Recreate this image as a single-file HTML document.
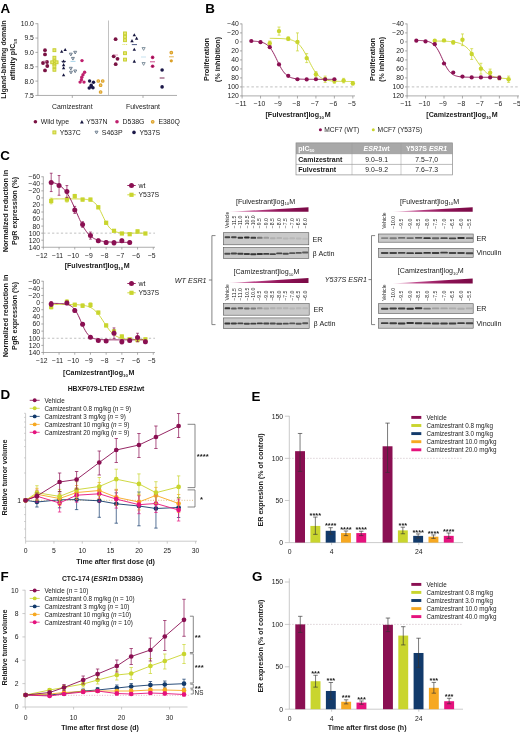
<!DOCTYPE html>
<html><head><meta charset="utf-8"><title>Figure</title>
<style>
html,body{margin:0;padding:0;background:#fff;}
body{width:520px;height:734px;overflow:hidden;}
svg{display:block;font-family:'Liberation Sans', Arial, sans-serif;}
</style></head><body>
<svg width="520" height="734" viewBox="0 0 520 734">
<defs>
<linearGradient id="wedge" x1="0" x2="1" y1="0" y2="0"><stop offset="0" stop-color="#f0cadd"/><stop offset="0.3" stop-color="#bd4a8c"/><stop offset="0.65" stop-color="#8f1257"/><stop offset="1" stop-color="#7a0a46"/></linearGradient>
<filter id="bl" x="-20%" y="-50%" width="140%" height="200%"><feGaussianBlur stdDeviation="0.45"/></filter>
</defs>
<rect width="520" height="734" fill="#fff"/>
<text x="0.6" y="12.5" font-size="13.4" text-anchor="start" font-weight="bold" font-style="normal" fill="#000">A</text>
<line x1="37.90" y1="23.40" x2="37.90" y2="95.75" stroke="#8a8a8a" stroke-width="0.7" stroke-linecap="butt"/>
<line x1="37.90" y1="95.45" x2="177.00" y2="95.45" stroke="#8a8a8a" stroke-width="0.7" stroke-linecap="butt"/>
<line x1="35.40" y1="23.70" x2="37.90" y2="23.70" stroke="#8a8a8a" stroke-width="0.7" stroke-linecap="butt"/>
<text x="33.9" y="26.099999999999998" font-size="6.8" text-anchor="end" font-weight="normal" font-style="normal" fill="#1a1a1a">10.0</text>
<line x1="35.40" y1="38.05" x2="37.90" y2="38.05" stroke="#8a8a8a" stroke-width="0.7" stroke-linecap="butt"/>
<text x="33.9" y="40.449999999999996" font-size="6.8" text-anchor="end" font-weight="normal" font-style="normal" fill="#1a1a1a">9.5</text>
<line x1="35.40" y1="52.40" x2="37.90" y2="52.40" stroke="#8a8a8a" stroke-width="0.7" stroke-linecap="butt"/>
<text x="33.9" y="54.8" font-size="6.8" text-anchor="end" font-weight="normal" font-style="normal" fill="#1a1a1a">9.0</text>
<line x1="35.40" y1="66.75" x2="37.90" y2="66.75" stroke="#8a8a8a" stroke-width="0.7" stroke-linecap="butt"/>
<text x="33.9" y="69.15" font-size="6.8" text-anchor="end" font-weight="normal" font-style="normal" fill="#1a1a1a">8.5</text>
<line x1="35.40" y1="81.10" x2="37.90" y2="81.10" stroke="#8a8a8a" stroke-width="0.7" stroke-linecap="butt"/>
<text x="33.9" y="83.5" font-size="6.8" text-anchor="end" font-weight="normal" font-style="normal" fill="#1a1a1a">8.0</text>
<line x1="35.40" y1="95.45" x2="37.90" y2="95.45" stroke="#8a8a8a" stroke-width="0.7" stroke-linecap="butt"/>
<text x="33.9" y="97.85000000000001" font-size="6.8" text-anchor="end" font-weight="normal" font-style="normal" fill="#1a1a1a">7.5</text>
<line x1="108.50" y1="20.50" x2="108.50" y2="95.45" stroke="#a8a8a8" stroke-width="0.7" stroke-linecap="butt"/>
<line x1="72.30" y1="95.45" x2="72.30" y2="97.95" stroke="#8a8a8a" stroke-width="0.7" stroke-linecap="butt"/>
<line x1="143.00" y1="95.45" x2="143.00" y2="97.95" stroke="#8a8a8a" stroke-width="0.7" stroke-linecap="butt"/>
<text x="72.3" y="108.5" font-size="6.9" text-anchor="middle" font-weight="normal" font-style="normal" fill="#1a1a1a">Camizestrant</text>
<text x="143" y="108.5" font-size="6.9" text-anchor="middle" font-weight="normal" font-style="normal" fill="#1a1a1a">Fulvestrant</text>
<text x="6.5" y="59.6" font-size="7.1" text-anchor="middle" font-weight="bold" font-style="normal" fill="#1a1a1a" transform="rotate(-90 6.5 59.6)">Ligand-binding domain</text>
<text x="15.5" y="59.6" font-size="7.1" text-anchor="middle" font-weight="bold" fill="#1a1a1a" transform="rotate(-90 15.5 59.6)">affinity pIC<tspan font-size="4.4" dy="1.4">50</tspan></text>
<circle cx="45.00" cy="50.20" r="1.9" fill="#7a1243" stroke="none" stroke-width="0"/>
<circle cx="45.00" cy="54.40" r="1.9" fill="#7a1243" stroke="none" stroke-width="0"/>
<circle cx="43.00" cy="63.00" r="1.9" fill="#7a1243" stroke="none" stroke-width="0"/>
<circle cx="47.00" cy="62.00" r="1.9" fill="#7a1243" stroke="none" stroke-width="0"/>
<circle cx="47.30" cy="66.00" r="1.9" fill="#7a1243" stroke="none" stroke-width="0"/>
<circle cx="45.00" cy="70.40" r="1.9" fill="#7a1243" stroke="none" stroke-width="0"/>
<line x1="43.00" y1="61.20" x2="47.00" y2="61.20" stroke="#c46a94" stroke-width="0.7" stroke-linecap="butt"/>
<rect x="52.95" y="48.75" width="2.90" height="2.90" fill="#e6e86e" stroke="#c4cc2c" stroke-width="0.9"/>
<rect x="52.95" y="56.25" width="2.90" height="2.90" fill="#e6e86e" stroke="#c4cc2c" stroke-width="0.9"/>
<rect x="52.95" y="59.75" width="2.90" height="2.90" fill="#e6e86e" stroke="#c4cc2c" stroke-width="0.9"/>
<rect x="52.95" y="62.35" width="2.90" height="2.90" fill="#e6e86e" stroke="#c4cc2c" stroke-width="0.9"/>
<rect x="52.95" y="64.95" width="2.90" height="2.90" fill="#e6e86e" stroke="#c4cc2c" stroke-width="0.9"/>
<rect x="52.95" y="68.35" width="2.90" height="2.90" fill="#e6e86e" stroke="#c4cc2c" stroke-width="0.9"/>
<rect x="50.75" y="60.85" width="2.90" height="2.90" fill="#e6e86e" stroke="#c4cc2c" stroke-width="0.9"/>
<rect x="55.15" y="60.85" width="2.90" height="2.90" fill="#e6e86e" stroke="#c4cc2c" stroke-width="0.9"/>
<polygon points="61.70,49.80 60.00,52.86 63.40,52.86" fill="#16163f"/>
<polygon points="65.20,47.90 63.50,50.96 66.90,50.96" fill="#16163f"/>
<polygon points="63.60,59.50 61.90,62.56 65.30,62.56" fill="#16163f"/>
<polygon points="63.60,63.10 61.90,66.16 65.30,66.16" fill="#16163f"/>
<polygon points="63.60,66.30 61.90,69.36 65.30,69.36" fill="#16163f"/>
<polygon points="63.60,73.30 61.90,76.36 65.30,76.36" fill="#16163f"/>
<line x1="61.50" y1="61.40" x2="66.00" y2="61.40" stroke="#16163f" stroke-width="0.8" stroke-linecap="butt"/>
<polygon points="70.80,55.90 69.30,53.20 72.30,53.20" fill="#f4f1f4" stroke="#6f8090" stroke-width="1.0"/>
<polygon points="75.20,54.00 73.70,51.30 76.70,51.30" fill="#f4f1f4" stroke="#6f8090" stroke-width="1.0"/>
<polygon points="72.90,60.10 71.40,57.40 74.40,57.40" fill="#f4f1f4" stroke="#6f8090" stroke-width="1.0"/>
<polygon points="70.80,70.00 69.30,67.30 72.30,67.30" fill="#f4f1f4" stroke="#6f8090" stroke-width="1.0"/>
<polygon points="75.20,72.70 73.70,70.00 76.70,70.00" fill="#f4f1f4" stroke="#6f8090" stroke-width="1.0"/>
<polygon points="71.00,73.90 69.50,71.20 72.50,71.20" fill="#f4f1f4" stroke="#6f8090" stroke-width="1.0"/>
<line x1="70.50" y1="61.40" x2="75.50" y2="61.40" stroke="#9fd0e6" stroke-width="0.9" stroke-linecap="butt"/>
<circle cx="82.00" cy="60.60" r="1.7" fill="#bf1f6d" stroke="none" stroke-width="0"/>
<circle cx="84.60" cy="72.20" r="1.7" fill="#bf1f6d" stroke="none" stroke-width="0"/>
<circle cx="83.00" cy="74.80" r="1.7" fill="#bf1f6d" stroke="none" stroke-width="0"/>
<circle cx="81.80" cy="77.20" r="1.7" fill="#bf1f6d" stroke="none" stroke-width="0"/>
<circle cx="81.40" cy="79.70" r="1.7" fill="#bf1f6d" stroke="none" stroke-width="0"/>
<circle cx="80.10" cy="82.10" r="1.7" fill="#bf1f6d" stroke="none" stroke-width="0"/>
<circle cx="84.00" cy="82.10" r="1.7" fill="#bf1f6d" stroke="none" stroke-width="0"/>
<circle cx="89.60" cy="81.00" r="1.7" fill="#1b1748" stroke="none" stroke-width="0"/>
<circle cx="93.50" cy="82.30" r="1.7" fill="#1b1748" stroke="none" stroke-width="0"/>
<circle cx="91.20" cy="85.20" r="1.7" fill="#1b1748" stroke="none" stroke-width="0"/>
<circle cx="89.20" cy="88.00" r="1.7" fill="#1b1748" stroke="none" stroke-width="0"/>
<circle cx="93.00" cy="87.70" r="1.7" fill="#1b1748" stroke="none" stroke-width="0"/>
<circle cx="91.20" cy="86.80" r="1.7" fill="#1b1748" stroke="none" stroke-width="0"/>
<circle cx="98.30" cy="81.00" r="1.3" fill="#efcf7a" stroke="#dca12a" stroke-width="1.15"/>
<circle cx="102.70" cy="81.00" r="1.3" fill="#efcf7a" stroke="#dca12a" stroke-width="1.15"/>
<circle cx="100.60" cy="85.20" r="1.3" fill="#efcf7a" stroke="#dca12a" stroke-width="1.15"/>
<circle cx="100.60" cy="92.00" r="1.3" fill="#efcf7a" stroke="#dca12a" stroke-width="1.15"/>
<circle cx="115.60" cy="39.20" r="1.9" fill="#7a1243" stroke="none" stroke-width="0"/>
<circle cx="113.70" cy="56.30" r="1.9" fill="#7a1243" stroke="none" stroke-width="0"/>
<circle cx="117.50" cy="58.80" r="1.9" fill="#7a1243" stroke="none" stroke-width="0"/>
<circle cx="115.70" cy="64.20" r="1.9" fill="#7a1243" stroke="none" stroke-width="0"/>
<line x1="114.00" y1="55.00" x2="118.00" y2="55.00" stroke="#d77aa6" stroke-width="0.7" stroke-linecap="butt"/>
<rect x="123.55" y="31.95" width="2.90" height="2.90" fill="#e6e86e" stroke="#c4cc2c" stroke-width="0.9"/>
<rect x="123.55" y="35.35" width="2.90" height="2.90" fill="#e6e86e" stroke="#c4cc2c" stroke-width="0.9"/>
<rect x="123.55" y="38.75" width="2.90" height="2.90" fill="#e6e86e" stroke="#c4cc2c" stroke-width="0.9"/>
<rect x="123.55" y="51.75" width="2.90" height="2.90" fill="#e6e86e" stroke="#c4cc2c" stroke-width="0.9"/>
<rect x="123.55" y="58.15" width="2.90" height="2.90" fill="#e6e86e" stroke="#c4cc2c" stroke-width="0.9"/>
<line x1="122.50" y1="44.50" x2="127.50" y2="44.50" stroke="#d9dd55" stroke-width="0.9" stroke-dasharray="1 0.8" stroke-linecap="butt"/>
<polygon points="134.30,33.30 132.60,36.36 136.00,36.36" fill="#16163f"/>
<polygon points="132.00,39.10 130.30,42.16 133.70,42.16" fill="#16163f"/>
<polygon points="136.60,36.60 134.90,39.66 138.30,39.66" fill="#16163f"/>
<polygon points="134.30,47.80 132.60,50.86 136.00,50.86" fill="#16163f"/>
<polygon points="134.30,59.60 132.60,62.66 136.00,62.66" fill="#16163f"/>
<line x1="131.80" y1="44.60" x2="137.00" y2="44.60" stroke="#3a4a78" stroke-width="0.9" stroke-linecap="butt"/>
<polygon points="143.60,50.40 142.00,47.52 145.20,47.52" fill="#f4f1f4" stroke="#8a9aa5" stroke-width="1.0"/>
<polygon points="143.60,65.40 142.00,62.52 145.20,62.52" fill="#f4f1f4" stroke="#8a9aa5" stroke-width="1.0"/>
<line x1="141.00" y1="57.00" x2="146.00" y2="57.00" stroke="#b9dcec" stroke-width="0.8" stroke-linecap="butt"/>
<circle cx="152.60" cy="57.40" r="1.8" fill="#bf1f6d" stroke="none" stroke-width="0"/>
<circle cx="152.60" cy="57.40" r="0.7" fill="#7a1243" stroke="none" stroke-width="0"/>
<circle cx="152.60" cy="66.30" r="1.8" fill="#bf1f6d" stroke="none" stroke-width="0"/>
<circle cx="152.60" cy="66.30" r="0.7" fill="#7a1243" stroke="none" stroke-width="0"/>
<line x1="150.00" y1="61.80" x2="155.00" y2="61.80" stroke="#bf1f6d" stroke-width="0.8" stroke-linecap="butt"/>
<circle cx="162.10" cy="70.00" r="1.8" fill="#1b1748" stroke="none" stroke-width="0"/>
<circle cx="162.10" cy="86.90" r="1.8" fill="#1b1748" stroke="none" stroke-width="0"/>
<line x1="159.70" y1="78.00" x2="164.50" y2="78.00" stroke="#6b1040" stroke-width="0.9" stroke-linecap="butt"/>
<circle cx="171.30" cy="52.60" r="1.3" fill="#efcf7a" stroke="#dca12a" stroke-width="1.15"/>
<circle cx="171.30" cy="60.80" r="1.6" fill="#dca12a" stroke="none" stroke-width="0"/>
<line x1="169.00" y1="56.80" x2="173.80" y2="56.80" stroke="#dca12a" stroke-width="0.8" stroke-linecap="butt"/>
<circle cx="35.40" cy="121.80" r="1.8" fill="#7a1243" stroke="none" stroke-width="0"/>
<text x="40.7" y="124.2" font-size="6.9" text-anchor="start" font-weight="normal" font-style="normal" fill="#1a1a1a">Wild type</text>
<polygon points="81.90,120.00 80.00,123.42 83.80,123.42" fill="#16163f"/>
<text x="86.3" y="124.2" font-size="6.9" text-anchor="start" font-weight="normal" font-style="normal" fill="#1a1a1a">Y537N</text>
<circle cx="117.00" cy="121.80" r="1.8" fill="#bf1f6d" stroke="none" stroke-width="0"/>
<text x="122.6" y="124.2" font-size="6.9" text-anchor="start" font-weight="normal" font-style="normal" fill="#1a1a1a">D538G</text>
<circle cx="152.70" cy="121.80" r="1.3" fill="#efcf7a" stroke="#dca12a" stroke-width="1.15"/>
<text x="158.4" y="124.2" font-size="6.9" text-anchor="start" font-weight="normal" font-style="normal" fill="#1a1a1a">E380Q</text>
<rect x="52.90" y="130.90" width="3.00" height="3.00" fill="#e6e86e" stroke="#c4cc2c" stroke-width="0.9"/>
<text x="59.7" y="134.8" font-size="6.9" text-anchor="start" font-weight="normal" font-style="normal" fill="#1a1a1a">Y537C</text>
<polygon points="96.50,133.90 95.00,131.20 98.00,131.20" fill="#f4f1f4" stroke="#6f8090" stroke-width="1.0"/>
<text x="101.8" y="134.8" font-size="6.9" text-anchor="start" font-weight="normal" font-style="normal" fill="#1a1a1a">S463P</text>
<circle cx="134.00" cy="132.40" r="1.8" fill="#1b1748" stroke="none" stroke-width="0"/>
<text x="139.4" y="134.8" font-size="6.9" text-anchor="start" font-weight="normal" font-style="normal" fill="#1a1a1a">Y537S</text>
<text x="205.3" y="12.5" font-size="13.4" text-anchor="start" font-weight="bold" font-style="normal" fill="#000">B</text>
<line x1="242.00" y1="23.60" x2="242.00" y2="96.20" stroke="#8a8a8a" stroke-width="0.7" stroke-linecap="butt"/>
<line x1="242.00" y1="95.90" x2="355.00" y2="95.90" stroke="#8a8a8a" stroke-width="0.7" stroke-linecap="butt"/>
<line x1="240.00" y1="23.90" x2="242.00" y2="23.90" stroke="#8a8a8a" stroke-width="0.7" stroke-linecap="butt"/>
<text x="238.8" y="26.299999999999997" font-size="6.8" text-anchor="end" font-weight="normal" font-style="normal" fill="#1a1a1a">−40</text>
<line x1="240.00" y1="32.90" x2="242.00" y2="32.90" stroke="#8a8a8a" stroke-width="0.7" stroke-linecap="butt"/>
<text x="238.8" y="35.3" font-size="6.8" text-anchor="end" font-weight="normal" font-style="normal" fill="#1a1a1a">−20</text>
<line x1="240.00" y1="41.90" x2="242.00" y2="41.90" stroke="#8a8a8a" stroke-width="0.7" stroke-linecap="butt"/>
<text x="238.8" y="44.3" font-size="6.8" text-anchor="end" font-weight="normal" font-style="normal" fill="#1a1a1a">0</text>
<line x1="240.00" y1="50.90" x2="242.00" y2="50.90" stroke="#8a8a8a" stroke-width="0.7" stroke-linecap="butt"/>
<text x="238.8" y="53.3" font-size="6.8" text-anchor="end" font-weight="normal" font-style="normal" fill="#1a1a1a">20</text>
<line x1="240.00" y1="59.90" x2="242.00" y2="59.90" stroke="#8a8a8a" stroke-width="0.7" stroke-linecap="butt"/>
<text x="238.8" y="62.3" font-size="6.8" text-anchor="end" font-weight="normal" font-style="normal" fill="#1a1a1a">40</text>
<line x1="240.00" y1="68.90" x2="242.00" y2="68.90" stroke="#8a8a8a" stroke-width="0.7" stroke-linecap="butt"/>
<text x="238.8" y="71.30000000000001" font-size="6.8" text-anchor="end" font-weight="normal" font-style="normal" fill="#1a1a1a">60</text>
<line x1="240.00" y1="77.90" x2="242.00" y2="77.90" stroke="#8a8a8a" stroke-width="0.7" stroke-linecap="butt"/>
<text x="238.8" y="80.30000000000001" font-size="6.8" text-anchor="end" font-weight="normal" font-style="normal" fill="#1a1a1a">80</text>
<line x1="240.00" y1="86.90" x2="242.00" y2="86.90" stroke="#8a8a8a" stroke-width="0.7" stroke-linecap="butt"/>
<text x="238.8" y="89.30000000000001" font-size="6.8" text-anchor="end" font-weight="normal" font-style="normal" fill="#1a1a1a">100</text>
<line x1="240.00" y1="95.90" x2="242.00" y2="95.90" stroke="#8a8a8a" stroke-width="0.7" stroke-linecap="butt"/>
<text x="238.8" y="98.30000000000001" font-size="6.8" text-anchor="end" font-weight="normal" font-style="normal" fill="#1a1a1a">120</text>
<line x1="242.08" y1="95.90" x2="242.08" y2="98.50" stroke="#8a8a8a" stroke-width="0.7" stroke-linecap="butt"/>
<text x="241.07999999999998" y="106.10000000000001" font-size="6.8" text-anchor="middle" font-weight="normal" font-style="normal" fill="#1a1a1a">−11</text>
<line x1="260.54" y1="95.90" x2="260.54" y2="98.50" stroke="#8a8a8a" stroke-width="0.7" stroke-linecap="butt"/>
<text x="259.54" y="106.10000000000001" font-size="6.8" text-anchor="middle" font-weight="normal" font-style="normal" fill="#1a1a1a">−10</text>
<line x1="279.00" y1="95.90" x2="279.00" y2="98.50" stroke="#8a8a8a" stroke-width="0.7" stroke-linecap="butt"/>
<text x="278.0" y="106.10000000000001" font-size="6.8" text-anchor="middle" font-weight="normal" font-style="normal" fill="#1a1a1a">−9</text>
<line x1="297.46" y1="95.90" x2="297.46" y2="98.50" stroke="#8a8a8a" stroke-width="0.7" stroke-linecap="butt"/>
<text x="296.46" y="106.10000000000001" font-size="6.8" text-anchor="middle" font-weight="normal" font-style="normal" fill="#1a1a1a">−8</text>
<line x1="315.92" y1="95.90" x2="315.92" y2="98.50" stroke="#8a8a8a" stroke-width="0.7" stroke-linecap="butt"/>
<text x="314.92" y="106.10000000000001" font-size="6.8" text-anchor="middle" font-weight="normal" font-style="normal" fill="#1a1a1a">−7</text>
<line x1="334.38" y1="95.90" x2="334.38" y2="98.50" stroke="#8a8a8a" stroke-width="0.7" stroke-linecap="butt"/>
<text x="333.38" y="106.10000000000001" font-size="6.8" text-anchor="middle" font-weight="normal" font-style="normal" fill="#1a1a1a">−6</text>
<line x1="352.84" y1="95.90" x2="352.84" y2="98.50" stroke="#8a8a8a" stroke-width="0.7" stroke-linecap="butt"/>
<text x="351.84000000000003" y="106.10000000000001" font-size="6.8" text-anchor="middle" font-weight="normal" font-style="normal" fill="#1a1a1a">−5</text>
<line x1="242.00" y1="86.90" x2="355.00" y2="86.90" stroke="#b6b6b6" stroke-width="0.85" stroke-dasharray="2.5 2.2" stroke-linecap="butt"/>
<text x="298" y="117.2" font-size="7.1" text-anchor="middle" font-weight="bold" fill="#1a1a1a">[Fulvestrant]log<tspan font-size="4.3" dy="1.8">10</tspan><tspan dy="-1.8" dx="0.8">M</tspan></text>
<text x="209.3" y="59.4" font-size="7.3" text-anchor="middle" font-weight="bold" font-style="normal" fill="#1a1a1a" transform="rotate(-90 209.3 59.4)">Proliferation</text>
<text x="219.6" y="59.4" font-size="7.1" text-anchor="middle" font-weight="bold" font-style="normal" fill="#1a1a1a" transform="rotate(-90 219.6 59.4)">(% inhibition)</text>
<polyline points="269.77,38.33 270.81,38.34 271.85,38.35 272.89,38.35 273.92,38.37 274.96,38.38 276.00,38.40 277.04,38.42 278.08,38.44 279.12,38.48 280.15,38.51 281.19,38.56 282.23,38.61 283.27,38.68 284.31,38.76 285.35,38.86 286.38,38.97 287.42,39.12 288.46,39.29 289.50,39.49 290.54,39.74 291.58,40.04 292.61,40.39 293.65,40.81 294.69,41.31 295.73,41.91 296.77,42.60 297.81,43.42 298.84,44.36 299.88,45.44 300.92,46.68 301.96,48.07 303.00,49.61 304.04,51.31 305.07,53.14 306.11,55.09 307.15,57.12 308.19,59.20 309.23,61.30 310.27,63.37 311.31,65.37 312.34,67.28 313.38,69.07 314.42,70.72 315.46,72.21 316.50,73.55 317.54,74.73 318.57,75.77 319.61,76.67 320.65,77.44 321.69,78.10 322.73,78.66 323.77,79.14 324.80,79.53 325.84,79.87 326.88,80.15 327.92,80.38 328.96,80.57 330.00,80.73 331.03,80.87 332.07,80.98 333.11,81.07 334.15,81.14 335.19,81.21 336.23,81.26 337.26,81.30 338.30,81.34 339.34,81.36 340.38,81.39 341.42,81.41 342.46,81.42 343.49,81.44 344.53,81.45 345.57,81.46 346.61,81.47 347.65,81.47 348.69,81.48 349.72,81.48 350.76,81.48 351.80,81.49 352.84,81.49" fill="none" stroke="#c9d52e" stroke-width="0.9" stroke-linejoin="round"/>
<polyline points="251.31,41.09 252.35,41.13 253.39,41.17 254.43,41.23 255.46,41.30 256.50,41.38 257.54,41.49 258.58,41.62 259.62,41.79 260.66,41.99 261.69,42.25 262.73,42.57 263.77,42.95 264.81,43.43 265.85,44.01 266.89,44.71 267.92,45.55 268.96,46.55 270.00,47.72 271.04,49.08 272.08,50.63 273.12,52.36 274.15,54.25 275.19,56.29 276.23,58.41 277.27,60.58 278.31,62.74 279.35,64.84 280.38,66.82 281.42,68.65 282.46,70.31 283.50,71.78 284.54,73.06 285.58,74.16 286.61,75.10 287.65,75.88 288.69,76.53 289.73,77.07 290.77,77.51 291.81,77.86 292.85,78.15 293.88,78.39 294.92,78.58 295.96,78.73 297.00,78.85 298.04,78.95 299.08,79.03 300.11,79.09 301.15,79.14 302.19,79.18 303.23,79.21 304.27,79.24 305.31,79.26 306.34,79.28 307.38,79.29 308.42,79.30 309.46,79.31 310.50,79.31 311.54,79.32 312.57,79.32 313.61,79.33 314.65,79.33 315.69,79.33 316.73,79.33 317.77,79.33 318.80,79.34 319.84,79.34 320.88,79.34 321.92,79.34 322.96,79.34 324.00,79.34 325.03,79.34 326.07,79.34 327.11,79.34 328.15,79.34 329.19,79.34 330.23,79.34 331.26,79.34 332.30,79.34 333.34,79.34 334.38,79.34" fill="none" stroke="#8a0f52" stroke-width="0.9" stroke-linejoin="round"/>
<line x1="269.77" y1="41.00" x2="269.77" y2="45.50" stroke="#c9d52e" stroke-width="0.7" stroke-linecap="butt"/>
<line x1="268.27" y1="41.00" x2="271.27" y2="41.00" stroke="#c9d52e" stroke-width="0.7" stroke-linecap="butt"/>
<line x1="268.27" y1="45.50" x2="271.27" y2="45.50" stroke="#c9d52e" stroke-width="0.7" stroke-linecap="butt"/>
<line x1="279.00" y1="27.05" x2="279.00" y2="35.15" stroke="#c9d52e" stroke-width="0.7" stroke-linecap="butt"/>
<line x1="277.50" y1="27.05" x2="280.50" y2="27.05" stroke="#c9d52e" stroke-width="0.7" stroke-linecap="butt"/>
<line x1="277.50" y1="35.15" x2="280.50" y2="35.15" stroke="#c9d52e" stroke-width="0.7" stroke-linecap="butt"/>
<line x1="288.23" y1="36.95" x2="288.23" y2="40.55" stroke="#c9d52e" stroke-width="0.7" stroke-linecap="butt"/>
<line x1="286.73" y1="36.95" x2="289.73" y2="36.95" stroke="#c9d52e" stroke-width="0.7" stroke-linecap="butt"/>
<line x1="286.73" y1="40.55" x2="289.73" y2="40.55" stroke="#c9d52e" stroke-width="0.7" stroke-linecap="butt"/>
<line x1="297.46" y1="32.90" x2="297.46" y2="50.90" stroke="#c9d52e" stroke-width="0.7" stroke-linecap="butt"/>
<line x1="295.96" y1="32.90" x2="298.96" y2="32.90" stroke="#c9d52e" stroke-width="0.7" stroke-linecap="butt"/>
<line x1="295.96" y1="50.90" x2="298.96" y2="50.90" stroke="#c9d52e" stroke-width="0.7" stroke-linecap="butt"/>
<line x1="306.69" y1="53.60" x2="306.69" y2="62.60" stroke="#c9d52e" stroke-width="0.7" stroke-linecap="butt"/>
<line x1="305.19" y1="53.60" x2="308.19" y2="53.60" stroke="#c9d52e" stroke-width="0.7" stroke-linecap="butt"/>
<line x1="305.19" y1="62.60" x2="308.19" y2="62.60" stroke="#c9d52e" stroke-width="0.7" stroke-linecap="butt"/>
<line x1="315.92" y1="71.60" x2="315.92" y2="77.00" stroke="#c9d52e" stroke-width="0.7" stroke-linecap="butt"/>
<line x1="314.42" y1="71.60" x2="317.42" y2="71.60" stroke="#c9d52e" stroke-width="0.7" stroke-linecap="butt"/>
<line x1="314.42" y1="77.00" x2="317.42" y2="77.00" stroke="#c9d52e" stroke-width="0.7" stroke-linecap="butt"/>
<line x1="325.15" y1="76.10" x2="325.15" y2="82.40" stroke="#c9d52e" stroke-width="0.7" stroke-linecap="butt"/>
<line x1="323.65" y1="76.10" x2="326.65" y2="76.10" stroke="#c9d52e" stroke-width="0.7" stroke-linecap="butt"/>
<line x1="323.65" y1="82.40" x2="326.65" y2="82.40" stroke="#c9d52e" stroke-width="0.7" stroke-linecap="butt"/>
<line x1="334.38" y1="78.80" x2="334.38" y2="83.30" stroke="#c9d52e" stroke-width="0.7" stroke-linecap="butt"/>
<line x1="332.88" y1="78.80" x2="335.88" y2="78.80" stroke="#c9d52e" stroke-width="0.7" stroke-linecap="butt"/>
<line x1="332.88" y1="83.30" x2="335.88" y2="83.30" stroke="#c9d52e" stroke-width="0.7" stroke-linecap="butt"/>
<line x1="343.61" y1="78.35" x2="343.61" y2="82.85" stroke="#c9d52e" stroke-width="0.7" stroke-linecap="butt"/>
<line x1="342.11" y1="78.35" x2="345.11" y2="78.35" stroke="#c9d52e" stroke-width="0.7" stroke-linecap="butt"/>
<line x1="342.11" y1="82.85" x2="345.11" y2="82.85" stroke="#c9d52e" stroke-width="0.7" stroke-linecap="butt"/>
<line x1="352.84" y1="81.50" x2="352.84" y2="85.10" stroke="#c9d52e" stroke-width="0.7" stroke-linecap="butt"/>
<line x1="351.34" y1="81.50" x2="354.34" y2="81.50" stroke="#c9d52e" stroke-width="0.7" stroke-linecap="butt"/>
<line x1="351.34" y1="85.10" x2="354.34" y2="85.10" stroke="#c9d52e" stroke-width="0.7" stroke-linecap="butt"/>
<circle cx="269.77" cy="43.25" r="2.2" fill="#c9d52e" stroke="none" stroke-width="0"/>
<circle cx="279.00" cy="31.10" r="2.2" fill="#c9d52e" stroke="none" stroke-width="0"/>
<circle cx="288.23" cy="38.75" r="2.2" fill="#c9d52e" stroke="none" stroke-width="0"/>
<circle cx="297.46" cy="41.90" r="2.2" fill="#c9d52e" stroke="none" stroke-width="0"/>
<circle cx="306.69" cy="58.10" r="2.2" fill="#c9d52e" stroke="none" stroke-width="0"/>
<circle cx="315.92" cy="74.30" r="2.2" fill="#c9d52e" stroke="none" stroke-width="0"/>
<circle cx="325.15" cy="79.25" r="2.2" fill="#c9d52e" stroke="none" stroke-width="0"/>
<circle cx="334.38" cy="81.05" r="2.2" fill="#c9d52e" stroke="none" stroke-width="0"/>
<circle cx="343.61" cy="80.60" r="2.2" fill="#c9d52e" stroke="none" stroke-width="0"/>
<circle cx="352.84" cy="83.30" r="2.2" fill="#c9d52e" stroke="none" stroke-width="0"/>
<circle cx="251.31" cy="41.00" r="2.1" fill="#8a0f52" stroke="none" stroke-width="0"/>
<circle cx="260.54" cy="42.21" r="2.1" fill="#8a0f52" stroke="none" stroke-width="0"/>
<circle cx="269.77" cy="47.21" r="2.1" fill="#8a0f52" stroke="none" stroke-width="0"/>
<circle cx="279.00" cy="64.40" r="2.1" fill="#8a0f52" stroke="none" stroke-width="0"/>
<circle cx="288.23" cy="75.78" r="2.1" fill="#8a0f52" stroke="none" stroke-width="0"/>
<circle cx="297.46" cy="79.25" r="2.1" fill="#8a0f52" stroke="none" stroke-width="0"/>
<circle cx="306.69" cy="79.47" r="2.1" fill="#8a0f52" stroke="none" stroke-width="0"/>
<circle cx="315.92" cy="79.25" r="2.1" fill="#8a0f52" stroke="none" stroke-width="0"/>
<circle cx="325.15" cy="79.25" r="2.1" fill="#8a0f52" stroke="none" stroke-width="0"/>
<circle cx="334.38" cy="79.25" r="2.1" fill="#8a0f52" stroke="none" stroke-width="0"/>
<line x1="407.10" y1="23.60" x2="407.10" y2="96.20" stroke="#8a8a8a" stroke-width="0.7" stroke-linecap="butt"/>
<line x1="407.10" y1="95.90" x2="519.00" y2="95.90" stroke="#8a8a8a" stroke-width="0.7" stroke-linecap="butt"/>
<line x1="405.10" y1="23.90" x2="407.10" y2="23.90" stroke="#8a8a8a" stroke-width="0.7" stroke-linecap="butt"/>
<text x="403.90000000000003" y="26.299999999999997" font-size="6.8" text-anchor="end" font-weight="normal" font-style="normal" fill="#1a1a1a">−40</text>
<line x1="405.10" y1="32.90" x2="407.10" y2="32.90" stroke="#8a8a8a" stroke-width="0.7" stroke-linecap="butt"/>
<text x="403.90000000000003" y="35.3" font-size="6.8" text-anchor="end" font-weight="normal" font-style="normal" fill="#1a1a1a">−20</text>
<line x1="405.10" y1="41.90" x2="407.10" y2="41.90" stroke="#8a8a8a" stroke-width="0.7" stroke-linecap="butt"/>
<text x="403.90000000000003" y="44.3" font-size="6.8" text-anchor="end" font-weight="normal" font-style="normal" fill="#1a1a1a">0</text>
<line x1="405.10" y1="50.90" x2="407.10" y2="50.90" stroke="#8a8a8a" stroke-width="0.7" stroke-linecap="butt"/>
<text x="403.90000000000003" y="53.3" font-size="6.8" text-anchor="end" font-weight="normal" font-style="normal" fill="#1a1a1a">20</text>
<line x1="405.10" y1="59.90" x2="407.10" y2="59.90" stroke="#8a8a8a" stroke-width="0.7" stroke-linecap="butt"/>
<text x="403.90000000000003" y="62.3" font-size="6.8" text-anchor="end" font-weight="normal" font-style="normal" fill="#1a1a1a">40</text>
<line x1="405.10" y1="68.90" x2="407.10" y2="68.90" stroke="#8a8a8a" stroke-width="0.7" stroke-linecap="butt"/>
<text x="403.90000000000003" y="71.30000000000001" font-size="6.8" text-anchor="end" font-weight="normal" font-style="normal" fill="#1a1a1a">60</text>
<line x1="405.10" y1="77.90" x2="407.10" y2="77.90" stroke="#8a8a8a" stroke-width="0.7" stroke-linecap="butt"/>
<text x="403.90000000000003" y="80.30000000000001" font-size="6.8" text-anchor="end" font-weight="normal" font-style="normal" fill="#1a1a1a">80</text>
<line x1="405.10" y1="86.90" x2="407.10" y2="86.90" stroke="#8a8a8a" stroke-width="0.7" stroke-linecap="butt"/>
<text x="403.90000000000003" y="89.30000000000001" font-size="6.8" text-anchor="end" font-weight="normal" font-style="normal" fill="#1a1a1a">100</text>
<line x1="405.10" y1="95.90" x2="407.10" y2="95.90" stroke="#8a8a8a" stroke-width="0.7" stroke-linecap="butt"/>
<text x="403.90000000000003" y="98.30000000000001" font-size="6.8" text-anchor="end" font-weight="normal" font-style="normal" fill="#1a1a1a">120</text>
<line x1="407.08" y1="95.90" x2="407.08" y2="98.50" stroke="#8a8a8a" stroke-width="0.7" stroke-linecap="butt"/>
<text x="406.08" y="106.10000000000001" font-size="6.8" text-anchor="middle" font-weight="normal" font-style="normal" fill="#1a1a1a">−11</text>
<line x1="425.54" y1="95.90" x2="425.54" y2="98.50" stroke="#8a8a8a" stroke-width="0.7" stroke-linecap="butt"/>
<text x="424.54" y="106.10000000000001" font-size="6.8" text-anchor="middle" font-weight="normal" font-style="normal" fill="#1a1a1a">−10</text>
<line x1="444.00" y1="95.90" x2="444.00" y2="98.50" stroke="#8a8a8a" stroke-width="0.7" stroke-linecap="butt"/>
<text x="443.0" y="106.10000000000001" font-size="6.8" text-anchor="middle" font-weight="normal" font-style="normal" fill="#1a1a1a">−9</text>
<line x1="462.46" y1="95.90" x2="462.46" y2="98.50" stroke="#8a8a8a" stroke-width="0.7" stroke-linecap="butt"/>
<text x="461.46" y="106.10000000000001" font-size="6.8" text-anchor="middle" font-weight="normal" font-style="normal" fill="#1a1a1a">−8</text>
<line x1="480.92" y1="95.90" x2="480.92" y2="98.50" stroke="#8a8a8a" stroke-width="0.7" stroke-linecap="butt"/>
<text x="479.92" y="106.10000000000001" font-size="6.8" text-anchor="middle" font-weight="normal" font-style="normal" fill="#1a1a1a">−7</text>
<line x1="499.38" y1="95.90" x2="499.38" y2="98.50" stroke="#8a8a8a" stroke-width="0.7" stroke-linecap="butt"/>
<text x="498.38" y="106.10000000000001" font-size="6.8" text-anchor="middle" font-weight="normal" font-style="normal" fill="#1a1a1a">−6</text>
<line x1="517.84" y1="95.90" x2="517.84" y2="98.50" stroke="#8a8a8a" stroke-width="0.7" stroke-linecap="butt"/>
<text x="516.84" y="106.10000000000001" font-size="6.8" text-anchor="middle" font-weight="normal" font-style="normal" fill="#1a1a1a">−5</text>
<line x1="407.10" y1="86.90" x2="519.00" y2="86.90" stroke="#b6b6b6" stroke-width="0.85" stroke-dasharray="2.5 2.2" stroke-linecap="butt"/>
<text x="462" y="117.2" font-size="7.1" text-anchor="middle" font-weight="bold" fill="#1a1a1a">[Camizestrant]log<tspan font-size="4.3" dy="1.8">10</tspan><tspan dy="-1.8" dx="0.8">M</tspan></text>
<text x="374.6" y="59.4" font-size="7.3" text-anchor="middle" font-weight="bold" font-style="normal" fill="#1a1a1a" transform="rotate(-90 374.6 59.4)">Proliferation</text>
<text x="384.2" y="59.4" font-size="7.1" text-anchor="middle" font-weight="bold" font-style="normal" fill="#1a1a1a" transform="rotate(-90 384.2 59.4)">(% inhibition)</text>
<polyline points="434.77,41.04 435.69,41.05 436.62,41.06 437.54,41.07 438.46,41.08 439.38,41.09 440.31,41.11 441.23,41.13 442.15,41.15 443.08,41.17 444.00,41.20 444.92,41.23 445.85,41.27 446.77,41.31 447.69,41.36 448.62,41.42 449.54,41.49 450.46,41.56 451.38,41.65 452.31,41.76 453.23,41.88 454.15,42.01 455.08,42.17 456.00,42.35 456.92,42.56 457.85,42.80 458.77,43.08 459.69,43.39 460.61,43.75 461.54,44.16 462.46,44.62 463.38,45.14 464.31,45.73 465.23,46.38 466.15,47.11 467.07,47.91 468.00,48.80 468.92,49.77 469.84,50.82 470.77,51.94 471.69,53.14 472.61,54.41 473.54,55.73 474.46,57.09 475.38,58.49 476.31,59.90 477.23,61.31 478.15,62.71 479.07,64.07 480.00,65.39 480.92,66.66 481.84,67.86 482.77,68.98 483.69,70.03 484.61,71.00 485.54,71.89 486.46,72.69 487.38,73.42 488.30,74.07 489.23,74.66 490.15,75.18 491.07,75.64 492.00,76.05 492.92,76.41 493.84,76.72 494.76,77.00 495.69,77.24 496.61,77.45 497.53,77.63 498.46,77.79 499.38,77.92 500.30,78.04 501.23,78.15 502.15,78.24 503.07,78.31 504.00,78.38 504.92,78.44 505.84,78.49 506.76,78.53 507.69,78.57 508.61,78.60" fill="none" stroke="#c9d52e" stroke-width="0.9" stroke-linejoin="round"/>
<polyline points="416.31,40.40 417.35,40.42 418.39,40.44 419.43,40.48 420.46,40.52 421.50,40.57 422.54,40.64 423.58,40.73 424.62,40.85 425.66,40.99 426.69,41.18 427.73,41.41 428.77,41.70 429.81,42.08 430.85,42.54 431.89,43.12 432.92,43.83 433.96,44.71 435.00,45.76 436.04,47.02 437.08,48.49 438.12,50.18 439.15,52.08 440.19,54.15 441.23,56.36 442.27,58.64 443.31,60.93 444.35,63.15 445.38,65.25 446.42,67.17 447.46,68.89 448.50,70.39 449.54,71.68 450.58,72.76 451.61,73.66 452.65,74.39 453.69,74.98 454.73,75.46 455.77,75.85 456.81,76.15 457.85,76.39 458.88,76.58 459.92,76.73 460.96,76.85 462.00,76.94 463.04,77.01 464.08,77.07 465.11,77.11 466.15,77.15 467.19,77.17 468.23,77.20 469.27,77.21 470.31,77.22 471.34,77.23 472.38,77.24 473.42,77.25 474.46,77.25 475.50,77.26 476.54,77.26 477.57,77.26 478.61,77.26 479.65,77.27 480.69,77.27 481.73,77.27 482.77,77.27 483.80,77.27 484.84,77.27 485.88,77.27 486.92,77.27 487.96,77.27 489.00,77.27 490.03,77.27 491.07,77.27 492.11,77.27 493.15,77.27 494.19,77.27 495.23,77.27 496.26,77.27 497.30,77.27 498.34,77.27 499.38,77.27" fill="none" stroke="#8a0f52" stroke-width="0.9" stroke-linejoin="round"/>
<line x1="453.23" y1="40.55" x2="453.23" y2="44.15" stroke="#c9d52e" stroke-width="0.7" stroke-linecap="butt"/>
<line x1="451.73" y1="40.55" x2="454.73" y2="40.55" stroke="#c9d52e" stroke-width="0.7" stroke-linecap="butt"/>
<line x1="451.73" y1="44.15" x2="454.73" y2="44.15" stroke="#c9d52e" stroke-width="0.7" stroke-linecap="butt"/>
<line x1="462.46" y1="33.94" x2="462.46" y2="45.63" stroke="#c9d52e" stroke-width="0.7" stroke-linecap="butt"/>
<line x1="460.96" y1="33.94" x2="463.96" y2="33.94" stroke="#c9d52e" stroke-width="0.7" stroke-linecap="butt"/>
<line x1="460.96" y1="45.63" x2="463.96" y2="45.63" stroke="#c9d52e" stroke-width="0.7" stroke-linecap="butt"/>
<line x1="471.69" y1="48.65" x2="471.69" y2="59.45" stroke="#c9d52e" stroke-width="0.7" stroke-linecap="butt"/>
<line x1="470.19" y1="48.65" x2="473.19" y2="48.65" stroke="#c9d52e" stroke-width="0.7" stroke-linecap="butt"/>
<line x1="470.19" y1="59.45" x2="473.19" y2="59.45" stroke="#c9d52e" stroke-width="0.7" stroke-linecap="butt"/>
<line x1="480.92" y1="63.27" x2="480.92" y2="74.08" stroke="#c9d52e" stroke-width="0.7" stroke-linecap="butt"/>
<line x1="479.42" y1="63.27" x2="482.42" y2="63.27" stroke="#c9d52e" stroke-width="0.7" stroke-linecap="butt"/>
<line x1="479.42" y1="74.08" x2="482.42" y2="74.08" stroke="#c9d52e" stroke-width="0.7" stroke-linecap="butt"/>
<line x1="490.15" y1="69.08" x2="490.15" y2="76.28" stroke="#c9d52e" stroke-width="0.7" stroke-linecap="butt"/>
<line x1="488.65" y1="69.08" x2="491.65" y2="69.08" stroke="#c9d52e" stroke-width="0.7" stroke-linecap="butt"/>
<line x1="488.65" y1="76.28" x2="491.65" y2="76.28" stroke="#c9d52e" stroke-width="0.7" stroke-linecap="butt"/>
<line x1="499.38" y1="76.10" x2="499.38" y2="79.70" stroke="#c9d52e" stroke-width="0.7" stroke-linecap="butt"/>
<line x1="497.88" y1="76.10" x2="500.88" y2="76.10" stroke="#c9d52e" stroke-width="0.7" stroke-linecap="butt"/>
<line x1="497.88" y1="79.70" x2="500.88" y2="79.70" stroke="#c9d52e" stroke-width="0.7" stroke-linecap="butt"/>
<line x1="508.61" y1="76.10" x2="508.61" y2="82.40" stroke="#c9d52e" stroke-width="0.7" stroke-linecap="butt"/>
<line x1="507.11" y1="76.10" x2="510.11" y2="76.10" stroke="#c9d52e" stroke-width="0.7" stroke-linecap="butt"/>
<line x1="507.11" y1="82.40" x2="510.11" y2="82.40" stroke="#c9d52e" stroke-width="0.7" stroke-linecap="butt"/>
<circle cx="434.77" cy="40.68" r="2.2" fill="#c9d52e" stroke="none" stroke-width="0"/>
<circle cx="444.00" cy="40.41" r="2.2" fill="#c9d52e" stroke="none" stroke-width="0"/>
<circle cx="453.23" cy="42.35" r="2.2" fill="#c9d52e" stroke="none" stroke-width="0"/>
<circle cx="462.46" cy="39.78" r="2.2" fill="#c9d52e" stroke="none" stroke-width="0"/>
<circle cx="471.69" cy="54.05" r="2.2" fill="#c9d52e" stroke="none" stroke-width="0"/>
<circle cx="480.92" cy="68.67" r="2.2" fill="#c9d52e" stroke="none" stroke-width="0"/>
<circle cx="490.15" cy="72.68" r="2.2" fill="#c9d52e" stroke="none" stroke-width="0"/>
<circle cx="499.38" cy="77.90" r="2.2" fill="#c9d52e" stroke="none" stroke-width="0"/>
<circle cx="508.61" cy="79.25" r="2.2" fill="#c9d52e" stroke="none" stroke-width="0"/>
<line x1="499.38" y1="76.10" x2="499.38" y2="79.70" stroke="#8a0f52" stroke-width="0.7" stroke-linecap="butt"/>
<line x1="497.88" y1="76.10" x2="500.88" y2="76.10" stroke="#8a0f52" stroke-width="0.7" stroke-linecap="butt"/>
<line x1="497.88" y1="79.70" x2="500.88" y2="79.70" stroke="#8a0f52" stroke-width="0.7" stroke-linecap="butt"/>
<circle cx="416.31" cy="40.68" r="2.1" fill="#8a0f52" stroke="none" stroke-width="0"/>
<circle cx="425.54" cy="41.45" r="2.1" fill="#8a0f52" stroke="none" stroke-width="0"/>
<circle cx="434.77" cy="44.15" r="2.1" fill="#8a0f52" stroke="none" stroke-width="0"/>
<circle cx="444.00" cy="63.50" r="2.1" fill="#8a0f52" stroke="none" stroke-width="0"/>
<circle cx="453.23" cy="72.50" r="2.1" fill="#8a0f52" stroke="none" stroke-width="0"/>
<circle cx="462.46" cy="76.55" r="2.1" fill="#8a0f52" stroke="none" stroke-width="0"/>
<circle cx="471.69" cy="77.45" r="2.1" fill="#8a0f52" stroke="none" stroke-width="0"/>
<circle cx="480.92" cy="77.45" r="2.1" fill="#8a0f52" stroke="none" stroke-width="0"/>
<circle cx="490.15" cy="77.45" r="2.1" fill="#8a0f52" stroke="none" stroke-width="0"/>
<circle cx="499.38" cy="77.90" r="2.1" fill="#8a0f52" stroke="none" stroke-width="0"/>
<circle cx="320.40" cy="129.80" r="1.5" fill="#8a0f52" stroke="none" stroke-width="0"/>
<text x="324.3" y="132.2" font-size="6.7" text-anchor="start" font-weight="normal" font-style="normal" fill="#1a1a1a">MCF7 (WT)</text>
<circle cx="373.30" cy="129.80" r="1.5" fill="#c9d52e" stroke="none" stroke-width="0"/>
<text x="377.6" y="132.2" font-size="6.7" text-anchor="start" font-weight="normal" font-style="normal" fill="#1a1a1a">MCF7 (Y537S)</text>
<rect x="296.00" y="142.90" width="156.40" height="10.80" fill="#a8a8a8" stroke="none" stroke-width="0"/>
<rect x="296.00" y="142.90" width="156.40" height="32.00" fill="none" stroke="#8c8c8c" stroke-width="0.7"/>
<line x1="296.00" y1="153.70" x2="452.40" y2="153.70" stroke="#8c8c8c" stroke-width="0.6" stroke-linecap="butt"/>
<line x1="296.00" y1="164.40" x2="452.40" y2="164.40" stroke="#8c8c8c" stroke-width="0.6" stroke-linecap="butt"/>
<line x1="352.00" y1="142.90" x2="352.00" y2="174.90" stroke="#999" stroke-width="0.5" stroke-linecap="butt"/>
<line x1="401.00" y1="142.90" x2="401.00" y2="174.90" stroke="#999" stroke-width="0.5" stroke-linecap="butt"/>
<text x="298.3" y="150.8" font-size="7" font-weight="bold" fill="#fff">pIC<tspan font-size="4.3" dy="1.4">50</tspan></text>
<text x="376.6" y="150.8" font-size="7" font-weight="bold" fill="#fff" text-anchor="middle"><tspan font-style="italic">ESR1</tspan>wt</text>
<text x="426.6" y="150.8" font-size="7" font-weight="bold" fill="#fff" text-anchor="middle">Y537S <tspan font-style="italic">ESR1</tspan></text>
<text x="298.3" y="161.6" font-size="7" text-anchor="start" font-weight="bold" font-style="normal" fill="#1a1a1a">Camizestrant</text>
<text x="298.3" y="172.2" font-size="7" text-anchor="start" font-weight="bold" font-style="normal" fill="#1a1a1a">Fulvestrant</text>
<text x="376.6" y="161.6" font-size="6.8" text-anchor="middle" font-weight="normal" font-style="normal" fill="#1a1a1a">9.0–9.1</text>
<text x="426.6" y="161.6" font-size="6.8" text-anchor="middle" font-weight="normal" font-style="normal" fill="#1a1a1a">7.5–7,0</text>
<text x="376.6" y="172.2" font-size="6.8" text-anchor="middle" font-weight="normal" font-style="normal" fill="#1a1a1a">9.0–9.2</text>
<text x="426.6" y="172.2" font-size="6.8" text-anchor="middle" font-weight="normal" font-style="normal" fill="#1a1a1a">7.6–7.3</text>
<text x="0.3" y="159.6" font-size="13.4" text-anchor="start" font-weight="bold" font-style="normal" fill="#000">C</text>
<line x1="43.30" y1="176.45" x2="43.30" y2="247.55" stroke="#8a8a8a" stroke-width="0.7" stroke-linecap="butt"/>
<line x1="43.30" y1="247.25" x2="155.00" y2="247.25" stroke="#8a8a8a" stroke-width="0.7" stroke-linecap="butt"/>
<line x1="41.30" y1="176.75" x2="43.30" y2="176.75" stroke="#8a8a8a" stroke-width="0.7" stroke-linecap="butt"/>
<text x="40.099999999999994" y="179.15" font-size="6.8" text-anchor="end" font-weight="normal" font-style="normal" fill="#1a1a1a">−60</text>
<line x1="41.30" y1="183.80" x2="43.30" y2="183.80" stroke="#8a8a8a" stroke-width="0.7" stroke-linecap="butt"/>
<text x="40.099999999999994" y="186.20000000000002" font-size="6.8" text-anchor="end" font-weight="normal" font-style="normal" fill="#1a1a1a">−40</text>
<line x1="41.30" y1="190.85" x2="43.30" y2="190.85" stroke="#8a8a8a" stroke-width="0.7" stroke-linecap="butt"/>
<text x="40.099999999999994" y="193.25" font-size="6.8" text-anchor="end" font-weight="normal" font-style="normal" fill="#1a1a1a">−20</text>
<line x1="41.30" y1="197.90" x2="43.30" y2="197.90" stroke="#8a8a8a" stroke-width="0.7" stroke-linecap="butt"/>
<text x="40.099999999999994" y="200.3" font-size="6.8" text-anchor="end" font-weight="normal" font-style="normal" fill="#1a1a1a">0</text>
<line x1="41.30" y1="204.95" x2="43.30" y2="204.95" stroke="#8a8a8a" stroke-width="0.7" stroke-linecap="butt"/>
<text x="40.099999999999994" y="207.35000000000002" font-size="6.8" text-anchor="end" font-weight="normal" font-style="normal" fill="#1a1a1a">20</text>
<line x1="41.30" y1="212.00" x2="43.30" y2="212.00" stroke="#8a8a8a" stroke-width="0.7" stroke-linecap="butt"/>
<text x="40.099999999999994" y="214.4" font-size="6.8" text-anchor="end" font-weight="normal" font-style="normal" fill="#1a1a1a">40</text>
<line x1="41.30" y1="219.05" x2="43.30" y2="219.05" stroke="#8a8a8a" stroke-width="0.7" stroke-linecap="butt"/>
<text x="40.099999999999994" y="221.45000000000002" font-size="6.8" text-anchor="end" font-weight="normal" font-style="normal" fill="#1a1a1a">60</text>
<line x1="41.30" y1="226.10" x2="43.30" y2="226.10" stroke="#8a8a8a" stroke-width="0.7" stroke-linecap="butt"/>
<text x="40.099999999999994" y="228.5" font-size="6.8" text-anchor="end" font-weight="normal" font-style="normal" fill="#1a1a1a">80</text>
<line x1="41.30" y1="233.15" x2="43.30" y2="233.15" stroke="#8a8a8a" stroke-width="0.7" stroke-linecap="butt"/>
<text x="40.099999999999994" y="235.55" font-size="6.8" text-anchor="end" font-weight="normal" font-style="normal" fill="#1a1a1a">100</text>
<line x1="41.30" y1="240.20" x2="43.30" y2="240.20" stroke="#8a8a8a" stroke-width="0.7" stroke-linecap="butt"/>
<text x="40.099999999999994" y="242.6" font-size="6.8" text-anchor="end" font-weight="normal" font-style="normal" fill="#1a1a1a">120</text>
<line x1="41.30" y1="247.25" x2="43.30" y2="247.25" stroke="#8a8a8a" stroke-width="0.7" stroke-linecap="butt"/>
<text x="40.099999999999994" y="249.65" font-size="6.8" text-anchor="end" font-weight="normal" font-style="normal" fill="#1a1a1a">140</text>
<line x1="43.35" y1="247.25" x2="43.35" y2="249.45" stroke="#8a8a8a" stroke-width="0.7" stroke-linecap="butt"/>
<text x="41.85" y="257.85" font-size="6.8" text-anchor="middle" font-weight="normal" font-style="normal" fill="#1a1a1a">−12</text>
<line x1="59.05" y1="247.25" x2="59.05" y2="249.45" stroke="#8a8a8a" stroke-width="0.7" stroke-linecap="butt"/>
<text x="57.550000000000004" y="257.85" font-size="6.8" text-anchor="middle" font-weight="normal" font-style="normal" fill="#1a1a1a">−11</text>
<line x1="74.75" y1="247.25" x2="74.75" y2="249.45" stroke="#8a8a8a" stroke-width="0.7" stroke-linecap="butt"/>
<text x="73.25" y="257.85" font-size="6.8" text-anchor="middle" font-weight="normal" font-style="normal" fill="#1a1a1a">−10</text>
<line x1="90.45" y1="247.25" x2="90.45" y2="249.45" stroke="#8a8a8a" stroke-width="0.7" stroke-linecap="butt"/>
<text x="88.95" y="257.85" font-size="6.8" text-anchor="middle" font-weight="normal" font-style="normal" fill="#1a1a1a">−9</text>
<line x1="106.15" y1="247.25" x2="106.15" y2="249.45" stroke="#8a8a8a" stroke-width="0.7" stroke-linecap="butt"/>
<text x="104.65" y="257.85" font-size="6.8" text-anchor="middle" font-weight="normal" font-style="normal" fill="#1a1a1a">−8</text>
<line x1="121.85" y1="247.25" x2="121.85" y2="249.45" stroke="#8a8a8a" stroke-width="0.7" stroke-linecap="butt"/>
<text x="120.35" y="257.85" font-size="6.8" text-anchor="middle" font-weight="normal" font-style="normal" fill="#1a1a1a">−7</text>
<line x1="137.55" y1="247.25" x2="137.55" y2="249.45" stroke="#8a8a8a" stroke-width="0.7" stroke-linecap="butt"/>
<text x="136.05" y="257.85" font-size="6.8" text-anchor="middle" font-weight="normal" font-style="normal" fill="#1a1a1a">−6</text>
<line x1="153.25" y1="247.25" x2="153.25" y2="249.45" stroke="#8a8a8a" stroke-width="0.7" stroke-linecap="butt"/>
<text x="151.75" y="257.85" font-size="6.8" text-anchor="middle" font-weight="normal" font-style="normal" fill="#1a1a1a">−5</text>
<line x1="43.30" y1="233.15" x2="155.00" y2="233.15" stroke="#b0b0b0" stroke-width="0.8" stroke-dasharray="2.2 2.2" stroke-linecap="butt"/>
<text x="97.2" y="268.4" font-size="7.1" text-anchor="middle" font-weight="bold" fill="#1a1a1a">[Fulvestrant]log<tspan font-size="4.3" dy="1.8">10</tspan><tspan dy="-1.8" dx="0.8">M</tspan></text>
<text x="8.4" y="211.0" font-size="7.25" text-anchor="middle" font-weight="bold" font-style="normal" fill="#1a1a1a" transform="rotate(-90 8.4 211.0)">Normalized reduction in</text>
<text x="16.7" y="211.0" font-size="7.25" text-anchor="middle" font-weight="bold" font-style="normal" fill="#1a1a1a" transform="rotate(-90 16.7 211.0)">PgR expression (%)</text>
<polyline points="51.20,198.89 52.38,198.89 53.56,198.89 54.73,198.89 55.91,198.89 57.09,198.89 58.26,198.89 59.44,198.89 60.62,198.89 61.80,198.89 62.98,198.89 64.15,198.89 65.33,198.89 66.51,198.89 67.69,198.89 68.86,198.89 70.04,198.90 71.22,198.90 72.39,198.90 73.57,198.91 74.75,198.92 75.93,198.93 77.11,198.94 78.28,198.96 79.46,198.99 80.64,199.02 81.81,199.07 82.99,199.13 84.17,199.21 85.35,199.32 86.53,199.46 87.70,199.65 88.88,199.91 90.06,200.24 91.24,200.68 92.41,201.25 93.59,201.98 94.77,202.91 95.94,204.08 97.12,205.51 98.30,207.22 99.48,209.21 100.66,211.44 101.83,213.85 103.01,216.35 104.19,218.84 105.36,221.21 106.54,223.39 107.72,225.30 108.90,226.94 110.08,228.29 111.25,229.39 112.43,230.27 113.61,230.95 114.78,231.49 115.96,231.89 117.14,232.20 118.32,232.44 119.49,232.62 120.67,232.75 121.85,232.85 123.03,232.93 124.20,232.98 125.38,233.03 126.56,233.06 127.74,233.08 128.92,233.10 130.09,233.11 131.27,233.12 132.45,233.13 133.62,233.13 134.80,233.14 135.98,233.14 137.16,233.14 138.33,233.15 139.51,233.15 140.69,233.15 141.87,233.15 143.04,233.15 144.22,233.15 145.40,233.15" fill="none" stroke="#c9d52e" stroke-width="0.9" stroke-linejoin="round"/>
<polyline points="51.20,182.16 52.18,182.37 53.16,182.62 54.14,182.91 55.12,183.23 56.11,183.61 57.09,184.04 58.07,184.53 59.05,185.09 60.03,185.72 61.01,186.44 61.99,187.25 62.98,188.16 63.96,189.18 64.94,190.32 65.92,191.58 66.90,192.96 67.88,194.48 68.86,196.12 69.84,197.90 70.83,199.79 71.81,201.79 72.79,203.89 73.77,206.07 74.75,208.30 75.73,210.57 76.71,212.85 77.69,215.12 78.67,217.35 79.66,219.52 80.64,221.61 81.62,223.60 82.60,225.48 83.58,227.23 84.56,228.86 85.54,230.36 86.53,231.73 87.51,232.98 88.49,234.10 89.47,235.10 90.45,236.00 91.43,236.80 92.41,237.51 93.39,238.14 94.38,238.69 95.36,239.17 96.34,239.59 97.32,239.96 98.30,240.28 99.28,240.57 100.26,240.81 101.24,241.02 102.22,241.21 103.21,241.37 104.19,241.50 105.17,241.62 106.15,241.73 107.13,241.82 108.11,241.90 109.09,241.96 110.08,242.02 111.06,242.07 112.04,242.11 113.02,242.15 114.00,242.18 114.98,242.21 115.96,242.23 116.94,242.26 117.92,242.27 118.91,242.29 119.89,242.30 120.87,242.31 121.85,242.32 122.83,242.33 123.81,242.34 124.79,242.35 125.78,242.35 126.76,242.36 127.74,242.36 128.72,242.36 129.70,242.37" fill="none" stroke="#8a0f52" stroke-width="0.9" stroke-linejoin="round"/>
<line x1="51.20" y1="198.18" x2="51.20" y2="203.82" stroke="#c9d52e" stroke-width="0.7" stroke-linecap="butt"/>
<line x1="49.80" y1="198.18" x2="52.60" y2="198.18" stroke="#c9d52e" stroke-width="0.7" stroke-linecap="butt"/>
<line x1="49.80" y1="203.82" x2="52.60" y2="203.82" stroke="#c9d52e" stroke-width="0.7" stroke-linecap="butt"/>
<line x1="66.90" y1="197.12" x2="66.90" y2="202.06" stroke="#c9d52e" stroke-width="0.7" stroke-linecap="butt"/>
<line x1="65.50" y1="197.12" x2="68.30" y2="197.12" stroke="#c9d52e" stroke-width="0.7" stroke-linecap="butt"/>
<line x1="65.50" y1="202.06" x2="68.30" y2="202.06" stroke="#c9d52e" stroke-width="0.7" stroke-linecap="butt"/>
<line x1="74.75" y1="194.38" x2="74.75" y2="197.90" stroke="#c9d52e" stroke-width="0.7" stroke-linecap="butt"/>
<line x1="73.35" y1="194.38" x2="76.15" y2="194.38" stroke="#c9d52e" stroke-width="0.7" stroke-linecap="butt"/>
<line x1="73.35" y1="197.90" x2="76.15" y2="197.90" stroke="#c9d52e" stroke-width="0.7" stroke-linecap="butt"/>
<line x1="82.60" y1="198.18" x2="82.60" y2="201.00" stroke="#c9d52e" stroke-width="0.7" stroke-linecap="butt"/>
<line x1="81.20" y1="198.18" x2="84.00" y2="198.18" stroke="#c9d52e" stroke-width="0.7" stroke-linecap="butt"/>
<line x1="81.20" y1="201.00" x2="84.00" y2="201.00" stroke="#c9d52e" stroke-width="0.7" stroke-linecap="butt"/>
<line x1="90.45" y1="198.18" x2="90.45" y2="201.00" stroke="#c9d52e" stroke-width="0.7" stroke-linecap="butt"/>
<line x1="89.05" y1="198.18" x2="91.85" y2="198.18" stroke="#c9d52e" stroke-width="0.7" stroke-linecap="butt"/>
<line x1="89.05" y1="201.00" x2="91.85" y2="201.00" stroke="#c9d52e" stroke-width="0.7" stroke-linecap="butt"/>
<line x1="98.30" y1="205.90" x2="98.30" y2="208.72" stroke="#c9d52e" stroke-width="0.7" stroke-linecap="butt"/>
<line x1="96.90" y1="205.90" x2="99.70" y2="205.90" stroke="#c9d52e" stroke-width="0.7" stroke-linecap="butt"/>
<line x1="96.90" y1="208.72" x2="99.70" y2="208.72" stroke="#c9d52e" stroke-width="0.7" stroke-linecap="butt"/>
<line x1="106.15" y1="221.38" x2="106.15" y2="224.20" stroke="#c9d52e" stroke-width="0.7" stroke-linecap="butt"/>
<line x1="104.75" y1="221.38" x2="107.55" y2="221.38" stroke="#c9d52e" stroke-width="0.7" stroke-linecap="butt"/>
<line x1="104.75" y1="224.20" x2="107.55" y2="224.20" stroke="#c9d52e" stroke-width="0.7" stroke-linecap="butt"/>
<line x1="114.00" y1="229.73" x2="114.00" y2="231.85" stroke="#c9d52e" stroke-width="0.7" stroke-linecap="butt"/>
<line x1="112.60" y1="229.73" x2="115.40" y2="229.73" stroke="#c9d52e" stroke-width="0.7" stroke-linecap="butt"/>
<line x1="112.60" y1="231.85" x2="115.40" y2="231.85" stroke="#c9d52e" stroke-width="0.7" stroke-linecap="butt"/>
<line x1="121.85" y1="232.44" x2="121.85" y2="234.56" stroke="#c9d52e" stroke-width="0.7" stroke-linecap="butt"/>
<line x1="120.45" y1="232.44" x2="123.25" y2="232.44" stroke="#c9d52e" stroke-width="0.7" stroke-linecap="butt"/>
<line x1="120.45" y1="234.56" x2="123.25" y2="234.56" stroke="#c9d52e" stroke-width="0.7" stroke-linecap="butt"/>
<line x1="129.70" y1="233.15" x2="129.70" y2="235.26" stroke="#c9d52e" stroke-width="0.7" stroke-linecap="butt"/>
<line x1="128.30" y1="233.15" x2="131.10" y2="233.15" stroke="#c9d52e" stroke-width="0.7" stroke-linecap="butt"/>
<line x1="128.30" y1="235.26" x2="131.10" y2="235.26" stroke="#c9d52e" stroke-width="0.7" stroke-linecap="butt"/>
<line x1="137.55" y1="229.98" x2="137.55" y2="232.80" stroke="#c9d52e" stroke-width="0.7" stroke-linecap="butt"/>
<line x1="136.15" y1="229.98" x2="138.95" y2="229.98" stroke="#c9d52e" stroke-width="0.7" stroke-linecap="butt"/>
<line x1="136.15" y1="232.80" x2="138.95" y2="232.80" stroke="#c9d52e" stroke-width="0.7" stroke-linecap="butt"/>
<line x1="145.40" y1="232.44" x2="145.40" y2="234.56" stroke="#c9d52e" stroke-width="0.7" stroke-linecap="butt"/>
<line x1="144.00" y1="232.44" x2="146.80" y2="232.44" stroke="#c9d52e" stroke-width="0.7" stroke-linecap="butt"/>
<line x1="144.00" y1="234.56" x2="146.80" y2="234.56" stroke="#c9d52e" stroke-width="0.7" stroke-linecap="butt"/>
<rect x="49.10" y="198.90" width="4.20" height="4.20" fill="#c9d52e" stroke="none" stroke-width="0"/>
<rect x="64.80" y="197.49" width="4.20" height="4.20" fill="#c9d52e" stroke="none" stroke-width="0"/>
<rect x="72.65" y="194.04" width="4.20" height="4.20" fill="#c9d52e" stroke="none" stroke-width="0"/>
<rect x="80.50" y="197.49" width="4.20" height="4.20" fill="#c9d52e" stroke="none" stroke-width="0"/>
<rect x="88.35" y="197.49" width="4.20" height="4.20" fill="#c9d52e" stroke="none" stroke-width="0"/>
<rect x="96.20" y="205.21" width="4.20" height="4.20" fill="#c9d52e" stroke="none" stroke-width="0"/>
<rect x="104.05" y="220.69" width="4.20" height="4.20" fill="#c9d52e" stroke="none" stroke-width="0"/>
<rect x="111.90" y="228.69" width="4.20" height="4.20" fill="#c9d52e" stroke="none" stroke-width="0"/>
<rect x="119.75" y="231.40" width="4.20" height="4.20" fill="#c9d52e" stroke="none" stroke-width="0"/>
<rect x="127.60" y="232.11" width="4.20" height="4.20" fill="#c9d52e" stroke="none" stroke-width="0"/>
<rect x="135.45" y="229.29" width="4.20" height="4.20" fill="#c9d52e" stroke="none" stroke-width="0"/>
<rect x="143.30" y="231.40" width="4.20" height="4.20" fill="#c9d52e" stroke="none" stroke-width="0"/>
<line x1="51.20" y1="173.23" x2="51.20" y2="191.56" stroke="#8a0f52" stroke-width="0.7" stroke-linecap="butt"/>
<line x1="49.80" y1="173.23" x2="52.60" y2="173.23" stroke="#8a0f52" stroke-width="0.7" stroke-linecap="butt"/>
<line x1="49.80" y1="191.56" x2="52.60" y2="191.56" stroke="#8a0f52" stroke-width="0.7" stroke-linecap="butt"/>
<line x1="59.05" y1="175.52" x2="59.05" y2="195.26" stroke="#8a0f52" stroke-width="0.7" stroke-linecap="butt"/>
<line x1="57.65" y1="175.52" x2="60.45" y2="175.52" stroke="#8a0f52" stroke-width="0.7" stroke-linecap="butt"/>
<line x1="57.65" y1="195.26" x2="60.45" y2="195.26" stroke="#8a0f52" stroke-width="0.7" stroke-linecap="butt"/>
<line x1="66.90" y1="185.56" x2="66.90" y2="197.55" stroke="#8a0f52" stroke-width="0.7" stroke-linecap="butt"/>
<line x1="65.50" y1="185.56" x2="68.30" y2="185.56" stroke="#8a0f52" stroke-width="0.7" stroke-linecap="butt"/>
<line x1="65.50" y1="197.55" x2="68.30" y2="197.55" stroke="#8a0f52" stroke-width="0.7" stroke-linecap="butt"/>
<line x1="74.75" y1="206.36" x2="74.75" y2="213.41" stroke="#8a0f52" stroke-width="0.7" stroke-linecap="butt"/>
<line x1="73.35" y1="206.36" x2="76.15" y2="206.36" stroke="#8a0f52" stroke-width="0.7" stroke-linecap="butt"/>
<line x1="73.35" y1="213.41" x2="76.15" y2="213.41" stroke="#8a0f52" stroke-width="0.7" stroke-linecap="butt"/>
<line x1="82.60" y1="221.69" x2="82.60" y2="227.33" stroke="#8a0f52" stroke-width="0.7" stroke-linecap="butt"/>
<line x1="81.20" y1="221.69" x2="84.00" y2="221.69" stroke="#8a0f52" stroke-width="0.7" stroke-linecap="butt"/>
<line x1="81.20" y1="227.33" x2="84.00" y2="227.33" stroke="#8a0f52" stroke-width="0.7" stroke-linecap="butt"/>
<line x1="90.45" y1="232.09" x2="90.45" y2="239.14" stroke="#8a0f52" stroke-width="0.7" stroke-linecap="butt"/>
<line x1="89.05" y1="232.09" x2="91.85" y2="232.09" stroke="#8a0f52" stroke-width="0.7" stroke-linecap="butt"/>
<line x1="89.05" y1="239.14" x2="91.85" y2="239.14" stroke="#8a0f52" stroke-width="0.7" stroke-linecap="butt"/>
<line x1="98.30" y1="239.04" x2="98.30" y2="242.56" stroke="#8a0f52" stroke-width="0.7" stroke-linecap="butt"/>
<line x1="96.90" y1="239.04" x2="99.70" y2="239.04" stroke="#8a0f52" stroke-width="0.7" stroke-linecap="butt"/>
<line x1="96.90" y1="242.56" x2="99.70" y2="242.56" stroke="#8a0f52" stroke-width="0.7" stroke-linecap="butt"/>
<line x1="106.15" y1="240.73" x2="106.15" y2="244.25" stroke="#8a0f52" stroke-width="0.7" stroke-linecap="butt"/>
<line x1="104.75" y1="240.73" x2="107.55" y2="240.73" stroke="#8a0f52" stroke-width="0.7" stroke-linecap="butt"/>
<line x1="104.75" y1="244.25" x2="107.55" y2="244.25" stroke="#8a0f52" stroke-width="0.7" stroke-linecap="butt"/>
<line x1="114.00" y1="240.73" x2="114.00" y2="244.96" stroke="#8a0f52" stroke-width="0.7" stroke-linecap="butt"/>
<line x1="112.60" y1="240.73" x2="115.40" y2="240.73" stroke="#8a0f52" stroke-width="0.7" stroke-linecap="butt"/>
<line x1="112.60" y1="244.96" x2="115.40" y2="244.96" stroke="#8a0f52" stroke-width="0.7" stroke-linecap="butt"/>
<line x1="121.85" y1="239.04" x2="121.85" y2="242.56" stroke="#8a0f52" stroke-width="0.7" stroke-linecap="butt"/>
<line x1="120.45" y1="239.04" x2="123.25" y2="239.04" stroke="#8a0f52" stroke-width="0.7" stroke-linecap="butt"/>
<line x1="120.45" y1="242.56" x2="123.25" y2="242.56" stroke="#8a0f52" stroke-width="0.7" stroke-linecap="butt"/>
<line x1="129.70" y1="241.08" x2="129.70" y2="243.90" stroke="#8a0f52" stroke-width="0.7" stroke-linecap="butt"/>
<line x1="128.30" y1="241.08" x2="131.10" y2="241.08" stroke="#8a0f52" stroke-width="0.7" stroke-linecap="butt"/>
<line x1="128.30" y1="243.90" x2="131.10" y2="243.90" stroke="#8a0f52" stroke-width="0.7" stroke-linecap="butt"/>
<circle cx="51.20" cy="182.39" r="2.5" fill="#8a0f52" stroke="none" stroke-width="0"/>
<circle cx="59.05" cy="185.39" r="2.5" fill="#8a0f52" stroke="none" stroke-width="0"/>
<circle cx="66.90" cy="191.56" r="2.5" fill="#8a0f52" stroke="none" stroke-width="0"/>
<circle cx="74.75" cy="209.88" r="2.5" fill="#8a0f52" stroke="none" stroke-width="0"/>
<circle cx="82.60" cy="224.51" r="2.5" fill="#8a0f52" stroke="none" stroke-width="0"/>
<circle cx="90.45" cy="235.62" r="2.5" fill="#8a0f52" stroke="none" stroke-width="0"/>
<circle cx="98.30" cy="240.80" r="2.5" fill="#8a0f52" stroke="none" stroke-width="0"/>
<circle cx="106.15" cy="242.49" r="2.5" fill="#8a0f52" stroke="none" stroke-width="0"/>
<circle cx="114.00" cy="242.84" r="2.5" fill="#8a0f52" stroke="none" stroke-width="0"/>
<circle cx="121.85" cy="240.80" r="2.5" fill="#8a0f52" stroke="none" stroke-width="0"/>
<circle cx="129.70" cy="242.49" r="2.5" fill="#8a0f52" stroke="none" stroke-width="0"/>
<line x1="127.30" y1="185.50" x2="135.70" y2="185.50" stroke="#8a0f52" stroke-width="0.9" stroke-linecap="butt"/>
<circle cx="131.50" cy="185.50" r="2.5" fill="#8a0f52" stroke="none" stroke-width="0"/>
<text x="138.5" y="187.9" font-size="6.9" text-anchor="start" font-weight="normal" font-style="normal" fill="#1a1a1a">wt</text>
<line x1="127.30" y1="194.80" x2="135.70" y2="194.80" stroke="#c9d52e" stroke-width="0.9" stroke-linecap="butt"/>
<rect x="129.40" y="192.70" width="4.20" height="4.20" fill="#c9d52e" stroke="none" stroke-width="0"/>
<text x="138.5" y="197.20000000000002" font-size="6.9" text-anchor="start" font-weight="normal" font-style="normal" fill="#1a1a1a">Y537S</text>
<line x1="43.30" y1="280.91" x2="43.30" y2="352.81" stroke="#8a8a8a" stroke-width="0.7" stroke-linecap="butt"/>
<line x1="43.30" y1="352.51" x2="155.00" y2="352.51" stroke="#8a8a8a" stroke-width="0.7" stroke-linecap="butt"/>
<line x1="41.30" y1="281.21" x2="43.30" y2="281.21" stroke="#8a8a8a" stroke-width="0.7" stroke-linecap="butt"/>
<text x="40.099999999999994" y="283.61" font-size="6.8" text-anchor="end" font-weight="normal" font-style="normal" fill="#1a1a1a">−60</text>
<line x1="41.30" y1="288.34" x2="43.30" y2="288.34" stroke="#8a8a8a" stroke-width="0.7" stroke-linecap="butt"/>
<text x="40.099999999999994" y="290.74" font-size="6.8" text-anchor="end" font-weight="normal" font-style="normal" fill="#1a1a1a">−40</text>
<line x1="41.30" y1="295.47" x2="43.30" y2="295.47" stroke="#8a8a8a" stroke-width="0.7" stroke-linecap="butt"/>
<text x="40.099999999999994" y="297.87" font-size="6.8" text-anchor="end" font-weight="normal" font-style="normal" fill="#1a1a1a">−20</text>
<line x1="41.30" y1="302.60" x2="43.30" y2="302.60" stroke="#8a8a8a" stroke-width="0.7" stroke-linecap="butt"/>
<text x="40.099999999999994" y="305.0" font-size="6.8" text-anchor="end" font-weight="normal" font-style="normal" fill="#1a1a1a">0</text>
<line x1="41.30" y1="309.73" x2="43.30" y2="309.73" stroke="#8a8a8a" stroke-width="0.7" stroke-linecap="butt"/>
<text x="40.099999999999994" y="312.13" font-size="6.8" text-anchor="end" font-weight="normal" font-style="normal" fill="#1a1a1a">20</text>
<line x1="41.30" y1="316.86" x2="43.30" y2="316.86" stroke="#8a8a8a" stroke-width="0.7" stroke-linecap="butt"/>
<text x="40.099999999999994" y="319.26" font-size="6.8" text-anchor="end" font-weight="normal" font-style="normal" fill="#1a1a1a">40</text>
<line x1="41.30" y1="323.99" x2="43.30" y2="323.99" stroke="#8a8a8a" stroke-width="0.7" stroke-linecap="butt"/>
<text x="40.099999999999994" y="326.39" font-size="6.8" text-anchor="end" font-weight="normal" font-style="normal" fill="#1a1a1a">60</text>
<line x1="41.30" y1="331.12" x2="43.30" y2="331.12" stroke="#8a8a8a" stroke-width="0.7" stroke-linecap="butt"/>
<text x="40.099999999999994" y="333.52" font-size="6.8" text-anchor="end" font-weight="normal" font-style="normal" fill="#1a1a1a">80</text>
<line x1="41.30" y1="338.25" x2="43.30" y2="338.25" stroke="#8a8a8a" stroke-width="0.7" stroke-linecap="butt"/>
<text x="40.099999999999994" y="340.65" font-size="6.8" text-anchor="end" font-weight="normal" font-style="normal" fill="#1a1a1a">100</text>
<line x1="41.30" y1="345.38" x2="43.30" y2="345.38" stroke="#8a8a8a" stroke-width="0.7" stroke-linecap="butt"/>
<text x="40.099999999999994" y="347.78" font-size="6.8" text-anchor="end" font-weight="normal" font-style="normal" fill="#1a1a1a">120</text>
<line x1="41.30" y1="352.51" x2="43.30" y2="352.51" stroke="#8a8a8a" stroke-width="0.7" stroke-linecap="butt"/>
<text x="40.099999999999994" y="354.90999999999997" font-size="6.8" text-anchor="end" font-weight="normal" font-style="normal" fill="#1a1a1a">140</text>
<line x1="43.35" y1="352.51" x2="43.35" y2="354.71" stroke="#8a8a8a" stroke-width="0.7" stroke-linecap="butt"/>
<text x="41.85" y="363.11" font-size="6.8" text-anchor="middle" font-weight="normal" font-style="normal" fill="#1a1a1a">−12</text>
<line x1="59.05" y1="352.51" x2="59.05" y2="354.71" stroke="#8a8a8a" stroke-width="0.7" stroke-linecap="butt"/>
<text x="57.550000000000004" y="363.11" font-size="6.8" text-anchor="middle" font-weight="normal" font-style="normal" fill="#1a1a1a">−11</text>
<line x1="74.75" y1="352.51" x2="74.75" y2="354.71" stroke="#8a8a8a" stroke-width="0.7" stroke-linecap="butt"/>
<text x="73.25" y="363.11" font-size="6.8" text-anchor="middle" font-weight="normal" font-style="normal" fill="#1a1a1a">−10</text>
<line x1="90.45" y1="352.51" x2="90.45" y2="354.71" stroke="#8a8a8a" stroke-width="0.7" stroke-linecap="butt"/>
<text x="88.95" y="363.11" font-size="6.8" text-anchor="middle" font-weight="normal" font-style="normal" fill="#1a1a1a">−9</text>
<line x1="106.15" y1="352.51" x2="106.15" y2="354.71" stroke="#8a8a8a" stroke-width="0.7" stroke-linecap="butt"/>
<text x="104.65" y="363.11" font-size="6.8" text-anchor="middle" font-weight="normal" font-style="normal" fill="#1a1a1a">−8</text>
<line x1="121.85" y1="352.51" x2="121.85" y2="354.71" stroke="#8a8a8a" stroke-width="0.7" stroke-linecap="butt"/>
<text x="120.35" y="363.11" font-size="6.8" text-anchor="middle" font-weight="normal" font-style="normal" fill="#1a1a1a">−7</text>
<line x1="137.55" y1="352.51" x2="137.55" y2="354.71" stroke="#8a8a8a" stroke-width="0.7" stroke-linecap="butt"/>
<text x="136.05" y="363.11" font-size="6.8" text-anchor="middle" font-weight="normal" font-style="normal" fill="#1a1a1a">−6</text>
<line x1="153.25" y1="352.51" x2="153.25" y2="354.71" stroke="#8a8a8a" stroke-width="0.7" stroke-linecap="butt"/>
<text x="151.75" y="363.11" font-size="6.8" text-anchor="middle" font-weight="normal" font-style="normal" fill="#1a1a1a">−5</text>
<line x1="43.30" y1="338.25" x2="155.00" y2="338.25" stroke="#b0b0b0" stroke-width="0.8" stroke-dasharray="2.2 2.2" stroke-linecap="butt"/>
<text x="98.8" y="375.2" font-size="7.1" text-anchor="middle" font-weight="bold" fill="#1a1a1a">[Camizestrant]log<tspan font-size="4.3" dy="1.8">10</tspan><tspan dy="-1.8" dx="0.8">M</tspan></text>
<text x="8.4" y="315.86" font-size="7.25" text-anchor="middle" font-weight="bold" font-style="normal" fill="#1a1a1a" transform="rotate(-90 8.4 315.86)">Normalized reduction in</text>
<text x="16.7" y="315.86" font-size="7.25" text-anchor="middle" font-weight="bold" font-style="normal" fill="#1a1a1a" transform="rotate(-90 16.7 315.86)">PgR expression (%)</text>
<polyline points="51.20,304.39 52.38,304.39 53.56,304.39 54.73,304.39 55.91,304.39 57.09,304.39 58.26,304.39 59.44,304.40 60.62,304.40 61.80,304.40 62.98,304.41 64.15,304.42 65.33,304.42 66.51,304.43 67.69,304.44 68.86,304.46 70.04,304.48 71.22,304.50 72.39,304.52 73.57,304.55 74.75,304.59 75.93,304.64 77.11,304.70 78.28,304.77 79.46,304.86 80.64,304.97 81.81,305.10 82.99,305.27 84.17,305.46 85.35,305.70 86.53,305.99 87.70,306.35 88.88,306.77 90.06,307.27 91.24,307.87 92.41,308.58 93.59,309.41 94.77,310.37 95.94,311.47 97.12,312.71 98.30,314.10 99.48,315.63 100.66,317.27 101.83,319.01 103.01,320.81 104.19,322.64 105.36,324.45 106.54,326.21 107.72,327.89 108.90,329.46 110.08,330.90 111.25,332.19 112.43,333.34 113.61,334.35 114.78,335.22 115.96,335.97 117.14,336.60 118.32,337.13 119.49,337.58 120.67,337.95 121.85,338.26 123.03,338.52 124.20,338.73 125.38,338.90 126.56,339.05 127.74,339.16 128.92,339.26 130.09,339.33 131.27,339.40 132.45,339.45 133.62,339.49 134.80,339.53 135.98,339.55 137.16,339.58 138.33,339.60 139.51,339.61 140.69,339.62 141.87,339.63 143.04,339.64 144.22,339.65 145.40,339.65" fill="none" stroke="#c9d52e" stroke-width="0.9" stroke-linejoin="round"/>
<polyline points="51.20,303.37 52.38,303.37 53.56,303.38 54.73,303.39 55.91,303.41 57.09,303.43 58.26,303.46 59.44,303.50 60.62,303.55 61.80,303.62 62.98,303.72 64.15,303.85 65.33,304.02 66.51,304.24 67.69,304.54 68.86,304.94 70.04,305.46 71.22,306.14 72.39,307.02 73.57,308.13 74.75,309.51 75.93,311.20 77.11,313.20 78.28,315.49 79.46,318.01 80.64,320.69 81.81,323.41 82.99,326.05 84.17,328.51 85.35,330.71 86.53,332.60 87.70,334.18 88.88,335.47 90.06,336.50 91.24,337.30 92.41,337.93 93.59,338.41 94.77,338.77 95.94,339.04 97.12,339.25 98.30,339.40 99.48,339.52 100.66,339.60 101.83,339.67 103.01,339.72 104.19,339.75 105.36,339.78 106.54,339.80 107.72,339.81 108.90,339.82 110.08,339.83 111.25,339.84 112.43,339.84 113.61,339.84 114.78,339.85 115.96,339.85 117.14,339.85 118.32,339.85 119.49,339.85 120.67,339.85 121.85,339.85 123.03,339.85 124.20,339.85 125.38,339.85 126.56,339.85 127.74,339.85 128.92,339.85 130.09,339.85 131.27,339.85 132.45,339.85 133.62,339.85 134.80,339.85 135.98,339.85 137.16,339.85 138.33,339.85 139.51,339.85 140.69,339.85 141.87,339.85 143.04,339.85 144.22,339.85 145.40,339.85" fill="none" stroke="#8a0f52" stroke-width="0.9" stroke-linejoin="round"/>
<line x1="51.20" y1="305.31" x2="51.20" y2="308.87" stroke="#c9d52e" stroke-width="0.7" stroke-linecap="butt"/>
<line x1="49.80" y1="305.31" x2="52.60" y2="305.31" stroke="#c9d52e" stroke-width="0.7" stroke-linecap="butt"/>
<line x1="49.80" y1="308.87" x2="52.60" y2="308.87" stroke="#c9d52e" stroke-width="0.7" stroke-linecap="butt"/>
<line x1="66.90" y1="299.75" x2="66.90" y2="304.03" stroke="#c9d52e" stroke-width="0.7" stroke-linecap="butt"/>
<line x1="65.50" y1="299.75" x2="68.30" y2="299.75" stroke="#c9d52e" stroke-width="0.7" stroke-linecap="butt"/>
<line x1="65.50" y1="304.03" x2="68.30" y2="304.03" stroke="#c9d52e" stroke-width="0.7" stroke-linecap="butt"/>
<line x1="74.75" y1="303.31" x2="74.75" y2="306.17" stroke="#c9d52e" stroke-width="0.7" stroke-linecap="butt"/>
<line x1="73.35" y1="303.31" x2="76.15" y2="303.31" stroke="#c9d52e" stroke-width="0.7" stroke-linecap="butt"/>
<line x1="73.35" y1="306.17" x2="76.15" y2="306.17" stroke="#c9d52e" stroke-width="0.7" stroke-linecap="butt"/>
<line x1="82.60" y1="303.92" x2="82.60" y2="307.48" stroke="#c9d52e" stroke-width="0.7" stroke-linecap="butt"/>
<line x1="81.20" y1="303.92" x2="84.00" y2="303.92" stroke="#c9d52e" stroke-width="0.7" stroke-linecap="butt"/>
<line x1="81.20" y1="307.48" x2="84.00" y2="307.48" stroke="#c9d52e" stroke-width="0.7" stroke-linecap="butt"/>
<line x1="90.45" y1="302.85" x2="90.45" y2="307.13" stroke="#c9d52e" stroke-width="0.7" stroke-linecap="butt"/>
<line x1="89.05" y1="302.85" x2="91.85" y2="302.85" stroke="#c9d52e" stroke-width="0.7" stroke-linecap="butt"/>
<line x1="89.05" y1="307.13" x2="91.85" y2="307.13" stroke="#c9d52e" stroke-width="0.7" stroke-linecap="butt"/>
<line x1="98.30" y1="311.16" x2="98.30" y2="314.01" stroke="#c9d52e" stroke-width="0.7" stroke-linecap="butt"/>
<line x1="96.90" y1="311.16" x2="99.70" y2="311.16" stroke="#c9d52e" stroke-width="0.7" stroke-linecap="butt"/>
<line x1="96.90" y1="314.01" x2="99.70" y2="314.01" stroke="#c9d52e" stroke-width="0.7" stroke-linecap="butt"/>
<line x1="106.15" y1="323.99" x2="106.15" y2="326.84" stroke="#c9d52e" stroke-width="0.7" stroke-linecap="butt"/>
<line x1="104.75" y1="323.99" x2="107.55" y2="323.99" stroke="#c9d52e" stroke-width="0.7" stroke-linecap="butt"/>
<line x1="104.75" y1="326.84" x2="107.55" y2="326.84" stroke="#c9d52e" stroke-width="0.7" stroke-linecap="butt"/>
<line x1="114.00" y1="329.98" x2="114.00" y2="332.83" stroke="#c9d52e" stroke-width="0.7" stroke-linecap="butt"/>
<line x1="112.60" y1="329.98" x2="115.40" y2="329.98" stroke="#c9d52e" stroke-width="0.7" stroke-linecap="butt"/>
<line x1="112.60" y1="332.83" x2="115.40" y2="332.83" stroke="#c9d52e" stroke-width="0.7" stroke-linecap="butt"/>
<line x1="121.85" y1="335.04" x2="121.85" y2="337.89" stroke="#c9d52e" stroke-width="0.7" stroke-linecap="butt"/>
<line x1="120.45" y1="335.04" x2="123.25" y2="335.04" stroke="#c9d52e" stroke-width="0.7" stroke-linecap="butt"/>
<line x1="120.45" y1="337.89" x2="123.25" y2="337.89" stroke="#c9d52e" stroke-width="0.7" stroke-linecap="butt"/>
<line x1="129.70" y1="338.25" x2="129.70" y2="340.39" stroke="#c9d52e" stroke-width="0.7" stroke-linecap="butt"/>
<line x1="128.30" y1="338.25" x2="131.10" y2="338.25" stroke="#c9d52e" stroke-width="0.7" stroke-linecap="butt"/>
<line x1="128.30" y1="340.39" x2="131.10" y2="340.39" stroke="#c9d52e" stroke-width="0.7" stroke-linecap="butt"/>
<line x1="137.55" y1="338.96" x2="137.55" y2="341.10" stroke="#c9d52e" stroke-width="0.7" stroke-linecap="butt"/>
<line x1="136.15" y1="338.96" x2="138.95" y2="338.96" stroke="#c9d52e" stroke-width="0.7" stroke-linecap="butt"/>
<line x1="136.15" y1="341.10" x2="138.95" y2="341.10" stroke="#c9d52e" stroke-width="0.7" stroke-linecap="butt"/>
<line x1="145.40" y1="338.25" x2="145.40" y2="340.39" stroke="#c9d52e" stroke-width="0.7" stroke-linecap="butt"/>
<line x1="144.00" y1="338.25" x2="146.80" y2="338.25" stroke="#c9d52e" stroke-width="0.7" stroke-linecap="butt"/>
<line x1="144.00" y1="340.39" x2="146.80" y2="340.39" stroke="#c9d52e" stroke-width="0.7" stroke-linecap="butt"/>
<rect x="49.10" y="304.99" width="4.20" height="4.20" fill="#c9d52e" stroke="none" stroke-width="0"/>
<rect x="64.80" y="299.79" width="4.20" height="4.20" fill="#c9d52e" stroke="none" stroke-width="0"/>
<rect x="72.65" y="302.64" width="4.20" height="4.20" fill="#c9d52e" stroke="none" stroke-width="0"/>
<rect x="80.50" y="303.60" width="4.20" height="4.20" fill="#c9d52e" stroke="none" stroke-width="0"/>
<rect x="88.35" y="302.89" width="4.20" height="4.20" fill="#c9d52e" stroke="none" stroke-width="0"/>
<rect x="96.20" y="310.48" width="4.20" height="4.20" fill="#c9d52e" stroke="none" stroke-width="0"/>
<rect x="104.05" y="323.32" width="4.20" height="4.20" fill="#c9d52e" stroke="none" stroke-width="0"/>
<rect x="111.90" y="329.31" width="4.20" height="4.20" fill="#c9d52e" stroke="none" stroke-width="0"/>
<rect x="119.75" y="334.37" width="4.20" height="4.20" fill="#c9d52e" stroke="none" stroke-width="0"/>
<rect x="127.60" y="337.22" width="4.20" height="4.20" fill="#c9d52e" stroke="none" stroke-width="0"/>
<rect x="135.45" y="337.93" width="4.20" height="4.20" fill="#c9d52e" stroke="none" stroke-width="0"/>
<rect x="143.30" y="337.22" width="4.20" height="4.20" fill="#c9d52e" stroke="none" stroke-width="0"/>
<line x1="51.20" y1="301.53" x2="51.20" y2="306.52" stroke="#8a0f52" stroke-width="0.7" stroke-linecap="butt"/>
<line x1="49.80" y1="301.53" x2="52.60" y2="301.53" stroke="#8a0f52" stroke-width="0.7" stroke-linecap="butt"/>
<line x1="49.80" y1="306.52" x2="52.60" y2="306.52" stroke="#8a0f52" stroke-width="0.7" stroke-linecap="butt"/>
<line x1="66.90" y1="301.17" x2="66.90" y2="304.74" stroke="#8a0f52" stroke-width="0.7" stroke-linecap="butt"/>
<line x1="65.50" y1="301.17" x2="68.30" y2="301.17" stroke="#8a0f52" stroke-width="0.7" stroke-linecap="butt"/>
<line x1="65.50" y1="304.74" x2="68.30" y2="304.74" stroke="#8a0f52" stroke-width="0.7" stroke-linecap="butt"/>
<line x1="74.75" y1="309.16" x2="74.75" y2="312.01" stroke="#8a0f52" stroke-width="0.7" stroke-linecap="butt"/>
<line x1="73.35" y1="309.16" x2="76.15" y2="309.16" stroke="#8a0f52" stroke-width="0.7" stroke-linecap="butt"/>
<line x1="73.35" y1="312.01" x2="76.15" y2="312.01" stroke="#8a0f52" stroke-width="0.7" stroke-linecap="butt"/>
<line x1="82.60" y1="322.92" x2="82.60" y2="325.77" stroke="#8a0f52" stroke-width="0.7" stroke-linecap="butt"/>
<line x1="81.20" y1="322.92" x2="84.00" y2="322.92" stroke="#8a0f52" stroke-width="0.7" stroke-linecap="butt"/>
<line x1="81.20" y1="325.77" x2="84.00" y2="325.77" stroke="#8a0f52" stroke-width="0.7" stroke-linecap="butt"/>
<line x1="90.45" y1="336.11" x2="90.45" y2="338.25" stroke="#8a0f52" stroke-width="0.7" stroke-linecap="butt"/>
<line x1="89.05" y1="336.11" x2="91.85" y2="336.11" stroke="#8a0f52" stroke-width="0.7" stroke-linecap="butt"/>
<line x1="89.05" y1="338.25" x2="91.85" y2="338.25" stroke="#8a0f52" stroke-width="0.7" stroke-linecap="butt"/>
<line x1="98.30" y1="339.32" x2="98.30" y2="341.46" stroke="#8a0f52" stroke-width="0.7" stroke-linecap="butt"/>
<line x1="96.90" y1="339.32" x2="99.70" y2="339.32" stroke="#8a0f52" stroke-width="0.7" stroke-linecap="butt"/>
<line x1="96.90" y1="341.46" x2="99.70" y2="341.46" stroke="#8a0f52" stroke-width="0.7" stroke-linecap="butt"/>
<line x1="106.15" y1="340.03" x2="106.15" y2="342.17" stroke="#8a0f52" stroke-width="0.7" stroke-linecap="butt"/>
<line x1="104.75" y1="340.03" x2="107.55" y2="340.03" stroke="#8a0f52" stroke-width="0.7" stroke-linecap="butt"/>
<line x1="104.75" y1="342.17" x2="107.55" y2="342.17" stroke="#8a0f52" stroke-width="0.7" stroke-linecap="butt"/>
<line x1="114.00" y1="327.91" x2="114.00" y2="338.61" stroke="#8a0f52" stroke-width="0.7" stroke-linecap="butt"/>
<line x1="112.60" y1="327.91" x2="115.40" y2="327.91" stroke="#8a0f52" stroke-width="0.7" stroke-linecap="butt"/>
<line x1="112.60" y1="338.61" x2="115.40" y2="338.61" stroke="#8a0f52" stroke-width="0.7" stroke-linecap="butt"/>
<line x1="121.85" y1="339.68" x2="121.85" y2="343.95" stroke="#8a0f52" stroke-width="0.7" stroke-linecap="butt"/>
<line x1="120.45" y1="339.68" x2="123.25" y2="339.68" stroke="#8a0f52" stroke-width="0.7" stroke-linecap="butt"/>
<line x1="120.45" y1="343.95" x2="123.25" y2="343.95" stroke="#8a0f52" stroke-width="0.7" stroke-linecap="butt"/>
<line x1="129.70" y1="338.96" x2="129.70" y2="341.81" stroke="#8a0f52" stroke-width="0.7" stroke-linecap="butt"/>
<line x1="128.30" y1="338.96" x2="131.10" y2="338.96" stroke="#8a0f52" stroke-width="0.7" stroke-linecap="butt"/>
<line x1="128.30" y1="341.81" x2="131.10" y2="341.81" stroke="#8a0f52" stroke-width="0.7" stroke-linecap="butt"/>
<line x1="137.55" y1="333.26" x2="137.55" y2="341.81" stroke="#8a0f52" stroke-width="0.7" stroke-linecap="butt"/>
<line x1="136.15" y1="333.26" x2="138.95" y2="333.26" stroke="#8a0f52" stroke-width="0.7" stroke-linecap="butt"/>
<line x1="136.15" y1="341.81" x2="138.95" y2="341.81" stroke="#8a0f52" stroke-width="0.7" stroke-linecap="butt"/>
<line x1="145.40" y1="340.03" x2="145.40" y2="343.60" stroke="#8a0f52" stroke-width="0.7" stroke-linecap="butt"/>
<line x1="144.00" y1="340.03" x2="146.80" y2="340.03" stroke="#8a0f52" stroke-width="0.7" stroke-linecap="butt"/>
<line x1="144.00" y1="343.60" x2="146.80" y2="343.60" stroke="#8a0f52" stroke-width="0.7" stroke-linecap="butt"/>
<circle cx="51.20" cy="304.03" r="2.5" fill="#8a0f52" stroke="none" stroke-width="0"/>
<circle cx="66.90" cy="302.96" r="2.5" fill="#8a0f52" stroke="none" stroke-width="0"/>
<circle cx="74.75" cy="310.59" r="2.5" fill="#8a0f52" stroke="none" stroke-width="0"/>
<circle cx="82.60" cy="324.35" r="2.5" fill="#8a0f52" stroke="none" stroke-width="0"/>
<circle cx="90.45" cy="337.18" r="2.5" fill="#8a0f52" stroke="none" stroke-width="0"/>
<circle cx="98.30" cy="340.39" r="2.5" fill="#8a0f52" stroke="none" stroke-width="0"/>
<circle cx="106.15" cy="341.10" r="2.5" fill="#8a0f52" stroke="none" stroke-width="0"/>
<circle cx="114.00" cy="333.26" r="2.5" fill="#8a0f52" stroke="none" stroke-width="0"/>
<circle cx="121.85" cy="341.81" r="2.5" fill="#8a0f52" stroke="none" stroke-width="0"/>
<circle cx="129.70" cy="340.39" r="2.5" fill="#8a0f52" stroke="none" stroke-width="0"/>
<circle cx="137.55" cy="337.54" r="2.5" fill="#8a0f52" stroke="none" stroke-width="0"/>
<circle cx="145.40" cy="341.81" r="2.5" fill="#8a0f52" stroke="none" stroke-width="0"/>
<line x1="127.30" y1="283.50" x2="135.70" y2="283.50" stroke="#8a0f52" stroke-width="0.9" stroke-linecap="butt"/>
<circle cx="131.50" cy="283.50" r="2.5" fill="#8a0f52" stroke="none" stroke-width="0"/>
<text x="138.5" y="285.9" font-size="6.9" text-anchor="start" font-weight="normal" font-style="normal" fill="#1a1a1a">wt</text>
<line x1="127.30" y1="292.80" x2="135.70" y2="292.80" stroke="#c9d52e" stroke-width="0.9" stroke-linecap="butt"/>
<rect x="129.40" y="290.70" width="4.20" height="4.20" fill="#c9d52e" stroke="none" stroke-width="0"/>
<text x="138.5" y="295.2" font-size="6.9" text-anchor="start" font-weight="normal" font-style="normal" fill="#1a1a1a">Y537S</text>
<text x="265.6" y="203.8" font-size="7.1" text-anchor="middle" fill="#1a1a1a">[Fulvestrant]log<tspan font-size="4.3" dy="1.5">10</tspan><tspan dy="-1.5">M</tspan></text>
<polygon points="229,211.8 308.5,211.8 308.5,207.3" fill="url(#wedge)"/>
<text x="229.1" y="228.2" font-size="5.1" text-anchor="start" font-weight="normal" font-style="normal" fill="#1a1a1a" transform="rotate(-90 229.1 228.2)">Vehicle</text>
<text x="235.58" y="228.2" font-size="5.1" text-anchor="start" font-weight="normal" font-style="normal" fill="#1a1a1a" transform="rotate(-90 235.58 228.2)">−11.5</text>
<text x="242.06" y="228.2" font-size="5.1" text-anchor="start" font-weight="normal" font-style="normal" fill="#1a1a1a" transform="rotate(-90 242.06 228.2)">−11.0</text>
<text x="248.54" y="228.2" font-size="5.1" text-anchor="start" font-weight="normal" font-style="normal" fill="#1a1a1a" transform="rotate(-90 248.54 228.2)">−10.5</text>
<text x="255.02" y="228.2" font-size="5.1" text-anchor="start" font-weight="normal" font-style="normal" fill="#1a1a1a" transform="rotate(-90 255.02 228.2)">−10.0</text>
<text x="261.5" y="228.2" font-size="5.1" text-anchor="start" font-weight="normal" font-style="normal" fill="#1a1a1a" transform="rotate(-90 261.5 228.2)">−9.5</text>
<text x="267.98" y="228.2" font-size="5.1" text-anchor="start" font-weight="normal" font-style="normal" fill="#1a1a1a" transform="rotate(-90 267.98 228.2)">−9.0</text>
<text x="274.46" y="228.2" font-size="5.1" text-anchor="start" font-weight="normal" font-style="normal" fill="#1a1a1a" transform="rotate(-90 274.46 228.2)">−8.5</text>
<text x="280.94" y="228.2" font-size="5.1" text-anchor="start" font-weight="normal" font-style="normal" fill="#1a1a1a" transform="rotate(-90 280.94 228.2)">−8.0</text>
<text x="287.42" y="228.2" font-size="5.1" text-anchor="start" font-weight="normal" font-style="normal" fill="#1a1a1a" transform="rotate(-90 287.42 228.2)">−7.5</text>
<text x="293.9" y="228.2" font-size="5.1" text-anchor="start" font-weight="normal" font-style="normal" fill="#1a1a1a" transform="rotate(-90 293.9 228.2)">−7.0</text>
<text x="300.38" y="228.2" font-size="5.1" text-anchor="start" font-weight="normal" font-style="normal" fill="#1a1a1a" transform="rotate(-90 300.38 228.2)">−6.5</text>
<text x="306.86" y="228.2" font-size="5.1" text-anchor="start" font-weight="normal" font-style="normal" fill="#1a1a1a" transform="rotate(-90 306.86 228.2)">−6.0</text>
<rect x="223.30" y="232.70" width="85.50" height="12.10" fill="#c9c9c9" stroke="#555" stroke-width="0.6"/>
<g filter="url(#bl)">
<rect x="224.60" y="236.16" width="5.6" height="2.0" rx="0.9" fill="#444444"/>
<rect x="231.08" y="236.19" width="5.6" height="2.0" rx="0.9" fill="#444444"/>
<rect x="237.56" y="236.63" width="5.6" height="2.0" rx="0.9" fill="#343434"/>
<rect x="244.04" y="236.41" width="5.6" height="2.0" rx="0.9" fill="#2c2c2c"/>
<rect x="250.52" y="236.82" width="5.6" height="2.0" rx="0.9" fill="#3c3c3c"/>
<rect x="257.00" y="236.86" width="5.6" height="2.0" rx="0.9" fill="#747474"/>
<rect x="263.48" y="236.80" width="5.6" height="2.0" rx="0.9" fill="#9c9c9c"/>
<rect x="269.96" y="237.21" width="5.6" height="2.0" rx="0.9" fill="#b0b0b0"/>
<rect x="276.44" y="237.06" width="5.6" height="2.0" rx="0.9" fill="#b4b4b4"/>
<rect x="282.92" y="237.43" width="5.6" height="2.0" rx="0.9" fill="#b7b7b7"/>
<rect x="289.40" y="237.35" width="5.6" height="2.0" rx="0.9" fill="#b8b8b8"/>
<rect x="295.88" y="237.49" width="5.6" height="2.0" rx="0.9" fill="#b8b8b8"/>
<rect x="302.36" y="237.82" width="5.6" height="2.0" rx="0.9" fill="#bcbcbc"/>
</g>
<rect x="223.30" y="247.50" width="85.50" height="10.90" fill="#c9c9c9" stroke="#555" stroke-width="0.6"/>
<g filter="url(#bl)">
<rect x="224.30" y="252.86" width="6.2" height="1.9" rx="0.9" fill="#4c4c4c"/>
<rect x="230.78" y="252.59" width="6.2" height="1.9" rx="0.9" fill="#444444"/>
<rect x="237.26" y="252.76" width="6.2" height="1.9" rx="0.9" fill="#3c3c3c"/>
<rect x="243.74" y="253.07" width="6.2" height="1.9" rx="0.9" fill="#3c3c3c"/>
<rect x="250.22" y="253.29" width="6.2" height="1.9" rx="0.9" fill="#343434"/>
<rect x="256.70" y="253.05" width="6.2" height="1.9" rx="0.9" fill="#343434"/>
<rect x="263.18" y="252.89" width="6.2" height="1.9" rx="0.9" fill="#3c3c3c"/>
<rect x="269.66" y="253.15" width="6.2" height="1.9" rx="0.9" fill="#444444"/>
<rect x="276.14" y="252.46" width="6.2" height="1.9" rx="0.9" fill="#444444"/>
<rect x="282.62" y="252.77" width="6.2" height="1.9" rx="0.9" fill="#4c4c4c"/>
<rect x="289.10" y="252.22" width="6.2" height="1.9" rx="0.9" fill="#545454"/>
<rect x="295.58" y="251.88" width="6.2" height="1.9" rx="0.9" fill="#545454"/>
<rect x="302.06" y="251.57" width="6.2" height="1.9" rx="0.9" fill="#5c5c5c"/>
</g>
<text x="312.4" y="241.6" font-size="7.2" text-anchor="start" font-weight="normal" font-style="normal" fill="#1a1a1a">ER</text>
<text x="312.4" y="255.6" font-size="7.2" text-anchor="start" font-weight="normal" font-style="normal" fill="#1a1a1a">β Actin</text>
<text x="266.4" y="274.0" font-size="7.1" text-anchor="middle" fill="#1a1a1a">[Camizestrant]log<tspan font-size="4.3" dy="1.5">10</tspan><tspan dy="-1.5">M</tspan></text>
<polygon points="229,283.0 308.5,283.0 308.5,278.0" fill="url(#wedge)"/>
<text x="229.1" y="300.6" font-size="5.1" text-anchor="start" font-weight="normal" font-style="normal" fill="#1a1a1a" transform="rotate(-90 229.1 300.6)">Vehicle</text>
<text x="235.58" y="300.6" font-size="5.1" text-anchor="start" font-weight="normal" font-style="normal" fill="#1a1a1a" transform="rotate(-90 235.58 300.6)">−11.5</text>
<text x="242.06" y="300.6" font-size="5.1" text-anchor="start" font-weight="normal" font-style="normal" fill="#1a1a1a" transform="rotate(-90 242.06 300.6)">−11.0</text>
<text x="248.54" y="300.6" font-size="5.1" text-anchor="start" font-weight="normal" font-style="normal" fill="#1a1a1a" transform="rotate(-90 248.54 300.6)">−10.5</text>
<text x="255.02" y="300.6" font-size="5.1" text-anchor="start" font-weight="normal" font-style="normal" fill="#1a1a1a" transform="rotate(-90 255.02 300.6)">−10.0</text>
<text x="261.5" y="300.6" font-size="5.1" text-anchor="start" font-weight="normal" font-style="normal" fill="#1a1a1a" transform="rotate(-90 261.5 300.6)">−9.5</text>
<text x="267.98" y="300.6" font-size="5.1" text-anchor="start" font-weight="normal" font-style="normal" fill="#1a1a1a" transform="rotate(-90 267.98 300.6)">−9.0</text>
<text x="274.46" y="300.6" font-size="5.1" text-anchor="start" font-weight="normal" font-style="normal" fill="#1a1a1a" transform="rotate(-90 274.46 300.6)">−8.5</text>
<text x="280.94" y="300.6" font-size="5.1" text-anchor="start" font-weight="normal" font-style="normal" fill="#1a1a1a" transform="rotate(-90 280.94 300.6)">−8.0</text>
<text x="287.42" y="300.6" font-size="5.1" text-anchor="start" font-weight="normal" font-style="normal" fill="#1a1a1a" transform="rotate(-90 287.42 300.6)">−7.5</text>
<text x="293.9" y="300.6" font-size="5.1" text-anchor="start" font-weight="normal" font-style="normal" fill="#1a1a1a" transform="rotate(-90 293.9 300.6)">−7.0</text>
<text x="300.38" y="300.6" font-size="5.1" text-anchor="start" font-weight="normal" font-style="normal" fill="#1a1a1a" transform="rotate(-90 300.38 300.6)">−6.5</text>
<text x="306.86" y="300.6" font-size="5.1" text-anchor="start" font-weight="normal" font-style="normal" fill="#1a1a1a" transform="rotate(-90 306.86 300.6)">−6.0</text>
<rect x="223.30" y="303.60" width="85.90" height="11.60" fill="#c9c9c9" stroke="#555" stroke-width="0.6"/>
<g filter="url(#bl)">
<rect x="224.60" y="307.29" width="5.6" height="2.0" rx="0.9" fill="#343434"/>
<rect x="231.08" y="307.59" width="5.6" height="2.0" rx="0.9" fill="#5c5c5c"/>
<rect x="237.56" y="307.21" width="5.6" height="2.0" rx="0.9" fill="#646464"/>
<rect x="244.04" y="307.45" width="5.6" height="2.0" rx="0.9" fill="#6c6c6c"/>
<rect x="250.52" y="307.48" width="5.6" height="2.0" rx="0.9" fill="#7c7c7c"/>
<rect x="257.00" y="307.32" width="5.6" height="2.0" rx="0.9" fill="#979797"/>
<rect x="263.48" y="307.43" width="5.6" height="2.0" rx="0.9" fill="#a7a7a7"/>
<rect x="269.96" y="307.14" width="5.6" height="2.0" rx="0.9" fill="#b0b0b0"/>
<rect x="276.44" y="307.14" width="5.6" height="2.0" rx="0.9" fill="#b4b4b4"/>
<rect x="282.92" y="307.22" width="5.6" height="2.0" rx="0.9" fill="#b4b4b4"/>
<rect x="289.40" y="307.51" width="5.6" height="2.0" rx="0.9" fill="#b7b7b7"/>
<rect x="295.88" y="307.36" width="5.6" height="2.0" rx="0.9" fill="#b7b7b7"/>
<rect x="302.36" y="307.29" width="5.6" height="2.0" rx="0.9" fill="#b7b7b7"/>
</g>
<rect x="223.30" y="317.90" width="85.90" height="10.80" fill="#c9c9c9" stroke="#555" stroke-width="0.6"/>
<g filter="url(#bl)">
<rect x="224.40" y="322.60" width="6.0" height="1.9" rx="0.9" fill="#343434"/>
<rect x="230.88" y="322.52" width="6.0" height="1.9" rx="0.9" fill="#3c3c3c"/>
<rect x="237.36" y="322.43" width="6.0" height="1.9" rx="0.9" fill="#444444"/>
<rect x="243.84" y="322.73" width="6.0" height="1.9" rx="0.9" fill="#444444"/>
<rect x="250.32" y="322.67" width="6.0" height="1.9" rx="0.9" fill="#3c3c3c"/>
<rect x="256.80" y="322.40" width="6.0" height="1.9" rx="0.9" fill="#3c3c3c"/>
<rect x="263.28" y="322.59" width="6.0" height="1.9" rx="0.9" fill="#444444"/>
<rect x="269.76" y="322.57" width="6.0" height="1.9" rx="0.9" fill="#4c4c4c"/>
<rect x="276.24" y="322.78" width="6.0" height="1.9" rx="0.9" fill="#4c4c4c"/>
<rect x="282.72" y="322.69" width="6.0" height="1.9" rx="0.9" fill="#4c4c4c"/>
<rect x="289.20" y="322.42" width="6.0" height="1.9" rx="0.9" fill="#545454"/>
<rect x="295.68" y="322.84" width="6.0" height="1.9" rx="0.9" fill="#545454"/>
<rect x="302.16" y="322.32" width="6.0" height="1.9" rx="0.9" fill="#545454"/>
</g>
<text x="313.4" y="312.4" font-size="7.2" text-anchor="start" font-weight="normal" font-style="normal" fill="#1a1a1a">ER</text>
<text x="313.4" y="326.4" font-size="7.2" text-anchor="start" font-weight="normal" font-style="normal" fill="#1a1a1a">β Actin</text>
<polyline points="215.5,235.6 211.9,235.6 211.9,324.6 215.5,324.6" fill="none" stroke="#666" stroke-width="0.8"/>
<line x1="208.90" y1="280.00" x2="211.90" y2="280.00" stroke="#666" stroke-width="0.8" stroke-linecap="butt"/>
<text x="206.6" y="282.6" font-size="7.15" text-anchor="end" font-style="italic" fill="#1a1a1a">WT ESR1</text>
<text x="429.6" y="203.8" font-size="7.1" text-anchor="middle" fill="#1a1a1a">[Fulvestrant]log<tspan font-size="4.3" dy="1.5">10</tspan><tspan dy="-1.5">M</tspan></text>
<polygon points="392.5,211.8 472.7,211.8 472.7,207.3" fill="url(#wedge)"/>
<text x="386.4" y="228.8" font-size="5.1" text-anchor="start" font-weight="normal" font-style="normal" fill="#1a1a1a" transform="rotate(-90 386.4 228.8)">Vehicle</text>
<text x="394.88" y="228.8" font-size="5.1" text-anchor="start" font-weight="normal" font-style="normal" fill="#1a1a1a" transform="rotate(-90 394.88 228.8)">−10.0</text>
<text x="403.36" y="228.8" font-size="5.1" text-anchor="start" font-weight="normal" font-style="normal" fill="#1a1a1a" transform="rotate(-90 403.36 228.8)">−9.5</text>
<text x="411.84" y="228.8" font-size="5.1" text-anchor="start" font-weight="normal" font-style="normal" fill="#1a1a1a" transform="rotate(-90 411.84 228.8)">−9.0</text>
<text x="420.32" y="228.8" font-size="5.1" text-anchor="start" font-weight="normal" font-style="normal" fill="#1a1a1a" transform="rotate(-90 420.32 228.8)">−8.5</text>
<text x="428.8" y="228.8" font-size="5.1" text-anchor="start" font-weight="normal" font-style="normal" fill="#1a1a1a" transform="rotate(-90 428.8 228.8)">−8.0</text>
<text x="437.28" y="228.8" font-size="5.1" text-anchor="start" font-weight="normal" font-style="normal" fill="#1a1a1a" transform="rotate(-90 437.28 228.8)">−7.5</text>
<text x="445.76" y="228.8" font-size="5.1" text-anchor="start" font-weight="normal" font-style="normal" fill="#1a1a1a" transform="rotate(-90 445.76 228.8)">−7.0</text>
<text x="454.24" y="228.8" font-size="5.1" text-anchor="start" font-weight="normal" font-style="normal" fill="#1a1a1a" transform="rotate(-90 454.24 228.8)">−6.5</text>
<text x="462.72" y="228.8" font-size="5.1" text-anchor="start" font-weight="normal" font-style="normal" fill="#1a1a1a" transform="rotate(-90 462.72 228.8)">−6.0</text>
<text x="471.2" y="228.8" font-size="5.1" text-anchor="start" font-weight="normal" font-style="normal" fill="#1a1a1a" transform="rotate(-90 471.2 228.8)">−5.5</text>
<rect x="378.50" y="234.00" width="94.70" height="8.20" fill="#c9c9c9" stroke="#555" stroke-width="0.6"/>
<g filter="url(#bl)">
<rect x="381.00" y="237.15" width="7.4" height="1.8" rx="0.9" fill="#848484"/>
<rect x="389.48" y="237.35" width="7.4" height="1.8" rx="0.9" fill="#7c7c7c"/>
<rect x="397.96" y="236.99" width="7.4" height="1.8" rx="0.9" fill="#6c6c6c"/>
<rect x="406.44" y="237.19" width="7.4" height="1.8" rx="0.9" fill="#6c6c6c"/>
<rect x="414.92" y="236.92" width="7.4" height="1.8" rx="0.9" fill="#545454"/>
<rect x="423.40" y="237.30" width="7.4" height="1.8" rx="0.9" fill="#343434"/>
<rect x="431.88" y="237.36" width="7.4" height="1.8" rx="0.9" fill="#646464"/>
<rect x="440.36" y="237.24" width="7.4" height="1.8" rx="0.9" fill="#4c4c4c"/>
<rect x="448.84" y="237.43" width="7.4" height="1.8" rx="0.9" fill="#444444"/>
<rect x="457.32" y="237.09" width="7.4" height="1.8" rx="0.9" fill="#343434"/>
<rect x="465.80" y="237.32" width="7.4" height="1.8" rx="0.9" fill="#646464"/>
</g>
<rect x="378.50" y="248.30" width="94.70" height="9.20" fill="#c9c9c9" stroke="#555" stroke-width="0.6"/>
<g filter="url(#bl)">
<rect x="380.90" y="252.01" width="7.6" height="1.9" rx="0.9" fill="#444444"/>
<rect x="389.38" y="252.00" width="7.6" height="1.9" rx="0.9" fill="#444444"/>
<rect x="397.86" y="251.92" width="7.6" height="1.9" rx="0.9" fill="#444444"/>
<rect x="406.34" y="252.15" width="7.6" height="1.9" rx="0.9" fill="#3c3c3c"/>
<rect x="414.82" y="252.22" width="7.6" height="1.9" rx="0.9" fill="#343434"/>
<rect x="423.30" y="251.93" width="7.6" height="1.9" rx="0.9" fill="#343434"/>
<rect x="431.78" y="252.05" width="7.6" height="1.9" rx="0.9" fill="#3c3c3c"/>
<rect x="440.26" y="251.69" width="7.6" height="1.9" rx="0.9" fill="#3c3c3c"/>
<rect x="448.74" y="252.07" width="7.6" height="1.9" rx="0.9" fill="#444444"/>
<rect x="457.22" y="252.04" width="7.6" height="1.9" rx="0.9" fill="#444444"/>
<rect x="465.70" y="252.25" width="7.6" height="1.9" rx="0.9" fill="#444444"/>
</g>
<text x="476.4" y="240.8" font-size="7.2" text-anchor="start" font-weight="normal" font-style="normal" fill="#1a1a1a">ER</text>
<text x="476.4" y="255.2" font-size="7.2" text-anchor="start" font-weight="normal" font-style="normal" fill="#1a1a1a">Vinculin</text>
<text x="430.8" y="273.4" font-size="7.1" text-anchor="middle" fill="#1a1a1a">[Camizestrant]log<tspan font-size="4.3" dy="1.5">10</tspan><tspan dy="-1.5">M</tspan></text>
<polygon points="392.5,283.4 472.7,283.4 472.7,278.4" fill="url(#wedge)"/>
<text x="386.4" y="300.8" font-size="5.1" text-anchor="start" font-weight="normal" font-style="normal" fill="#1a1a1a" transform="rotate(-90 386.4 300.8)">Vehicle</text>
<text x="394.88" y="300.8" font-size="5.1" text-anchor="start" font-weight="normal" font-style="normal" fill="#1a1a1a" transform="rotate(-90 394.88 300.8)">−10.0</text>
<text x="403.36" y="300.8" font-size="5.1" text-anchor="start" font-weight="normal" font-style="normal" fill="#1a1a1a" transform="rotate(-90 403.36 300.8)">−9.5</text>
<text x="411.84" y="300.8" font-size="5.1" text-anchor="start" font-weight="normal" font-style="normal" fill="#1a1a1a" transform="rotate(-90 411.84 300.8)">−9.0</text>
<text x="420.32" y="300.8" font-size="5.1" text-anchor="start" font-weight="normal" font-style="normal" fill="#1a1a1a" transform="rotate(-90 420.32 300.8)">−8.5</text>
<text x="428.8" y="300.8" font-size="5.1" text-anchor="start" font-weight="normal" font-style="normal" fill="#1a1a1a" transform="rotate(-90 428.8 300.8)">−8.0</text>
<text x="437.28" y="300.8" font-size="5.1" text-anchor="start" font-weight="normal" font-style="normal" fill="#1a1a1a" transform="rotate(-90 437.28 300.8)">−7.5</text>
<text x="445.76" y="300.8" font-size="5.1" text-anchor="start" font-weight="normal" font-style="normal" fill="#1a1a1a" transform="rotate(-90 445.76 300.8)">−7.0</text>
<text x="454.24" y="300.8" font-size="5.1" text-anchor="start" font-weight="normal" font-style="normal" fill="#1a1a1a" transform="rotate(-90 454.24 300.8)">−6.5</text>
<text x="462.72" y="300.8" font-size="5.1" text-anchor="start" font-weight="normal" font-style="normal" fill="#1a1a1a" transform="rotate(-90 462.72 300.8)">−6.0</text>
<text x="471.2" y="300.8" font-size="5.1" text-anchor="start" font-weight="normal" font-style="normal" fill="#1a1a1a" transform="rotate(-90 471.2 300.8)">−5.5</text>
<rect x="378.50" y="303.70" width="94.70" height="9.80" fill="#c9c9c9" stroke="#555" stroke-width="0.6"/>
<g filter="url(#bl)">
<rect x="381.00" y="307.84" width="7.4" height="1.9" rx="0.9" fill="#3c3c3c"/>
<rect x="389.48" y="307.52" width="7.4" height="1.9" rx="0.9" fill="#3c3c3c"/>
<rect x="397.96" y="307.58" width="7.4" height="1.9" rx="0.9" fill="#3c3c3c"/>
<rect x="406.44" y="307.75" width="7.4" height="1.9" rx="0.9" fill="#343434"/>
<rect x="414.92" y="307.36" width="7.4" height="1.9" rx="0.9" fill="#343434"/>
<rect x="423.40" y="307.63" width="7.4" height="1.9" rx="0.9" fill="#747474"/>
<rect x="431.88" y="307.45" width="7.4" height="1.9" rx="0.9" fill="#a0a0a0"/>
<rect x="440.36" y="307.42" width="7.4" height="1.9" rx="0.9" fill="#a7a7a7"/>
<rect x="448.84" y="307.39" width="7.4" height="1.9" rx="0.9" fill="#adadad"/>
<rect x="457.32" y="307.81" width="7.4" height="1.9" rx="0.9" fill="#adadad"/>
<rect x="465.80" y="307.43" width="7.4" height="1.9" rx="0.9" fill="#adadad"/>
</g>
<rect x="378.50" y="318.40" width="94.70" height="9.80" fill="#c9c9c9" stroke="#555" stroke-width="0.6"/>
<g filter="url(#bl)">
<rect x="380.90" y="322.20" width="7.6" height="1.9" rx="0.9" fill="#3c3c3c"/>
<rect x="389.38" y="322.28" width="7.6" height="1.9" rx="0.9" fill="#3c3c3c"/>
<rect x="397.86" y="322.57" width="7.6" height="1.9" rx="0.9" fill="#343434"/>
<rect x="406.34" y="322.10" width="7.6" height="1.9" rx="0.9" fill="#343434"/>
<rect x="414.82" y="322.32" width="7.6" height="1.9" rx="0.9" fill="#343434"/>
<rect x="423.30" y="322.38" width="7.6" height="1.9" rx="0.9" fill="#343434"/>
<rect x="431.78" y="322.58" width="7.6" height="1.9" rx="0.9" fill="#3c3c3c"/>
<rect x="440.26" y="322.54" width="7.6" height="1.9" rx="0.9" fill="#3c3c3c"/>
<rect x="448.74" y="322.57" width="7.6" height="1.9" rx="0.9" fill="#3c3c3c"/>
<rect x="457.22" y="322.22" width="7.6" height="1.9" rx="0.9" fill="#3c3c3c"/>
<rect x="465.70" y="322.30" width="7.6" height="1.9" rx="0.9" fill="#444444"/>
</g>
<text x="476.4" y="311.4" font-size="7.2" text-anchor="start" font-weight="normal" font-style="normal" fill="#1a1a1a">ER</text>
<text x="476.4" y="326.2" font-size="7.2" text-anchor="start" font-weight="normal" font-style="normal" fill="#1a1a1a">Vinculin</text>
<polyline points="375.1,235.6 371.5,235.6 371.5,324.6 375.1,324.6" fill="none" stroke="#666" stroke-width="0.8"/>
<line x1="368.50" y1="279.60" x2="371.50" y2="279.60" stroke="#666" stroke-width="0.8" stroke-linecap="butt"/>
<text x="366.9" y="282.0" font-size="7.15" text-anchor="end" font-style="italic" fill="#1a1a1a">Y537S ESR1</text>
<text x="0.6" y="398.6" font-size="13.4" text-anchor="start" font-weight="bold" font-style="normal" fill="#000">D</text>
<text x="106" y="391" font-size="6.8" text-anchor="middle" font-weight="bold" fill="#1a1a1a">HBXF079-LTED <tspan font-style="italic">ESR1</tspan>wt</text>
<line x1="29.70" y1="400.30" x2="39.70" y2="400.30" stroke="#8a0f52" stroke-width="0.8" stroke-linecap="butt"/>
<circle cx="34.70" cy="400.30" r="1.95" fill="#8a0f52" stroke="none" stroke-width="0"/>
<text x="44.5" y="402.6" font-size="6.3" fill="#1a1a1a">Vehicle</text>
<line x1="29.70" y1="408.30" x2="39.70" y2="408.30" stroke="#c9d52e" stroke-width="0.8" stroke-linecap="butt"/>
<circle cx="34.70" cy="408.30" r="1.95" fill="#c9d52e" stroke="none" stroke-width="0"/>
<text x="44.5" y="410.6" font-size="6.3" fill="#1a1a1a">Camizestrant 0.8 mg/kg (<tspan font-style="italic">n</tspan> = 9)</text>
<line x1="29.70" y1="416.40" x2="39.70" y2="416.40" stroke="#123a6b" stroke-width="0.8" stroke-linecap="butt"/>
<circle cx="34.70" cy="416.40" r="1.95" fill="#123a6b" stroke="none" stroke-width="0"/>
<text x="44.5" y="418.7" font-size="6.3" fill="#1a1a1a">Camizestrant 3 mg/kg (<tspan font-style="italic">n</tspan> = 9)</text>
<line x1="29.70" y1="424.40" x2="39.70" y2="424.40" stroke="#f6a821" stroke-width="0.8" stroke-linecap="butt"/>
<circle cx="34.70" cy="424.40" r="1.95" fill="#f6a821" stroke="none" stroke-width="0"/>
<text x="44.5" y="426.7" font-size="6.3" fill="#1a1a1a">Camizestrant 10 mg/kg (<tspan font-style="italic">n</tspan> = 9)</text>
<line x1="29.70" y1="432.30" x2="39.70" y2="432.30" stroke="#e5127d" stroke-width="0.8" stroke-linecap="butt"/>
<circle cx="34.70" cy="432.30" r="1.95" fill="#e5127d" stroke="none" stroke-width="0"/>
<text x="44.5" y="434.6" font-size="6.3" fill="#1a1a1a">Camizestrant 20 mg/kg (<tspan font-style="italic">n</tspan> = 9)</text>
<line x1="25.60" y1="413.30" x2="25.60" y2="541.20" stroke="#b5b5b5" stroke-width="0.7" stroke-linecap="butt"/>
<line x1="25.60" y1="541.20" x2="197.00" y2="541.20" stroke="#b5b5b5" stroke-width="0.7" stroke-linecap="butt"/>
<line x1="24.00" y1="413.30" x2="25.60" y2="413.30" stroke="#b5b5b5" stroke-width="0.6" stroke-linecap="butt"/>
<line x1="24.00" y1="417.40" x2="25.60" y2="417.40" stroke="#b5b5b5" stroke-width="0.6" stroke-linecap="butt"/>
<line x1="24.00" y1="422.00" x2="25.60" y2="422.00" stroke="#b5b5b5" stroke-width="0.6" stroke-linecap="butt"/>
<line x1="24.00" y1="427.20" x2="25.60" y2="427.20" stroke="#b5b5b5" stroke-width="0.6" stroke-linecap="butt"/>
<line x1="24.00" y1="433.30" x2="25.60" y2="433.30" stroke="#b5b5b5" stroke-width="0.6" stroke-linecap="butt"/>
<line x1="24.00" y1="440.10" x2="25.60" y2="440.10" stroke="#b5b5b5" stroke-width="0.6" stroke-linecap="butt"/>
<line x1="24.00" y1="446.60" x2="25.60" y2="446.60" stroke="#b5b5b5" stroke-width="0.6" stroke-linecap="butt"/>
<line x1="24.00" y1="457.90" x2="25.60" y2="457.90" stroke="#b5b5b5" stroke-width="0.6" stroke-linecap="butt"/>
<line x1="24.00" y1="473.00" x2="25.60" y2="473.00" stroke="#b5b5b5" stroke-width="0.6" stroke-linecap="butt"/>
<line x1="24.00" y1="507.20" x2="25.60" y2="507.20" stroke="#b5b5b5" stroke-width="0.6" stroke-linecap="butt"/>
<line x1="24.00" y1="514.60" x2="25.60" y2="514.60" stroke="#b5b5b5" stroke-width="0.6" stroke-linecap="butt"/>
<line x1="24.00" y1="521.50" x2="25.60" y2="521.50" stroke="#b5b5b5" stroke-width="0.6" stroke-linecap="butt"/>
<line x1="24.00" y1="529.00" x2="25.60" y2="529.00" stroke="#b5b5b5" stroke-width="0.6" stroke-linecap="butt"/>
<line x1="24.00" y1="537.70" x2="25.60" y2="537.70" stroke="#b5b5b5" stroke-width="0.6" stroke-linecap="butt"/>
<line x1="23.10" y1="500.30" x2="25.60" y2="500.30" stroke="#b5b5b5" stroke-width="0.7" stroke-linecap="butt"/>
<text x="21.1" y="502.8" font-size="6.8" text-anchor="end" font-weight="normal" font-style="normal" fill="#1a1a1a">1</text>
<line x1="25.60" y1="541.20" x2="25.60" y2="543.60" stroke="#b5b5b5" stroke-width="0.7" stroke-linecap="butt"/>
<text x="25.6" y="553.2" font-size="6.8" text-anchor="middle" font-weight="normal" font-style="normal" fill="#1a1a1a">0</text>
<line x1="53.94" y1="541.20" x2="53.94" y2="543.60" stroke="#b5b5b5" stroke-width="0.7" stroke-linecap="butt"/>
<text x="53.935" y="553.2" font-size="6.8" text-anchor="middle" font-weight="normal" font-style="normal" fill="#1a1a1a">5</text>
<line x1="82.27" y1="541.20" x2="82.27" y2="543.60" stroke="#b5b5b5" stroke-width="0.7" stroke-linecap="butt"/>
<text x="82.27000000000001" y="553.2" font-size="6.8" text-anchor="middle" font-weight="normal" font-style="normal" fill="#1a1a1a">10</text>
<line x1="110.60" y1="541.20" x2="110.60" y2="543.60" stroke="#b5b5b5" stroke-width="0.7" stroke-linecap="butt"/>
<text x="110.60499999999999" y="553.2" font-size="6.8" text-anchor="middle" font-weight="normal" font-style="normal" fill="#1a1a1a">15</text>
<line x1="138.94" y1="541.20" x2="138.94" y2="543.60" stroke="#b5b5b5" stroke-width="0.7" stroke-linecap="butt"/>
<text x="138.94" y="553.2" font-size="6.8" text-anchor="middle" font-weight="normal" font-style="normal" fill="#1a1a1a">20</text>
<line x1="167.27" y1="541.20" x2="167.27" y2="543.60" stroke="#b5b5b5" stroke-width="0.7" stroke-linecap="butt"/>
<text x="167.27499999999998" y="553.2" font-size="6.8" text-anchor="middle" font-weight="normal" font-style="normal" fill="#1a1a1a">25</text>
<line x1="195.61" y1="541.20" x2="195.61" y2="543.60" stroke="#b5b5b5" stroke-width="0.7" stroke-linecap="butt"/>
<text x="195.60999999999999" y="553.2" font-size="6.8" text-anchor="middle" font-weight="normal" font-style="normal" fill="#1a1a1a">30</text>
<text x="115.6" y="563.6" font-size="7.1" text-anchor="middle" font-weight="bold" font-style="normal" fill="#1a1a1a">Time after first dose (d)</text>
<text x="6.6" y="477.5" font-size="7.1" text-anchor="middle" font-weight="bold" font-style="normal" fill="#1a1a1a" transform="rotate(-90 6.6 477.5)">Relative tumor volume</text>
<line x1="25.60" y1="500.30" x2="193.00" y2="500.30" stroke="#d9b36a" stroke-width="0.8" stroke-dasharray="1 1.6" stroke-linecap="butt"/>
<line x1="36.93" y1="497.00" x2="36.93" y2="507.00" stroke="#123a6b" stroke-width="0.7" stroke-linecap="butt"/>
<line x1="35.23" y1="497.00" x2="38.63" y2="497.00" stroke="#123a6b" stroke-width="0.7" stroke-linecap="butt"/>
<line x1="35.23" y1="507.00" x2="38.63" y2="507.00" stroke="#123a6b" stroke-width="0.7" stroke-linecap="butt"/>
<line x1="59.60" y1="491.80" x2="59.60" y2="507.80" stroke="#123a6b" stroke-width="0.7" stroke-linecap="butt"/>
<line x1="57.90" y1="491.80" x2="61.30" y2="491.80" stroke="#123a6b" stroke-width="0.7" stroke-linecap="butt"/>
<line x1="57.90" y1="507.80" x2="61.30" y2="507.80" stroke="#123a6b" stroke-width="0.7" stroke-linecap="butt"/>
<line x1="76.60" y1="489.60" x2="76.60" y2="509.60" stroke="#123a6b" stroke-width="0.7" stroke-linecap="butt"/>
<line x1="74.90" y1="489.60" x2="78.30" y2="489.60" stroke="#123a6b" stroke-width="0.7" stroke-linecap="butt"/>
<line x1="74.90" y1="509.60" x2="78.30" y2="509.60" stroke="#123a6b" stroke-width="0.7" stroke-linecap="butt"/>
<line x1="99.27" y1="488.30" x2="99.27" y2="517.30" stroke="#123a6b" stroke-width="0.7" stroke-linecap="butt"/>
<line x1="97.57" y1="488.30" x2="100.97" y2="488.30" stroke="#123a6b" stroke-width="0.7" stroke-linecap="butt"/>
<line x1="97.57" y1="517.30" x2="100.97" y2="517.30" stroke="#123a6b" stroke-width="0.7" stroke-linecap="butt"/>
<line x1="116.27" y1="492.80" x2="116.27" y2="523.20" stroke="#123a6b" stroke-width="0.7" stroke-linecap="butt"/>
<line x1="114.57" y1="492.80" x2="117.97" y2="492.80" stroke="#123a6b" stroke-width="0.7" stroke-linecap="butt"/>
<line x1="114.57" y1="523.20" x2="117.97" y2="523.20" stroke="#123a6b" stroke-width="0.7" stroke-linecap="butt"/>
<line x1="138.94" y1="492.00" x2="138.94" y2="525.80" stroke="#123a6b" stroke-width="0.7" stroke-linecap="butt"/>
<line x1="137.24" y1="492.00" x2="140.64" y2="492.00" stroke="#123a6b" stroke-width="0.7" stroke-linecap="butt"/>
<line x1="137.24" y1="525.80" x2="140.64" y2="525.80" stroke="#123a6b" stroke-width="0.7" stroke-linecap="butt"/>
<line x1="155.94" y1="492.50" x2="155.94" y2="528.10" stroke="#123a6b" stroke-width="0.7" stroke-linecap="butt"/>
<line x1="154.24" y1="492.50" x2="157.64" y2="492.50" stroke="#123a6b" stroke-width="0.7" stroke-linecap="butt"/>
<line x1="154.24" y1="528.10" x2="157.64" y2="528.10" stroke="#123a6b" stroke-width="0.7" stroke-linecap="butt"/>
<line x1="178.61" y1="497.50" x2="178.61" y2="517.50" stroke="#123a6b" stroke-width="0.7" stroke-linecap="butt"/>
<line x1="176.91" y1="497.50" x2="180.31" y2="497.50" stroke="#123a6b" stroke-width="0.7" stroke-linecap="butt"/>
<line x1="176.91" y1="517.50" x2="180.31" y2="517.50" stroke="#123a6b" stroke-width="0.7" stroke-linecap="butt"/>
<polyline points="25.60,500.30 36.93,502.00 59.60,499.80 76.60,499.60 99.27,500.80 116.27,503.80 138.94,506.00 155.94,508.50 178.61,507.50" fill="none" stroke="#123a6b" stroke-width="0.9" stroke-linejoin="round"/>
<circle cx="25.60" cy="500.30" r="2.35" fill="#123a6b" stroke="none" stroke-width="0"/>
<circle cx="36.93" cy="502.00" r="2.35" fill="#123a6b" stroke="none" stroke-width="0"/>
<circle cx="59.60" cy="499.80" r="2.35" fill="#123a6b" stroke="none" stroke-width="0"/>
<circle cx="76.60" cy="499.60" r="2.35" fill="#123a6b" stroke="none" stroke-width="0"/>
<circle cx="99.27" cy="500.80" r="2.35" fill="#123a6b" stroke="none" stroke-width="0"/>
<circle cx="116.27" cy="503.80" r="2.35" fill="#123a6b" stroke="none" stroke-width="0"/>
<circle cx="138.94" cy="506.00" r="2.35" fill="#123a6b" stroke="none" stroke-width="0"/>
<circle cx="155.94" cy="508.50" r="2.35" fill="#123a6b" stroke="none" stroke-width="0"/>
<circle cx="178.61" cy="507.50" r="2.35" fill="#123a6b" stroke="none" stroke-width="0"/>
<line x1="36.93" y1="488.30" x2="36.93" y2="500.30" stroke="#f6a821" stroke-width="0.7" stroke-linecap="butt"/>
<line x1="35.23" y1="488.30" x2="38.63" y2="488.30" stroke="#f6a821" stroke-width="0.7" stroke-linecap="butt"/>
<line x1="35.23" y1="500.30" x2="38.63" y2="500.30" stroke="#f6a821" stroke-width="0.7" stroke-linecap="butt"/>
<line x1="59.60" y1="491.50" x2="59.60" y2="505.50" stroke="#f6a821" stroke-width="0.7" stroke-linecap="butt"/>
<line x1="57.90" y1="491.50" x2="61.30" y2="491.50" stroke="#f6a821" stroke-width="0.7" stroke-linecap="butt"/>
<line x1="57.90" y1="505.50" x2="61.30" y2="505.50" stroke="#f6a821" stroke-width="0.7" stroke-linecap="butt"/>
<line x1="76.60" y1="485.50" x2="76.60" y2="499.50" stroke="#f6a821" stroke-width="0.7" stroke-linecap="butt"/>
<line x1="74.90" y1="485.50" x2="78.30" y2="485.50" stroke="#f6a821" stroke-width="0.7" stroke-linecap="butt"/>
<line x1="74.90" y1="499.50" x2="78.30" y2="499.50" stroke="#f6a821" stroke-width="0.7" stroke-linecap="butt"/>
<line x1="99.27" y1="482.50" x2="99.27" y2="498.50" stroke="#f6a821" stroke-width="0.7" stroke-linecap="butt"/>
<line x1="97.57" y1="482.50" x2="100.97" y2="482.50" stroke="#f6a821" stroke-width="0.7" stroke-linecap="butt"/>
<line x1="97.57" y1="498.50" x2="100.97" y2="498.50" stroke="#f6a821" stroke-width="0.7" stroke-linecap="butt"/>
<line x1="116.27" y1="489.30" x2="116.27" y2="505.30" stroke="#f6a821" stroke-width="0.7" stroke-linecap="butt"/>
<line x1="114.57" y1="489.30" x2="117.97" y2="489.30" stroke="#f6a821" stroke-width="0.7" stroke-linecap="butt"/>
<line x1="114.57" y1="505.30" x2="117.97" y2="505.30" stroke="#f6a821" stroke-width="0.7" stroke-linecap="butt"/>
<line x1="138.94" y1="494.00" x2="138.94" y2="510.00" stroke="#f6a821" stroke-width="0.7" stroke-linecap="butt"/>
<line x1="137.24" y1="494.00" x2="140.64" y2="494.00" stroke="#f6a821" stroke-width="0.7" stroke-linecap="butt"/>
<line x1="137.24" y1="510.00" x2="140.64" y2="510.00" stroke="#f6a821" stroke-width="0.7" stroke-linecap="butt"/>
<line x1="155.94" y1="487.40" x2="155.94" y2="503.40" stroke="#f6a821" stroke-width="0.7" stroke-linecap="butt"/>
<line x1="154.24" y1="487.40" x2="157.64" y2="487.40" stroke="#f6a821" stroke-width="0.7" stroke-linecap="butt"/>
<line x1="154.24" y1="503.40" x2="157.64" y2="503.40" stroke="#f6a821" stroke-width="0.7" stroke-linecap="butt"/>
<line x1="178.61" y1="494.50" x2="178.61" y2="512.50" stroke="#f6a821" stroke-width="0.7" stroke-linecap="butt"/>
<line x1="176.91" y1="494.50" x2="180.31" y2="494.50" stroke="#f6a821" stroke-width="0.7" stroke-linecap="butt"/>
<line x1="176.91" y1="512.50" x2="180.31" y2="512.50" stroke="#f6a821" stroke-width="0.7" stroke-linecap="butt"/>
<polyline points="25.60,500.30 36.93,494.30 59.60,498.50 76.60,492.50 99.27,490.50 116.27,497.30 138.94,502.00 155.94,495.40 178.61,503.50" fill="none" stroke="#f6a821" stroke-width="0.9" stroke-linejoin="round"/>
<circle cx="25.60" cy="500.30" r="2.35" fill="#f6a821" stroke="none" stroke-width="0"/>
<circle cx="36.93" cy="494.30" r="2.35" fill="#f6a821" stroke="none" stroke-width="0"/>
<circle cx="59.60" cy="498.50" r="2.35" fill="#f6a821" stroke="none" stroke-width="0"/>
<circle cx="76.60" cy="492.50" r="2.35" fill="#f6a821" stroke="none" stroke-width="0"/>
<circle cx="99.27" cy="490.50" r="2.35" fill="#f6a821" stroke="none" stroke-width="0"/>
<circle cx="116.27" cy="497.30" r="2.35" fill="#f6a821" stroke="none" stroke-width="0"/>
<circle cx="138.94" cy="502.00" r="2.35" fill="#f6a821" stroke="none" stroke-width="0"/>
<circle cx="155.94" cy="495.40" r="2.35" fill="#f6a821" stroke="none" stroke-width="0"/>
<circle cx="178.61" cy="503.50" r="2.35" fill="#f6a821" stroke="none" stroke-width="0"/>
<line x1="36.93" y1="490.20" x2="36.93" y2="502.20" stroke="#e5127d" stroke-width="0.7" stroke-linecap="butt"/>
<line x1="35.23" y1="490.20" x2="38.63" y2="490.20" stroke="#e5127d" stroke-width="0.7" stroke-linecap="butt"/>
<line x1="35.23" y1="502.20" x2="38.63" y2="502.20" stroke="#e5127d" stroke-width="0.7" stroke-linecap="butt"/>
<line x1="59.60" y1="494.00" x2="59.60" y2="512.00" stroke="#e5127d" stroke-width="0.7" stroke-linecap="butt"/>
<line x1="57.90" y1="494.00" x2="61.30" y2="494.00" stroke="#e5127d" stroke-width="0.7" stroke-linecap="butt"/>
<line x1="57.90" y1="512.00" x2="61.30" y2="512.00" stroke="#e5127d" stroke-width="0.7" stroke-linecap="butt"/>
<line x1="76.60" y1="488.20" x2="76.60" y2="502.20" stroke="#e5127d" stroke-width="0.7" stroke-linecap="butt"/>
<line x1="74.90" y1="488.20" x2="78.30" y2="488.20" stroke="#e5127d" stroke-width="0.7" stroke-linecap="butt"/>
<line x1="74.90" y1="502.20" x2="78.30" y2="502.20" stroke="#e5127d" stroke-width="0.7" stroke-linecap="butt"/>
<line x1="99.27" y1="485.80" x2="99.27" y2="501.80" stroke="#e5127d" stroke-width="0.7" stroke-linecap="butt"/>
<line x1="97.57" y1="485.80" x2="100.97" y2="485.80" stroke="#e5127d" stroke-width="0.7" stroke-linecap="butt"/>
<line x1="97.57" y1="501.80" x2="100.97" y2="501.80" stroke="#e5127d" stroke-width="0.7" stroke-linecap="butt"/>
<line x1="116.27" y1="490.10" x2="116.27" y2="508.10" stroke="#e5127d" stroke-width="0.7" stroke-linecap="butt"/>
<line x1="114.57" y1="490.10" x2="117.97" y2="490.10" stroke="#e5127d" stroke-width="0.7" stroke-linecap="butt"/>
<line x1="114.57" y1="508.10" x2="117.97" y2="508.10" stroke="#e5127d" stroke-width="0.7" stroke-linecap="butt"/>
<line x1="138.94" y1="495.70" x2="138.94" y2="513.70" stroke="#e5127d" stroke-width="0.7" stroke-linecap="butt"/>
<line x1="137.24" y1="495.70" x2="140.64" y2="495.70" stroke="#e5127d" stroke-width="0.7" stroke-linecap="butt"/>
<line x1="137.24" y1="513.70" x2="140.64" y2="513.70" stroke="#e5127d" stroke-width="0.7" stroke-linecap="butt"/>
<line x1="155.94" y1="494.50" x2="155.94" y2="512.50" stroke="#e5127d" stroke-width="0.7" stroke-linecap="butt"/>
<line x1="154.24" y1="494.50" x2="157.64" y2="494.50" stroke="#e5127d" stroke-width="0.7" stroke-linecap="butt"/>
<line x1="154.24" y1="512.50" x2="157.64" y2="512.50" stroke="#e5127d" stroke-width="0.7" stroke-linecap="butt"/>
<line x1="178.61" y1="499.00" x2="178.61" y2="521.00" stroke="#e5127d" stroke-width="0.7" stroke-linecap="butt"/>
<line x1="176.91" y1="499.00" x2="180.31" y2="499.00" stroke="#e5127d" stroke-width="0.7" stroke-linecap="butt"/>
<line x1="176.91" y1="521.00" x2="180.31" y2="521.00" stroke="#e5127d" stroke-width="0.7" stroke-linecap="butt"/>
<polyline points="25.60,500.30 36.93,496.20 59.60,503.00 76.60,495.20 99.27,493.80 116.27,499.10 138.94,504.70 155.94,503.50 178.61,510.00" fill="none" stroke="#e5127d" stroke-width="0.9" stroke-linejoin="round"/>
<circle cx="25.60" cy="500.30" r="2.35" fill="#e5127d" stroke="none" stroke-width="0"/>
<circle cx="36.93" cy="496.20" r="2.35" fill="#e5127d" stroke="none" stroke-width="0"/>
<circle cx="59.60" cy="503.00" r="2.35" fill="#e5127d" stroke="none" stroke-width="0"/>
<circle cx="76.60" cy="495.20" r="2.35" fill="#e5127d" stroke="none" stroke-width="0"/>
<circle cx="99.27" cy="493.80" r="2.35" fill="#e5127d" stroke="none" stroke-width="0"/>
<circle cx="116.27" cy="499.10" r="2.35" fill="#e5127d" stroke="none" stroke-width="0"/>
<circle cx="138.94" cy="504.70" r="2.35" fill="#e5127d" stroke="none" stroke-width="0"/>
<circle cx="155.94" cy="503.50" r="2.35" fill="#e5127d" stroke="none" stroke-width="0"/>
<circle cx="178.61" cy="510.00" r="2.35" fill="#e5127d" stroke="none" stroke-width="0"/>
<line x1="36.93" y1="485.70" x2="36.93" y2="499.70" stroke="#c9d52e" stroke-width="0.7" stroke-linecap="butt"/>
<line x1="35.23" y1="485.70" x2="38.63" y2="485.70" stroke="#c9d52e" stroke-width="0.7" stroke-linecap="butt"/>
<line x1="35.23" y1="499.70" x2="38.63" y2="499.70" stroke="#c9d52e" stroke-width="0.7" stroke-linecap="butt"/>
<line x1="59.60" y1="489.40" x2="59.60" y2="503.40" stroke="#c9d52e" stroke-width="0.7" stroke-linecap="butt"/>
<line x1="57.90" y1="489.40" x2="61.30" y2="489.40" stroke="#c9d52e" stroke-width="0.7" stroke-linecap="butt"/>
<line x1="57.90" y1="503.40" x2="61.30" y2="503.40" stroke="#c9d52e" stroke-width="0.7" stroke-linecap="butt"/>
<line x1="76.60" y1="481.70" x2="76.60" y2="497.70" stroke="#c9d52e" stroke-width="0.7" stroke-linecap="butt"/>
<line x1="74.90" y1="481.70" x2="78.30" y2="481.70" stroke="#c9d52e" stroke-width="0.7" stroke-linecap="butt"/>
<line x1="74.90" y1="497.70" x2="78.30" y2="497.70" stroke="#c9d52e" stroke-width="0.7" stroke-linecap="butt"/>
<line x1="99.27" y1="477.50" x2="99.27" y2="495.50" stroke="#c9d52e" stroke-width="0.7" stroke-linecap="butt"/>
<line x1="97.57" y1="477.50" x2="100.97" y2="477.50" stroke="#c9d52e" stroke-width="0.7" stroke-linecap="butt"/>
<line x1="97.57" y1="495.50" x2="100.97" y2="495.50" stroke="#c9d52e" stroke-width="0.7" stroke-linecap="butt"/>
<line x1="116.27" y1="469.20" x2="116.27" y2="490.20" stroke="#c9d52e" stroke-width="0.7" stroke-linecap="butt"/>
<line x1="114.57" y1="469.20" x2="117.97" y2="469.20" stroke="#c9d52e" stroke-width="0.7" stroke-linecap="butt"/>
<line x1="114.57" y1="490.20" x2="117.97" y2="490.20" stroke="#c9d52e" stroke-width="0.7" stroke-linecap="butt"/>
<line x1="138.94" y1="473.90" x2="138.94" y2="494.90" stroke="#c9d52e" stroke-width="0.7" stroke-linecap="butt"/>
<line x1="137.24" y1="473.90" x2="140.64" y2="473.90" stroke="#c9d52e" stroke-width="0.7" stroke-linecap="butt"/>
<line x1="137.24" y1="494.90" x2="140.64" y2="494.90" stroke="#c9d52e" stroke-width="0.7" stroke-linecap="butt"/>
<line x1="155.94" y1="481.70" x2="155.94" y2="503.70" stroke="#c9d52e" stroke-width="0.7" stroke-linecap="butt"/>
<line x1="154.24" y1="481.70" x2="157.64" y2="481.70" stroke="#c9d52e" stroke-width="0.7" stroke-linecap="butt"/>
<line x1="154.24" y1="503.70" x2="157.64" y2="503.70" stroke="#c9d52e" stroke-width="0.7" stroke-linecap="butt"/>
<line x1="178.61" y1="475.90" x2="178.61" y2="497.90" stroke="#c9d52e" stroke-width="0.7" stroke-linecap="butt"/>
<line x1="176.91" y1="475.90" x2="180.31" y2="475.90" stroke="#c9d52e" stroke-width="0.7" stroke-linecap="butt"/>
<line x1="176.91" y1="497.90" x2="180.31" y2="497.90" stroke="#c9d52e" stroke-width="0.7" stroke-linecap="butt"/>
<polyline points="25.60,500.30 36.93,492.70 59.60,496.40 76.60,489.70 99.27,486.50 116.27,479.20 138.94,483.90 155.94,492.70 178.61,486.90" fill="none" stroke="#c9d52e" stroke-width="0.9" stroke-linejoin="round"/>
<circle cx="25.60" cy="500.30" r="2.35" fill="#c9d52e" stroke="none" stroke-width="0"/>
<circle cx="36.93" cy="492.70" r="2.35" fill="#c9d52e" stroke="none" stroke-width="0"/>
<circle cx="59.60" cy="496.40" r="2.35" fill="#c9d52e" stroke="none" stroke-width="0"/>
<circle cx="76.60" cy="489.70" r="2.35" fill="#c9d52e" stroke="none" stroke-width="0"/>
<circle cx="99.27" cy="486.50" r="2.35" fill="#c9d52e" stroke="none" stroke-width="0"/>
<circle cx="116.27" cy="479.20" r="2.35" fill="#c9d52e" stroke="none" stroke-width="0"/>
<circle cx="138.94" cy="483.90" r="2.35" fill="#c9d52e" stroke="none" stroke-width="0"/>
<circle cx="155.94" cy="492.70" r="2.35" fill="#c9d52e" stroke="none" stroke-width="0"/>
<circle cx="178.61" cy="486.90" r="2.35" fill="#c9d52e" stroke="none" stroke-width="0"/>
<line x1="36.93" y1="493.00" x2="36.93" y2="499.00" stroke="#8a0f52" stroke-width="0.7" stroke-linecap="butt"/>
<line x1="35.23" y1="493.00" x2="38.63" y2="493.00" stroke="#8a0f52" stroke-width="0.7" stroke-linecap="butt"/>
<line x1="35.23" y1="499.00" x2="38.63" y2="499.00" stroke="#8a0f52" stroke-width="0.7" stroke-linecap="butt"/>
<line x1="59.60" y1="473.00" x2="59.60" y2="491.50" stroke="#8a0f52" stroke-width="0.7" stroke-linecap="butt"/>
<line x1="57.90" y1="473.00" x2="61.30" y2="473.00" stroke="#8a0f52" stroke-width="0.7" stroke-linecap="butt"/>
<line x1="57.90" y1="491.50" x2="61.30" y2="491.50" stroke="#8a0f52" stroke-width="0.7" stroke-linecap="butt"/>
<line x1="76.60" y1="471.50" x2="76.60" y2="489.00" stroke="#8a0f52" stroke-width="0.7" stroke-linecap="butt"/>
<line x1="74.90" y1="471.50" x2="78.30" y2="471.50" stroke="#8a0f52" stroke-width="0.7" stroke-linecap="butt"/>
<line x1="74.90" y1="489.00" x2="78.30" y2="489.00" stroke="#8a0f52" stroke-width="0.7" stroke-linecap="butt"/>
<line x1="99.27" y1="451.00" x2="99.27" y2="475.00" stroke="#8a0f52" stroke-width="0.7" stroke-linecap="butt"/>
<line x1="97.57" y1="451.00" x2="100.97" y2="451.00" stroke="#8a0f52" stroke-width="0.7" stroke-linecap="butt"/>
<line x1="97.57" y1="475.00" x2="100.97" y2="475.00" stroke="#8a0f52" stroke-width="0.7" stroke-linecap="butt"/>
<line x1="116.27" y1="438.50" x2="116.27" y2="462.50" stroke="#8a0f52" stroke-width="0.7" stroke-linecap="butt"/>
<line x1="114.57" y1="438.50" x2="117.97" y2="438.50" stroke="#8a0f52" stroke-width="0.7" stroke-linecap="butt"/>
<line x1="114.57" y1="462.50" x2="117.97" y2="462.50" stroke="#8a0f52" stroke-width="0.7" stroke-linecap="butt"/>
<line x1="138.94" y1="433.50" x2="138.94" y2="457.50" stroke="#8a0f52" stroke-width="0.7" stroke-linecap="butt"/>
<line x1="137.24" y1="433.50" x2="140.64" y2="433.50" stroke="#8a0f52" stroke-width="0.7" stroke-linecap="butt"/>
<line x1="137.24" y1="457.50" x2="140.64" y2="457.50" stroke="#8a0f52" stroke-width="0.7" stroke-linecap="butt"/>
<line x1="155.94" y1="426.00" x2="155.94" y2="448.50" stroke="#8a0f52" stroke-width="0.7" stroke-linecap="butt"/>
<line x1="154.24" y1="426.00" x2="157.64" y2="426.00" stroke="#8a0f52" stroke-width="0.7" stroke-linecap="butt"/>
<line x1="154.24" y1="448.50" x2="157.64" y2="448.50" stroke="#8a0f52" stroke-width="0.7" stroke-linecap="butt"/>
<line x1="178.61" y1="413.50" x2="178.61" y2="437.50" stroke="#8a0f52" stroke-width="0.7" stroke-linecap="butt"/>
<line x1="176.91" y1="413.50" x2="180.31" y2="413.50" stroke="#8a0f52" stroke-width="0.7" stroke-linecap="butt"/>
<line x1="176.91" y1="437.50" x2="180.31" y2="437.50" stroke="#8a0f52" stroke-width="0.7" stroke-linecap="butt"/>
<polyline points="25.60,500.30 36.93,496.00 59.60,482.00 76.60,479.50 99.27,462.50 116.27,450.00 138.94,445.00 155.94,437.00 178.61,426.00" fill="none" stroke="#8a0f52" stroke-width="0.9" stroke-linejoin="round"/>
<circle cx="25.60" cy="500.30" r="2.35" fill="#8a0f52" stroke="none" stroke-width="0"/>
<circle cx="36.93" cy="496.00" r="2.35" fill="#8a0f52" stroke="none" stroke-width="0"/>
<circle cx="59.60" cy="482.00" r="2.35" fill="#8a0f52" stroke="none" stroke-width="0"/>
<circle cx="76.60" cy="479.50" r="2.35" fill="#8a0f52" stroke="none" stroke-width="0"/>
<circle cx="99.27" cy="462.50" r="2.35" fill="#8a0f52" stroke="none" stroke-width="0"/>
<circle cx="116.27" cy="450.00" r="2.35" fill="#8a0f52" stroke="none" stroke-width="0"/>
<circle cx="138.94" cy="445.00" r="2.35" fill="#8a0f52" stroke="none" stroke-width="0"/>
<circle cx="155.94" cy="437.00" r="2.35" fill="#8a0f52" stroke="none" stroke-width="0"/>
<circle cx="178.61" cy="426.00" r="2.35" fill="#8a0f52" stroke="none" stroke-width="0"/>
<polyline points="187.6,424.3 195,424.3 195,487.6 187.6,487.6" fill="none" stroke="#555" stroke-width="0.7"/>
<text x="196.8" y="459.4" font-size="7.6" text-anchor="start" font-weight="bold" font-style="normal" fill="#1a1a1a">****</text>
<polyline points="187.6,489.9 195,489.9 195,507 187.6,507" fill="none" stroke="#555" stroke-width="0.7"/>
<text x="200" y="502.0" font-size="7.6" text-anchor="start" font-weight="bold" font-style="normal" fill="#1a1a1a">*</text>
<text x="251.4" y="401.0" font-size="13.4" text-anchor="start" font-weight="bold" font-style="normal" fill="#000">E</text>
<line x1="289.30" y1="415.90" x2="289.30" y2="542.60" stroke="#b5b5b5" stroke-width="0.7" stroke-linecap="butt"/>
<line x1="289.30" y1="542.60" x2="463.00" y2="542.60" stroke="#b5b5b5" stroke-width="0.7" stroke-linecap="butt"/>
<line x1="284.90" y1="542.60" x2="289.30" y2="542.60" stroke="#b5b5b5" stroke-width="0.7" stroke-linecap="butt"/>
<text x="283.0" y="544.9" font-size="6.8" text-anchor="end" font-weight="normal" font-style="normal" fill="#1a1a1a">0</text>
<line x1="284.90" y1="500.47" x2="289.30" y2="500.47" stroke="#b5b5b5" stroke-width="0.7" stroke-linecap="butt"/>
<text x="283.0" y="502.7666666666667" font-size="6.8" text-anchor="end" font-weight="normal" font-style="normal" fill="#1a1a1a">50</text>
<line x1="284.90" y1="458.33" x2="289.30" y2="458.33" stroke="#b5b5b5" stroke-width="0.7" stroke-linecap="butt"/>
<text x="283.0" y="460.6333333333333" font-size="6.8" text-anchor="end" font-weight="normal" font-style="normal" fill="#1a1a1a">100</text>
<line x1="284.90" y1="416.20" x2="289.30" y2="416.20" stroke="#b5b5b5" stroke-width="0.7" stroke-linecap="butt"/>
<text x="283.0" y="418.5" font-size="6.8" text-anchor="end" font-weight="normal" font-style="normal" fill="#1a1a1a">150</text>
<line x1="331.60" y1="542.60" x2="331.60" y2="545.10" stroke="#b5b5b5" stroke-width="0.7" stroke-linecap="butt"/>
<line x1="418.80" y1="542.60" x2="418.80" y2="545.10" stroke="#b5b5b5" stroke-width="0.7" stroke-linecap="butt"/>
<text x="289.6" y="554.4" font-size="6.8" text-anchor="middle" font-weight="normal" font-style="normal" fill="#1a1a1a">0</text>
<text x="331.6" y="554.4" font-size="6.8" text-anchor="middle" font-weight="normal" font-style="normal" fill="#1a1a1a">4</text>
<text x="418.8" y="554.4" font-size="6.8" text-anchor="middle" font-weight="normal" font-style="normal" fill="#1a1a1a">24</text>
<line x1="289.30" y1="458.33" x2="463.00" y2="458.33" stroke="#c9b9bf" stroke-width="0.8" stroke-dasharray="1.2 1.8" stroke-linecap="butt"/>
<text x="263.4" y="479.9" font-size="7.1" text-anchor="middle" font-weight="bold" font-style="normal" fill="#1a1a1a" transform="rotate(-90 263.4 479.9)">ER expresion (% of control)</text>
<rect x="295.10" y="451.17" width="9.90" height="91.43" fill="#8a0f52" stroke="none" stroke-width="0"/>
<line x1="300.05" y1="433.47" x2="300.05" y2="471.39" stroke="#333" stroke-width="0.65" stroke-linecap="butt"/>
<line x1="297.85" y1="433.47" x2="302.25" y2="433.47" stroke="#333" stroke-width="0.65" stroke-linecap="butt"/>
<line x1="297.85" y1="471.39" x2="302.25" y2="471.39" stroke="#333" stroke-width="0.65" stroke-linecap="butt"/>
<rect x="310.40" y="525.92" width="9.90" height="16.68" fill="#c9d52e" stroke="none" stroke-width="0"/>
<line x1="315.35" y1="517.07" x2="315.35" y2="534.34" stroke="#333" stroke-width="0.65" stroke-linecap="butt"/>
<line x1="313.15" y1="517.07" x2="317.55" y2="517.07" stroke="#333" stroke-width="0.65" stroke-linecap="butt"/>
<line x1="313.15" y1="534.34" x2="317.55" y2="534.34" stroke="#333" stroke-width="0.65" stroke-linecap="butt"/>
<text x="315.35" y="517.7672" font-size="7.4" text-anchor="middle" font-weight="bold" font-style="normal" fill="#1a1a1a">****</text>
<rect x="325.70" y="530.80" width="9.90" height="11.80" fill="#123a6b" stroke="none" stroke-width="0"/>
<line x1="330.65" y1="527.68" x2="330.65" y2="534.17" stroke="#333" stroke-width="0.65" stroke-linecap="butt"/>
<line x1="328.45" y1="527.68" x2="332.85" y2="527.68" stroke="#333" stroke-width="0.65" stroke-linecap="butt"/>
<line x1="328.45" y1="534.17" x2="332.85" y2="534.17" stroke="#333" stroke-width="0.65" stroke-linecap="butt"/>
<text x="330.65000000000003" y="528.3848" font-size="7.4" text-anchor="middle" font-weight="bold" font-style="normal" fill="#1a1a1a">****</text>
<rect x="341.00" y="533.08" width="9.90" height="9.52" fill="#f6a821" stroke="none" stroke-width="0"/>
<line x1="345.95" y1="530.97" x2="345.95" y2="535.61" stroke="#333" stroke-width="0.65" stroke-linecap="butt"/>
<line x1="343.75" y1="530.97" x2="348.15" y2="530.97" stroke="#333" stroke-width="0.65" stroke-linecap="butt"/>
<line x1="343.75" y1="535.61" x2="348.15" y2="535.61" stroke="#333" stroke-width="0.65" stroke-linecap="butt"/>
<text x="345.95" y="531.6712000000001" font-size="7.4" text-anchor="middle" font-weight="bold" font-style="normal" fill="#1a1a1a">****</text>
<rect x="356.30" y="533.08" width="9.90" height="9.52" fill="#e5127d" stroke="none" stroke-width="0"/>
<line x1="361.25" y1="531.22" x2="361.25" y2="535.61" stroke="#333" stroke-width="0.65" stroke-linecap="butt"/>
<line x1="359.05" y1="531.22" x2="363.45" y2="531.22" stroke="#333" stroke-width="0.65" stroke-linecap="butt"/>
<line x1="359.05" y1="535.61" x2="363.45" y2="535.61" stroke="#333" stroke-width="0.65" stroke-linecap="butt"/>
<text x="361.25" y="531.9240000000001" font-size="7.4" text-anchor="middle" font-weight="bold" font-style="normal" fill="#1a1a1a">****</text>
<rect x="382.60" y="446.28" width="9.90" height="96.32" fill="#8a0f52" stroke="none" stroke-width="0"/>
<line x1="387.55" y1="423.11" x2="387.55" y2="472.41" stroke="#333" stroke-width="0.65" stroke-linecap="butt"/>
<line x1="385.35" y1="423.11" x2="389.75" y2="423.11" stroke="#333" stroke-width="0.65" stroke-linecap="butt"/>
<line x1="385.35" y1="472.41" x2="389.75" y2="472.41" stroke="#333" stroke-width="0.65" stroke-linecap="butt"/>
<rect x="397.90" y="530.38" width="9.90" height="12.22" fill="#c9d52e" stroke="none" stroke-width="0"/>
<line x1="402.85" y1="527.18" x2="402.85" y2="533.75" stroke="#333" stroke-width="0.65" stroke-linecap="butt"/>
<line x1="400.65" y1="527.18" x2="405.05" y2="527.18" stroke="#333" stroke-width="0.65" stroke-linecap="butt"/>
<line x1="400.65" y1="533.75" x2="405.05" y2="533.75" stroke="#333" stroke-width="0.65" stroke-linecap="butt"/>
<text x="402.85" y="527.8792000000001" font-size="7.4" text-anchor="middle" font-weight="bold" font-style="normal" fill="#1a1a1a">***</text>
<rect x="413.20" y="535.86" width="9.90" height="6.74" fill="#123a6b" stroke="none" stroke-width="0"/>
<line x1="418.15" y1="533.92" x2="418.15" y2="537.97" stroke="#333" stroke-width="0.65" stroke-linecap="butt"/>
<line x1="415.95" y1="533.92" x2="420.35" y2="533.92" stroke="#333" stroke-width="0.65" stroke-linecap="butt"/>
<line x1="415.95" y1="537.97" x2="420.35" y2="537.97" stroke="#333" stroke-width="0.65" stroke-linecap="butt"/>
<text x="418.15000000000003" y="534.6205333333334" font-size="7.4" text-anchor="middle" font-weight="bold" font-style="normal" fill="#1a1a1a">****</text>
<rect x="428.50" y="536.70" width="9.90" height="5.90" fill="#f6a821" stroke="none" stroke-width="0"/>
<line x1="433.45" y1="534.93" x2="433.45" y2="538.39" stroke="#333" stroke-width="0.65" stroke-linecap="butt"/>
<line x1="431.25" y1="534.93" x2="435.65" y2="534.93" stroke="#333" stroke-width="0.65" stroke-linecap="butt"/>
<line x1="431.25" y1="538.39" x2="435.65" y2="538.39" stroke="#333" stroke-width="0.65" stroke-linecap="butt"/>
<text x="433.45" y="535.6317333333334" font-size="7.4" text-anchor="middle" font-weight="bold" font-style="normal" fill="#1a1a1a">****</text>
<rect x="443.80" y="535.86" width="9.90" height="6.74" fill="#e5127d" stroke="none" stroke-width="0"/>
<line x1="448.75" y1="532.99" x2="448.75" y2="538.39" stroke="#333" stroke-width="0.65" stroke-linecap="butt"/>
<line x1="446.55" y1="532.99" x2="450.95" y2="532.99" stroke="#333" stroke-width="0.65" stroke-linecap="butt"/>
<line x1="446.55" y1="538.39" x2="450.95" y2="538.39" stroke="#333" stroke-width="0.65" stroke-linecap="butt"/>
<text x="448.75" y="533.6936000000001" font-size="7.4" text-anchor="middle" font-weight="bold" font-style="normal" fill="#1a1a1a">****</text>
<rect x="411.30" y="415.95" width="10.00" height="2.90" fill="#8a0f52" stroke="none" stroke-width="0"/>
<text x="426.4" y="419.7" font-size="6.3" text-anchor="start" font-weight="normal" font-style="normal" fill="#1a1a1a">Vehicle</text>
<rect x="411.30" y="424.05" width="10.00" height="2.90" fill="#c9d52e" stroke="none" stroke-width="0"/>
<text x="426.4" y="427.8" font-size="6.3" text-anchor="start" font-weight="normal" font-style="normal" fill="#1a1a1a">Camizestrant 0.8 mg/kg</text>
<rect x="411.30" y="432.15" width="10.00" height="2.90" fill="#123a6b" stroke="none" stroke-width="0"/>
<text x="426.4" y="435.90000000000003" font-size="6.3" text-anchor="start" font-weight="normal" font-style="normal" fill="#1a1a1a">Camizestrant 3.0 mg/kg</text>
<rect x="411.30" y="440.25" width="10.00" height="2.90" fill="#f6a821" stroke="none" stroke-width="0"/>
<text x="426.4" y="444.0" font-size="6.3" text-anchor="start" font-weight="normal" font-style="normal" fill="#1a1a1a">Camizestrant 10.0 mg/kg</text>
<rect x="411.30" y="448.35" width="10.00" height="2.90" fill="#e5127d" stroke="none" stroke-width="0"/>
<text x="426.4" y="452.1" font-size="6.3" text-anchor="start" font-weight="normal" font-style="normal" fill="#1a1a1a">Camizestrant 20.0 mg/kg</text>
<text x="252.0" y="581.0" font-size="13.4" text-anchor="start" font-weight="bold" font-style="normal" fill="#000">G</text>
<line x1="289.30" y1="578.40" x2="289.30" y2="709.20" stroke="#b5b5b5" stroke-width="0.7" stroke-linecap="butt"/>
<line x1="289.30" y1="709.20" x2="463.00" y2="709.20" stroke="#b5b5b5" stroke-width="0.7" stroke-linecap="butt"/>
<line x1="284.90" y1="709.20" x2="289.30" y2="709.20" stroke="#b5b5b5" stroke-width="0.7" stroke-linecap="butt"/>
<text x="283.0" y="711.5" font-size="6.8" text-anchor="end" font-weight="normal" font-style="normal" fill="#1a1a1a">0</text>
<line x1="284.90" y1="666.80" x2="289.30" y2="666.80" stroke="#b5b5b5" stroke-width="0.7" stroke-linecap="butt"/>
<text x="283.0" y="669.1" font-size="6.8" text-anchor="end" font-weight="normal" font-style="normal" fill="#1a1a1a">50</text>
<line x1="284.90" y1="624.40" x2="289.30" y2="624.40" stroke="#b5b5b5" stroke-width="0.7" stroke-linecap="butt"/>
<text x="283.0" y="626.6999999999999" font-size="6.8" text-anchor="end" font-weight="normal" font-style="normal" fill="#1a1a1a">100</text>
<line x1="284.90" y1="582.00" x2="289.30" y2="582.00" stroke="#b5b5b5" stroke-width="0.7" stroke-linecap="butt"/>
<text x="283.0" y="584.3" font-size="6.8" text-anchor="end" font-weight="normal" font-style="normal" fill="#1a1a1a">150</text>
<line x1="331.60" y1="709.20" x2="331.60" y2="711.70" stroke="#b5b5b5" stroke-width="0.7" stroke-linecap="butt"/>
<line x1="418.80" y1="709.20" x2="418.80" y2="711.70" stroke="#b5b5b5" stroke-width="0.7" stroke-linecap="butt"/>
<text x="289.6" y="721.0" font-size="6.8" text-anchor="middle" font-weight="normal" font-style="normal" fill="#1a1a1a">0</text>
<text x="331.6" y="721.0" font-size="6.8" text-anchor="middle" font-weight="normal" font-style="normal" fill="#1a1a1a">4</text>
<text x="418.8" y="721.0" font-size="6.8" text-anchor="middle" font-weight="normal" font-style="normal" fill="#1a1a1a">24</text>
<line x1="289.30" y1="624.40" x2="463.00" y2="624.40" stroke="#c9b9bf" stroke-width="0.8" stroke-dasharray="1.2 1.8" stroke-linecap="butt"/>
<text x="263.4" y="646.1" font-size="7.1" text-anchor="middle" font-weight="bold" font-style="normal" fill="#1a1a1a" transform="rotate(-90 263.4 646.1)">ER expresion (% of control)</text>
<rect x="295.30" y="624.40" width="9.90" height="84.80" fill="#8a0f52" stroke="none" stroke-width="0"/>
<line x1="300.25" y1="616.34" x2="300.25" y2="632.46" stroke="#333" stroke-width="0.65" stroke-linecap="butt"/>
<line x1="298.05" y1="616.34" x2="302.45" y2="616.34" stroke="#333" stroke-width="0.65" stroke-linecap="butt"/>
<line x1="298.05" y1="632.46" x2="302.45" y2="632.46" stroke="#333" stroke-width="0.65" stroke-linecap="butt"/>
<rect x="310.60" y="681.22" width="9.90" height="27.98" fill="#c9d52e" stroke="none" stroke-width="0"/>
<line x1="315.55" y1="675.28" x2="315.55" y2="687.15" stroke="#333" stroke-width="0.65" stroke-linecap="butt"/>
<line x1="313.35" y1="675.28" x2="317.75" y2="675.28" stroke="#333" stroke-width="0.65" stroke-linecap="butt"/>
<line x1="313.35" y1="687.15" x2="317.75" y2="687.15" stroke="#333" stroke-width="0.65" stroke-linecap="butt"/>
<text x="315.55" y="675.98" font-size="7.4" text-anchor="middle" font-weight="bold" font-style="normal" fill="#1a1a1a">***</text>
<rect x="325.90" y="690.97" width="9.90" height="18.23" fill="#123a6b" stroke="none" stroke-width="0"/>
<line x1="330.85" y1="682.49" x2="330.85" y2="699.45" stroke="#333" stroke-width="0.65" stroke-linecap="butt"/>
<line x1="328.65" y1="682.49" x2="333.05" y2="682.49" stroke="#333" stroke-width="0.65" stroke-linecap="butt"/>
<line x1="328.65" y1="699.45" x2="333.05" y2="699.45" stroke="#333" stroke-width="0.65" stroke-linecap="butt"/>
<text x="330.85" y="683.1880000000001" font-size="7.4" text-anchor="middle" font-weight="bold" font-style="normal" fill="#1a1a1a">***</text>
<rect x="341.20" y="701.74" width="9.90" height="7.46" fill="#f6a821" stroke="none" stroke-width="0"/>
<line x1="346.15" y1="699.79" x2="346.15" y2="703.86" stroke="#333" stroke-width="0.65" stroke-linecap="butt"/>
<line x1="343.95" y1="699.79" x2="348.35" y2="699.79" stroke="#333" stroke-width="0.65" stroke-linecap="butt"/>
<line x1="343.95" y1="703.86" x2="348.35" y2="703.86" stroke="#333" stroke-width="0.65" stroke-linecap="butt"/>
<text x="346.15000000000003" y="700.4872" font-size="7.4" text-anchor="middle" font-weight="bold" font-style="normal" fill="#1a1a1a">***</text>
<rect x="356.50" y="702.59" width="9.90" height="6.61" fill="#e5127d" stroke="none" stroke-width="0"/>
<line x1="361.45" y1="700.97" x2="361.45" y2="704.28" stroke="#333" stroke-width="0.65" stroke-linecap="butt"/>
<line x1="359.25" y1="700.97" x2="363.65" y2="700.97" stroke="#333" stroke-width="0.65" stroke-linecap="butt"/>
<line x1="359.25" y1="704.28" x2="363.65" y2="704.28" stroke="#333" stroke-width="0.65" stroke-linecap="butt"/>
<text x="361.45" y="701.6744000000001" font-size="7.4" text-anchor="middle" font-weight="bold" font-style="normal" fill="#1a1a1a">***</text>
<rect x="383.00" y="624.82" width="9.90" height="84.38" fill="#8a0f52" stroke="none" stroke-width="0"/>
<line x1="387.95" y1="618.04" x2="387.95" y2="631.61" stroke="#333" stroke-width="0.65" stroke-linecap="butt"/>
<line x1="385.75" y1="618.04" x2="390.15" y2="618.04" stroke="#333" stroke-width="0.65" stroke-linecap="butt"/>
<line x1="385.75" y1="631.61" x2="390.15" y2="631.61" stroke="#333" stroke-width="0.65" stroke-linecap="butt"/>
<rect x="398.30" y="635.59" width="9.90" height="73.61" fill="#c9d52e" stroke="none" stroke-width="0"/>
<line x1="403.25" y1="626.69" x2="403.25" y2="644.92" stroke="#333" stroke-width="0.65" stroke-linecap="butt"/>
<line x1="401.05" y1="626.69" x2="405.45" y2="626.69" stroke="#333" stroke-width="0.65" stroke-linecap="butt"/>
<line x1="401.05" y1="644.92" x2="405.45" y2="644.92" stroke="#333" stroke-width="0.65" stroke-linecap="butt"/>
<rect x="413.60" y="652.98" width="9.90" height="56.22" fill="#123a6b" stroke="none" stroke-width="0"/>
<line x1="418.55" y1="638.22" x2="418.55" y2="667.39" stroke="#333" stroke-width="0.65" stroke-linecap="butt"/>
<line x1="416.35" y1="638.22" x2="420.75" y2="638.22" stroke="#333" stroke-width="0.65" stroke-linecap="butt"/>
<line x1="416.35" y1="667.39" x2="420.75" y2="667.39" stroke="#333" stroke-width="0.65" stroke-linecap="butt"/>
<rect x="428.90" y="687.83" width="9.90" height="21.37" fill="#f6a821" stroke="none" stroke-width="0"/>
<line x1="433.85" y1="682.40" x2="433.85" y2="693.17" stroke="#333" stroke-width="0.65" stroke-linecap="butt"/>
<line x1="431.65" y1="682.40" x2="436.05" y2="682.40" stroke="#333" stroke-width="0.65" stroke-linecap="butt"/>
<line x1="431.65" y1="693.17" x2="436.05" y2="693.17" stroke="#333" stroke-width="0.65" stroke-linecap="butt"/>
<text x="433.84999999999997" y="683.1032000000001" font-size="7.4" text-anchor="middle" font-weight="bold" font-style="normal" fill="#1a1a1a">***</text>
<rect x="444.20" y="701.23" width="9.90" height="7.97" fill="#e5127d" stroke="none" stroke-width="0"/>
<line x1="449.15" y1="698.26" x2="449.15" y2="703.77" stroke="#333" stroke-width="0.65" stroke-linecap="butt"/>
<line x1="446.95" y1="698.26" x2="451.35" y2="698.26" stroke="#333" stroke-width="0.65" stroke-linecap="butt"/>
<line x1="446.95" y1="703.77" x2="451.35" y2="703.77" stroke="#333" stroke-width="0.65" stroke-linecap="butt"/>
<text x="449.15" y="698.9608000000001" font-size="7.4" text-anchor="middle" font-weight="bold" font-style="normal" fill="#1a1a1a">***</text>
<rect x="411.30" y="582.95" width="10.00" height="2.90" fill="#8a0f52" stroke="none" stroke-width="0"/>
<text x="426.4" y="586.6999999999999" font-size="6.3" text-anchor="start" font-weight="normal" font-style="normal" fill="#1a1a1a">Vehicle</text>
<rect x="411.30" y="590.95" width="10.00" height="2.90" fill="#c9d52e" stroke="none" stroke-width="0"/>
<text x="426.4" y="594.6999999999999" font-size="6.3" text-anchor="start" font-weight="normal" font-style="normal" fill="#1a1a1a">Camizestrant 0.8 mg/kg</text>
<rect x="411.30" y="599.05" width="10.00" height="2.90" fill="#123a6b" stroke="none" stroke-width="0"/>
<text x="426.4" y="602.8" font-size="6.3" text-anchor="start" font-weight="normal" font-style="normal" fill="#1a1a1a">Camizestrant 3.0 mg/kg</text>
<rect x="411.30" y="607.15" width="10.00" height="2.90" fill="#f6a821" stroke="none" stroke-width="0"/>
<text x="426.4" y="610.9" font-size="6.3" text-anchor="start" font-weight="normal" font-style="normal" fill="#1a1a1a">Camizestrant 10.0 mg/kg</text>
<rect x="411.30" y="615.15" width="10.00" height="2.90" fill="#e5127d" stroke="none" stroke-width="0"/>
<text x="426.4" y="618.9" font-size="6.3" text-anchor="start" font-weight="normal" font-style="normal" fill="#1a1a1a">Camizestrant 40.0 mg/kg</text>
<text x="367.2" y="730.2" font-size="7.1" text-anchor="middle" font-weight="bold" font-style="normal" fill="#1a1a1a">Time after first dose (h)</text>
<text x="0.6" y="581.0" font-size="13.4" text-anchor="start" font-weight="bold" font-style="normal" fill="#000">F</text>
<text x="102.5" y="581" font-size="6.8" text-anchor="middle" font-weight="bold" fill="#1a1a1a">CTC-174 (<tspan font-style="italic">ESR1</tspan>m D538G)</text>
<line x1="29.70" y1="590.50" x2="39.70" y2="590.50" stroke="#8a0f52" stroke-width="0.8" stroke-linecap="butt"/>
<circle cx="34.70" cy="590.50" r="1.95" fill="#8a0f52" stroke="none" stroke-width="0"/>
<text x="44.5" y="592.8" font-size="6.3" fill="#1a1a1a">Vehicle (<tspan font-style="italic">n</tspan> = 10)</text>
<line x1="29.70" y1="598.40" x2="39.70" y2="598.40" stroke="#c9d52e" stroke-width="0.8" stroke-linecap="butt"/>
<circle cx="34.70" cy="598.40" r="1.95" fill="#c9d52e" stroke="none" stroke-width="0"/>
<text x="44.5" y="600.6999999999999" font-size="6.3" fill="#1a1a1a">Camizestrant 0.8 mg/kg (<tspan font-style="italic">n</tspan> = 10)</text>
<line x1="29.70" y1="606.40" x2="39.70" y2="606.40" stroke="#123a6b" stroke-width="0.8" stroke-linecap="butt"/>
<circle cx="34.70" cy="606.40" r="1.95" fill="#123a6b" stroke="none" stroke-width="0"/>
<text x="44.5" y="608.6999999999999" font-size="6.3" fill="#1a1a1a">Camizestrant 3 mg/kg (<tspan font-style="italic">n</tspan> = 10)</text>
<line x1="29.70" y1="614.40" x2="39.70" y2="614.40" stroke="#f6a821" stroke-width="0.8" stroke-linecap="butt"/>
<circle cx="34.70" cy="614.40" r="1.95" fill="#f6a821" stroke="none" stroke-width="0"/>
<text x="44.5" y="616.6999999999999" font-size="6.3" fill="#1a1a1a">Camizestrant 10 mg/kg (<tspan font-style="italic">n</tspan> =10)</text>
<line x1="29.70" y1="622.20" x2="39.70" y2="622.20" stroke="#e5127d" stroke-width="0.8" stroke-linecap="butt"/>
<circle cx="34.70" cy="622.20" r="1.95" fill="#e5127d" stroke="none" stroke-width="0"/>
<text x="44.5" y="624.5" font-size="6.3" fill="#1a1a1a">Camizestrant 40 mg/kg (<tspan font-style="italic">n</tspan> = 10)</text>
<line x1="25.10" y1="589.90" x2="25.10" y2="707.00" stroke="#b5b5b5" stroke-width="0.7" stroke-linecap="butt"/>
<line x1="25.10" y1="707.00" x2="187.50" y2="707.00" stroke="#b5b5b5" stroke-width="0.7" stroke-linecap="butt"/>
<line x1="22.40" y1="707.00" x2="25.10" y2="707.00" stroke="#b5b5b5" stroke-width="0.7" stroke-linecap="butt"/>
<text x="18.6" y="709.3" font-size="6.8" text-anchor="end" font-weight="normal" font-style="normal" fill="#1a1a1a">0</text>
<line x1="22.40" y1="683.64" x2="25.10" y2="683.64" stroke="#b5b5b5" stroke-width="0.7" stroke-linecap="butt"/>
<text x="18.6" y="685.9399999999999" font-size="6.8" text-anchor="end" font-weight="normal" font-style="normal" fill="#1a1a1a">2</text>
<line x1="22.40" y1="660.28" x2="25.10" y2="660.28" stroke="#b5b5b5" stroke-width="0.7" stroke-linecap="butt"/>
<text x="18.6" y="662.5799999999999" font-size="6.8" text-anchor="end" font-weight="normal" font-style="normal" fill="#1a1a1a">4</text>
<line x1="22.40" y1="636.92" x2="25.10" y2="636.92" stroke="#b5b5b5" stroke-width="0.7" stroke-linecap="butt"/>
<text x="18.6" y="639.2199999999999" font-size="6.8" text-anchor="end" font-weight="normal" font-style="normal" fill="#1a1a1a">6</text>
<line x1="22.40" y1="613.56" x2="25.10" y2="613.56" stroke="#b5b5b5" stroke-width="0.7" stroke-linecap="butt"/>
<text x="18.6" y="615.8599999999999" font-size="6.8" text-anchor="end" font-weight="normal" font-style="normal" fill="#1a1a1a">8</text>
<line x1="22.40" y1="590.20" x2="25.10" y2="590.20" stroke="#b5b5b5" stroke-width="0.7" stroke-linecap="butt"/>
<text x="18.6" y="592.5" font-size="6.8" text-anchor="end" font-weight="normal" font-style="normal" fill="#1a1a1a">10</text>
<line x1="25.60" y1="707.00" x2="25.60" y2="709.50" stroke="#b5b5b5" stroke-width="0.7" stroke-linecap="butt"/>
<text x="25.6" y="719.5" font-size="6.8" text-anchor="middle" font-weight="normal" font-style="normal" fill="#1a1a1a">0</text>
<line x1="73.60" y1="707.00" x2="73.60" y2="709.50" stroke="#b5b5b5" stroke-width="0.7" stroke-linecap="butt"/>
<text x="73.6" y="719.5" font-size="6.8" text-anchor="middle" font-weight="normal" font-style="normal" fill="#1a1a1a">10</text>
<line x1="121.60" y1="707.00" x2="121.60" y2="709.50" stroke="#b5b5b5" stroke-width="0.7" stroke-linecap="butt"/>
<text x="121.6" y="719.5" font-size="6.8" text-anchor="middle" font-weight="normal" font-style="normal" fill="#1a1a1a">20</text>
<line x1="169.60" y1="707.00" x2="169.60" y2="709.50" stroke="#b5b5b5" stroke-width="0.7" stroke-linecap="butt"/>
<text x="169.6" y="719.5" font-size="6.8" text-anchor="middle" font-weight="normal" font-style="normal" fill="#1a1a1a">30</text>
<text x="100" y="730.4" font-size="7" text-anchor="middle" font-weight="bold" font-style="normal" fill="#1a1a1a">Time after first dose (d)</text>
<text x="7.0" y="647.5" font-size="7.1" text-anchor="middle" font-weight="bold" font-style="normal" fill="#1a1a1a" transform="rotate(-90 7.0 647.5)">Relative tumor volume</text>
<line x1="24.00" y1="695.32" x2="190.00" y2="695.32" stroke="#e39ab9" stroke-width="0.8" stroke-dasharray="1 1.6" stroke-linecap="butt"/>
<line x1="64.00" y1="692.00" x2="64.00" y2="695.00" stroke="#123a6b" stroke-width="0.7" stroke-linecap="butt"/>
<line x1="62.30" y1="692.00" x2="65.70" y2="692.00" stroke="#123a6b" stroke-width="0.7" stroke-linecap="butt"/>
<line x1="62.30" y1="695.00" x2="65.70" y2="695.00" stroke="#123a6b" stroke-width="0.7" stroke-linecap="butt"/>
<line x1="83.20" y1="689.00" x2="83.20" y2="693.00" stroke="#123a6b" stroke-width="0.7" stroke-linecap="butt"/>
<line x1="81.50" y1="689.00" x2="84.90" y2="689.00" stroke="#123a6b" stroke-width="0.7" stroke-linecap="butt"/>
<line x1="81.50" y1="693.00" x2="84.90" y2="693.00" stroke="#123a6b" stroke-width="0.7" stroke-linecap="butt"/>
<line x1="97.60" y1="687.50" x2="97.60" y2="692.50" stroke="#123a6b" stroke-width="0.7" stroke-linecap="butt"/>
<line x1="95.90" y1="687.50" x2="99.30" y2="687.50" stroke="#123a6b" stroke-width="0.7" stroke-linecap="butt"/>
<line x1="95.90" y1="692.50" x2="99.30" y2="692.50" stroke="#123a6b" stroke-width="0.7" stroke-linecap="butt"/>
<line x1="116.80" y1="685.00" x2="116.80" y2="691.00" stroke="#123a6b" stroke-width="0.7" stroke-linecap="butt"/>
<line x1="115.10" y1="685.00" x2="118.50" y2="685.00" stroke="#123a6b" stroke-width="0.7" stroke-linecap="butt"/>
<line x1="115.10" y1="691.00" x2="118.50" y2="691.00" stroke="#123a6b" stroke-width="0.7" stroke-linecap="butt"/>
<line x1="131.20" y1="683.50" x2="131.20" y2="689.50" stroke="#123a6b" stroke-width="0.7" stroke-linecap="butt"/>
<line x1="129.50" y1="683.50" x2="132.90" y2="683.50" stroke="#123a6b" stroke-width="0.7" stroke-linecap="butt"/>
<line x1="129.50" y1="689.50" x2="132.90" y2="689.50" stroke="#123a6b" stroke-width="0.7" stroke-linecap="butt"/>
<line x1="150.40" y1="681.50" x2="150.40" y2="688.50" stroke="#123a6b" stroke-width="0.7" stroke-linecap="butt"/>
<line x1="148.70" y1="681.50" x2="152.10" y2="681.50" stroke="#123a6b" stroke-width="0.7" stroke-linecap="butt"/>
<line x1="148.70" y1="688.50" x2="152.10" y2="688.50" stroke="#123a6b" stroke-width="0.7" stroke-linecap="butt"/>
<line x1="164.80" y1="681.00" x2="164.80" y2="688.00" stroke="#123a6b" stroke-width="0.7" stroke-linecap="butt"/>
<line x1="163.10" y1="681.00" x2="166.50" y2="681.00" stroke="#123a6b" stroke-width="0.7" stroke-linecap="butt"/>
<line x1="163.10" y1="688.00" x2="166.50" y2="688.00" stroke="#123a6b" stroke-width="0.7" stroke-linecap="butt"/>
<line x1="184.00" y1="679.20" x2="184.00" y2="688.20" stroke="#123a6b" stroke-width="0.7" stroke-linecap="butt"/>
<line x1="182.30" y1="679.20" x2="185.70" y2="679.20" stroke="#123a6b" stroke-width="0.7" stroke-linecap="butt"/>
<line x1="182.30" y1="688.20" x2="185.70" y2="688.20" stroke="#123a6b" stroke-width="0.7" stroke-linecap="butt"/>
<polyline points="25.60,695.00 49.60,695.00 64.00,693.50 83.20,691.00 97.60,690.00 116.80,688.00 131.20,686.50 150.40,685.00 164.80,684.50 184.00,683.70" fill="none" stroke="#123a6b" stroke-width="0.9" stroke-linejoin="round"/>
<circle cx="25.60" cy="695.00" r="2.35" fill="#123a6b" stroke="none" stroke-width="0"/>
<circle cx="49.60" cy="695.00" r="2.35" fill="#123a6b" stroke="none" stroke-width="0"/>
<circle cx="64.00" cy="693.50" r="2.35" fill="#123a6b" stroke="none" stroke-width="0"/>
<circle cx="83.20" cy="691.00" r="2.35" fill="#123a6b" stroke="none" stroke-width="0"/>
<circle cx="97.60" cy="690.00" r="2.35" fill="#123a6b" stroke="none" stroke-width="0"/>
<circle cx="116.80" cy="688.00" r="2.35" fill="#123a6b" stroke="none" stroke-width="0"/>
<circle cx="131.20" cy="686.50" r="2.35" fill="#123a6b" stroke="none" stroke-width="0"/>
<circle cx="150.40" cy="685.00" r="2.35" fill="#123a6b" stroke="none" stroke-width="0"/>
<circle cx="164.80" cy="684.50" r="2.35" fill="#123a6b" stroke="none" stroke-width="0"/>
<circle cx="184.00" cy="683.70" r="2.35" fill="#123a6b" stroke="none" stroke-width="0"/>
<line x1="64.00" y1="691.50" x2="64.00" y2="693.50" stroke="#f6a821" stroke-width="0.7" stroke-linecap="butt"/>
<line x1="62.30" y1="691.50" x2="65.70" y2="691.50" stroke="#f6a821" stroke-width="0.7" stroke-linecap="butt"/>
<line x1="62.30" y1="693.50" x2="65.70" y2="693.50" stroke="#f6a821" stroke-width="0.7" stroke-linecap="butt"/>
<line x1="83.20" y1="690.00" x2="83.20" y2="693.00" stroke="#f6a821" stroke-width="0.7" stroke-linecap="butt"/>
<line x1="81.50" y1="690.00" x2="84.90" y2="690.00" stroke="#f6a821" stroke-width="0.7" stroke-linecap="butt"/>
<line x1="81.50" y1="693.00" x2="84.90" y2="693.00" stroke="#f6a821" stroke-width="0.7" stroke-linecap="butt"/>
<line x1="97.60" y1="689.50" x2="97.60" y2="692.50" stroke="#f6a821" stroke-width="0.7" stroke-linecap="butt"/>
<line x1="95.90" y1="689.50" x2="99.30" y2="689.50" stroke="#f6a821" stroke-width="0.7" stroke-linecap="butt"/>
<line x1="95.90" y1="692.50" x2="99.30" y2="692.50" stroke="#f6a821" stroke-width="0.7" stroke-linecap="butt"/>
<line x1="116.80" y1="689.50" x2="116.80" y2="692.50" stroke="#f6a821" stroke-width="0.7" stroke-linecap="butt"/>
<line x1="115.10" y1="689.50" x2="118.50" y2="689.50" stroke="#f6a821" stroke-width="0.7" stroke-linecap="butt"/>
<line x1="115.10" y1="692.50" x2="118.50" y2="692.50" stroke="#f6a821" stroke-width="0.7" stroke-linecap="butt"/>
<line x1="131.20" y1="689.00" x2="131.20" y2="693.00" stroke="#f6a821" stroke-width="0.7" stroke-linecap="butt"/>
<line x1="129.50" y1="689.00" x2="132.90" y2="689.00" stroke="#f6a821" stroke-width="0.7" stroke-linecap="butt"/>
<line x1="129.50" y1="693.00" x2="132.90" y2="693.00" stroke="#f6a821" stroke-width="0.7" stroke-linecap="butt"/>
<line x1="150.40" y1="688.00" x2="150.40" y2="692.00" stroke="#f6a821" stroke-width="0.7" stroke-linecap="butt"/>
<line x1="148.70" y1="688.00" x2="152.10" y2="688.00" stroke="#f6a821" stroke-width="0.7" stroke-linecap="butt"/>
<line x1="148.70" y1="692.00" x2="152.10" y2="692.00" stroke="#f6a821" stroke-width="0.7" stroke-linecap="butt"/>
<line x1="164.80" y1="688.00" x2="164.80" y2="692.00" stroke="#f6a821" stroke-width="0.7" stroke-linecap="butt"/>
<line x1="163.10" y1="688.00" x2="166.50" y2="688.00" stroke="#f6a821" stroke-width="0.7" stroke-linecap="butt"/>
<line x1="163.10" y1="692.00" x2="166.50" y2="692.00" stroke="#f6a821" stroke-width="0.7" stroke-linecap="butt"/>
<line x1="184.00" y1="688.50" x2="184.00" y2="692.50" stroke="#f6a821" stroke-width="0.7" stroke-linecap="butt"/>
<line x1="182.30" y1="688.50" x2="185.70" y2="688.50" stroke="#f6a821" stroke-width="0.7" stroke-linecap="butt"/>
<line x1="182.30" y1="692.50" x2="185.70" y2="692.50" stroke="#f6a821" stroke-width="0.7" stroke-linecap="butt"/>
<polyline points="25.60,695.00 49.60,694.00 64.00,692.50 83.20,691.50 97.60,691.00 116.80,691.00 131.20,691.00 150.40,690.00 164.80,690.00 184.00,690.50" fill="none" stroke="#f6a821" stroke-width="0.9" stroke-linejoin="round"/>
<circle cx="25.60" cy="695.00" r="2.35" fill="#f6a821" stroke="none" stroke-width="0"/>
<circle cx="49.60" cy="694.00" r="2.35" fill="#f6a821" stroke="none" stroke-width="0"/>
<circle cx="64.00" cy="692.50" r="2.35" fill="#f6a821" stroke="none" stroke-width="0"/>
<circle cx="83.20" cy="691.50" r="2.35" fill="#f6a821" stroke="none" stroke-width="0"/>
<circle cx="97.60" cy="691.00" r="2.35" fill="#f6a821" stroke="none" stroke-width="0"/>
<circle cx="116.80" cy="691.00" r="2.35" fill="#f6a821" stroke="none" stroke-width="0"/>
<circle cx="131.20" cy="691.00" r="2.35" fill="#f6a821" stroke="none" stroke-width="0"/>
<circle cx="150.40" cy="690.00" r="2.35" fill="#f6a821" stroke="none" stroke-width="0"/>
<circle cx="164.80" cy="690.00" r="2.35" fill="#f6a821" stroke="none" stroke-width="0"/>
<circle cx="184.00" cy="690.50" r="2.35" fill="#f6a821" stroke="none" stroke-width="0"/>
<line x1="83.20" y1="691.00" x2="83.20" y2="693.00" stroke="#e5127d" stroke-width="0.7" stroke-linecap="butt"/>
<line x1="81.50" y1="691.00" x2="84.90" y2="691.00" stroke="#e5127d" stroke-width="0.7" stroke-linecap="butt"/>
<line x1="81.50" y1="693.00" x2="84.90" y2="693.00" stroke="#e5127d" stroke-width="0.7" stroke-linecap="butt"/>
<line x1="97.60" y1="689.50" x2="97.60" y2="692.50" stroke="#e5127d" stroke-width="0.7" stroke-linecap="butt"/>
<line x1="95.90" y1="689.50" x2="99.30" y2="689.50" stroke="#e5127d" stroke-width="0.7" stroke-linecap="butt"/>
<line x1="95.90" y1="692.50" x2="99.30" y2="692.50" stroke="#e5127d" stroke-width="0.7" stroke-linecap="butt"/>
<line x1="116.80" y1="692.00" x2="116.80" y2="695.00" stroke="#e5127d" stroke-width="0.7" stroke-linecap="butt"/>
<line x1="115.10" y1="692.00" x2="118.50" y2="692.00" stroke="#e5127d" stroke-width="0.7" stroke-linecap="butt"/>
<line x1="115.10" y1="695.00" x2="118.50" y2="695.00" stroke="#e5127d" stroke-width="0.7" stroke-linecap="butt"/>
<line x1="131.20" y1="692.50" x2="131.20" y2="695.50" stroke="#e5127d" stroke-width="0.7" stroke-linecap="butt"/>
<line x1="129.50" y1="692.50" x2="132.90" y2="692.50" stroke="#e5127d" stroke-width="0.7" stroke-linecap="butt"/>
<line x1="129.50" y1="695.50" x2="132.90" y2="695.50" stroke="#e5127d" stroke-width="0.7" stroke-linecap="butt"/>
<line x1="150.40" y1="691.50" x2="150.40" y2="694.50" stroke="#e5127d" stroke-width="0.7" stroke-linecap="butt"/>
<line x1="148.70" y1="691.50" x2="152.10" y2="691.50" stroke="#e5127d" stroke-width="0.7" stroke-linecap="butt"/>
<line x1="148.70" y1="694.50" x2="152.10" y2="694.50" stroke="#e5127d" stroke-width="0.7" stroke-linecap="butt"/>
<line x1="164.80" y1="692.00" x2="164.80" y2="695.00" stroke="#e5127d" stroke-width="0.7" stroke-linecap="butt"/>
<line x1="163.10" y1="692.00" x2="166.50" y2="692.00" stroke="#e5127d" stroke-width="0.7" stroke-linecap="butt"/>
<line x1="163.10" y1="695.00" x2="166.50" y2="695.00" stroke="#e5127d" stroke-width="0.7" stroke-linecap="butt"/>
<line x1="184.00" y1="693.00" x2="184.00" y2="696.00" stroke="#e5127d" stroke-width="0.7" stroke-linecap="butt"/>
<line x1="182.30" y1="693.00" x2="185.70" y2="693.00" stroke="#e5127d" stroke-width="0.7" stroke-linecap="butt"/>
<line x1="182.30" y1="696.00" x2="185.70" y2="696.00" stroke="#e5127d" stroke-width="0.7" stroke-linecap="butt"/>
<polyline points="25.60,695.00 49.60,696.00 64.00,694.00 83.20,692.00 97.60,691.00 116.80,693.50 131.20,694.00 150.40,693.00 164.80,693.50 184.00,694.50" fill="none" stroke="#e5127d" stroke-width="0.9" stroke-linejoin="round"/>
<circle cx="25.60" cy="695.00" r="2.35" fill="#e5127d" stroke="none" stroke-width="0"/>
<circle cx="49.60" cy="696.00" r="2.35" fill="#e5127d" stroke="none" stroke-width="0"/>
<circle cx="64.00" cy="694.00" r="2.35" fill="#e5127d" stroke="none" stroke-width="0"/>
<circle cx="83.20" cy="692.00" r="2.35" fill="#e5127d" stroke="none" stroke-width="0"/>
<circle cx="97.60" cy="691.00" r="2.35" fill="#e5127d" stroke="none" stroke-width="0"/>
<circle cx="116.80" cy="693.50" r="2.35" fill="#e5127d" stroke="none" stroke-width="0"/>
<circle cx="131.20" cy="694.00" r="2.35" fill="#e5127d" stroke="none" stroke-width="0"/>
<circle cx="150.40" cy="693.00" r="2.35" fill="#e5127d" stroke="none" stroke-width="0"/>
<circle cx="164.80" cy="693.50" r="2.35" fill="#e5127d" stroke="none" stroke-width="0"/>
<circle cx="184.00" cy="694.50" r="2.35" fill="#e5127d" stroke="none" stroke-width="0"/>
<line x1="49.60" y1="688.50" x2="49.60" y2="691.50" stroke="#c9d52e" stroke-width="0.7" stroke-linecap="butt"/>
<line x1="47.90" y1="688.50" x2="51.30" y2="688.50" stroke="#c9d52e" stroke-width="0.7" stroke-linecap="butt"/>
<line x1="47.90" y1="691.50" x2="51.30" y2="691.50" stroke="#c9d52e" stroke-width="0.7" stroke-linecap="butt"/>
<line x1="64.00" y1="685.50" x2="64.00" y2="689.50" stroke="#c9d52e" stroke-width="0.7" stroke-linecap="butt"/>
<line x1="62.30" y1="685.50" x2="65.70" y2="685.50" stroke="#c9d52e" stroke-width="0.7" stroke-linecap="butt"/>
<line x1="62.30" y1="689.50" x2="65.70" y2="689.50" stroke="#c9d52e" stroke-width="0.7" stroke-linecap="butt"/>
<line x1="83.20" y1="681.00" x2="83.20" y2="687.00" stroke="#c9d52e" stroke-width="0.7" stroke-linecap="butt"/>
<line x1="81.50" y1="681.00" x2="84.90" y2="681.00" stroke="#c9d52e" stroke-width="0.7" stroke-linecap="butt"/>
<line x1="81.50" y1="687.00" x2="84.90" y2="687.00" stroke="#c9d52e" stroke-width="0.7" stroke-linecap="butt"/>
<line x1="97.60" y1="676.00" x2="97.60" y2="684.00" stroke="#c9d52e" stroke-width="0.7" stroke-linecap="butt"/>
<line x1="95.90" y1="676.00" x2="99.30" y2="676.00" stroke="#c9d52e" stroke-width="0.7" stroke-linecap="butt"/>
<line x1="95.90" y1="684.00" x2="99.30" y2="684.00" stroke="#c9d52e" stroke-width="0.7" stroke-linecap="butt"/>
<line x1="116.80" y1="670.00" x2="116.80" y2="680.00" stroke="#c9d52e" stroke-width="0.7" stroke-linecap="butt"/>
<line x1="115.10" y1="670.00" x2="118.50" y2="670.00" stroke="#c9d52e" stroke-width="0.7" stroke-linecap="butt"/>
<line x1="115.10" y1="680.00" x2="118.50" y2="680.00" stroke="#c9d52e" stroke-width="0.7" stroke-linecap="butt"/>
<line x1="131.20" y1="667.50" x2="131.20" y2="679.50" stroke="#c9d52e" stroke-width="0.7" stroke-linecap="butt"/>
<line x1="129.50" y1="667.50" x2="132.90" y2="667.50" stroke="#c9d52e" stroke-width="0.7" stroke-linecap="butt"/>
<line x1="129.50" y1="679.50" x2="132.90" y2="679.50" stroke="#c9d52e" stroke-width="0.7" stroke-linecap="butt"/>
<line x1="150.40" y1="658.50" x2="150.40" y2="673.50" stroke="#c9d52e" stroke-width="0.7" stroke-linecap="butt"/>
<line x1="148.70" y1="658.50" x2="152.10" y2="658.50" stroke="#c9d52e" stroke-width="0.7" stroke-linecap="butt"/>
<line x1="148.70" y1="673.50" x2="152.10" y2="673.50" stroke="#c9d52e" stroke-width="0.7" stroke-linecap="butt"/>
<line x1="164.80" y1="654.00" x2="164.80" y2="669.00" stroke="#c9d52e" stroke-width="0.7" stroke-linecap="butt"/>
<line x1="163.10" y1="654.00" x2="166.50" y2="654.00" stroke="#c9d52e" stroke-width="0.7" stroke-linecap="butt"/>
<line x1="163.10" y1="669.00" x2="166.50" y2="669.00" stroke="#c9d52e" stroke-width="0.7" stroke-linecap="butt"/>
<line x1="184.00" y1="644.50" x2="184.00" y2="663.50" stroke="#c9d52e" stroke-width="0.7" stroke-linecap="butt"/>
<line x1="182.30" y1="644.50" x2="185.70" y2="644.50" stroke="#c9d52e" stroke-width="0.7" stroke-linecap="butt"/>
<line x1="182.30" y1="663.50" x2="185.70" y2="663.50" stroke="#c9d52e" stroke-width="0.7" stroke-linecap="butt"/>
<polyline points="25.60,695.00 49.60,690.00 64.00,687.50 83.20,684.00 97.60,680.00 116.80,675.00 131.20,673.50 150.40,666.00 164.80,661.00 184.00,654.00" fill="none" stroke="#c9d52e" stroke-width="0.9" stroke-linejoin="round"/>
<circle cx="25.60" cy="695.00" r="2.35" fill="#c9d52e" stroke="none" stroke-width="0"/>
<circle cx="49.60" cy="690.00" r="2.35" fill="#c9d52e" stroke="none" stroke-width="0"/>
<circle cx="64.00" cy="687.50" r="2.35" fill="#c9d52e" stroke="none" stroke-width="0"/>
<circle cx="83.20" cy="684.00" r="2.35" fill="#c9d52e" stroke="none" stroke-width="0"/>
<circle cx="97.60" cy="680.00" r="2.35" fill="#c9d52e" stroke="none" stroke-width="0"/>
<circle cx="116.80" cy="675.00" r="2.35" fill="#c9d52e" stroke="none" stroke-width="0"/>
<circle cx="131.20" cy="673.50" r="2.35" fill="#c9d52e" stroke="none" stroke-width="0"/>
<circle cx="150.40" cy="666.00" r="2.35" fill="#c9d52e" stroke="none" stroke-width="0"/>
<circle cx="164.80" cy="661.00" r="2.35" fill="#c9d52e" stroke="none" stroke-width="0"/>
<circle cx="184.00" cy="654.00" r="2.35" fill="#c9d52e" stroke="none" stroke-width="0"/>
<line x1="49.60" y1="691.00" x2="49.60" y2="694.00" stroke="#8a0f52" stroke-width="0.7" stroke-linecap="butt"/>
<line x1="47.90" y1="691.00" x2="51.30" y2="691.00" stroke="#8a0f52" stroke-width="0.7" stroke-linecap="butt"/>
<line x1="47.90" y1="694.00" x2="51.30" y2="694.00" stroke="#8a0f52" stroke-width="0.7" stroke-linecap="butt"/>
<line x1="64.00" y1="684.50" x2="64.00" y2="690.50" stroke="#8a0f52" stroke-width="0.7" stroke-linecap="butt"/>
<line x1="62.30" y1="684.50" x2="65.70" y2="684.50" stroke="#8a0f52" stroke-width="0.7" stroke-linecap="butt"/>
<line x1="62.30" y1="690.50" x2="65.70" y2="690.50" stroke="#8a0f52" stroke-width="0.7" stroke-linecap="butt"/>
<line x1="83.20" y1="676.00" x2="83.20" y2="684.00" stroke="#8a0f52" stroke-width="0.7" stroke-linecap="butt"/>
<line x1="81.50" y1="676.00" x2="84.90" y2="676.00" stroke="#8a0f52" stroke-width="0.7" stroke-linecap="butt"/>
<line x1="81.50" y1="684.00" x2="84.90" y2="684.00" stroke="#8a0f52" stroke-width="0.7" stroke-linecap="butt"/>
<line x1="97.60" y1="669.00" x2="97.60" y2="679.00" stroke="#8a0f52" stroke-width="0.7" stroke-linecap="butt"/>
<line x1="95.90" y1="669.00" x2="99.30" y2="669.00" stroke="#8a0f52" stroke-width="0.7" stroke-linecap="butt"/>
<line x1="95.90" y1="679.00" x2="99.30" y2="679.00" stroke="#8a0f52" stroke-width="0.7" stroke-linecap="butt"/>
<line x1="116.80" y1="660.00" x2="116.80" y2="672.00" stroke="#8a0f52" stroke-width="0.7" stroke-linecap="butt"/>
<line x1="115.10" y1="660.00" x2="118.50" y2="660.00" stroke="#8a0f52" stroke-width="0.7" stroke-linecap="butt"/>
<line x1="115.10" y1="672.00" x2="118.50" y2="672.00" stroke="#8a0f52" stroke-width="0.7" stroke-linecap="butt"/>
<line x1="131.20" y1="648.50" x2="131.20" y2="664.50" stroke="#8a0f52" stroke-width="0.7" stroke-linecap="butt"/>
<line x1="129.50" y1="648.50" x2="132.90" y2="648.50" stroke="#8a0f52" stroke-width="0.7" stroke-linecap="butt"/>
<line x1="129.50" y1="664.50" x2="132.90" y2="664.50" stroke="#8a0f52" stroke-width="0.7" stroke-linecap="butt"/>
<line x1="150.40" y1="638.00" x2="150.40" y2="661.00" stroke="#8a0f52" stroke-width="0.7" stroke-linecap="butt"/>
<line x1="148.70" y1="638.00" x2="152.10" y2="638.00" stroke="#8a0f52" stroke-width="0.7" stroke-linecap="butt"/>
<line x1="148.70" y1="661.00" x2="152.10" y2="661.00" stroke="#8a0f52" stroke-width="0.7" stroke-linecap="butt"/>
<line x1="164.80" y1="620.50" x2="164.80" y2="650.50" stroke="#8a0f52" stroke-width="0.7" stroke-linecap="butt"/>
<line x1="163.10" y1="620.50" x2="166.50" y2="620.50" stroke="#8a0f52" stroke-width="0.7" stroke-linecap="butt"/>
<line x1="163.10" y1="650.50" x2="166.50" y2="650.50" stroke="#8a0f52" stroke-width="0.7" stroke-linecap="butt"/>
<line x1="184.00" y1="599.30" x2="184.00" y2="636.30" stroke="#8a0f52" stroke-width="0.7" stroke-linecap="butt"/>
<line x1="182.30" y1="599.30" x2="185.70" y2="599.30" stroke="#8a0f52" stroke-width="0.7" stroke-linecap="butt"/>
<line x1="182.30" y1="636.30" x2="185.70" y2="636.30" stroke="#8a0f52" stroke-width="0.7" stroke-linecap="butt"/>
<polyline points="25.60,695.00 49.60,692.50 64.00,687.50 83.20,680.00 97.60,674.00 116.80,666.00 131.20,656.50 150.40,650.00 164.80,636.50 184.00,619.80" fill="none" stroke="#8a0f52" stroke-width="0.9" stroke-linejoin="round"/>
<circle cx="25.60" cy="695.00" r="2.35" fill="#8a0f52" stroke="none" stroke-width="0"/>
<circle cx="49.60" cy="692.50" r="2.35" fill="#8a0f52" stroke="none" stroke-width="0"/>
<circle cx="64.00" cy="687.50" r="2.35" fill="#8a0f52" stroke="none" stroke-width="0"/>
<circle cx="83.20" cy="680.00" r="2.35" fill="#8a0f52" stroke="none" stroke-width="0"/>
<circle cx="97.60" cy="674.00" r="2.35" fill="#8a0f52" stroke="none" stroke-width="0"/>
<circle cx="116.80" cy="666.00" r="2.35" fill="#8a0f52" stroke="none" stroke-width="0"/>
<circle cx="131.20" cy="656.50" r="2.35" fill="#8a0f52" stroke="none" stroke-width="0"/>
<circle cx="150.40" cy="650.00" r="2.35" fill="#8a0f52" stroke="none" stroke-width="0"/>
<circle cx="164.80" cy="636.50" r="2.35" fill="#8a0f52" stroke="none" stroke-width="0"/>
<circle cx="184.00" cy="619.80" r="2.35" fill="#8a0f52" stroke="none" stroke-width="0"/>
<polyline points="189.9,616.2 193.3,616.2 193.3,652.5 189.9,652.5" fill="none" stroke="#555" stroke-width="0.7"/>
<text x="194.8" y="640.0" font-size="7.6" text-anchor="start" font-weight="bold" font-style="normal" fill="#1a1a1a">**</text>
<polyline points="189.9,653.8 193.3,653.8 193.3,683 189.9,683" fill="none" stroke="#555" stroke-width="0.7"/>
<text x="194.8" y="670.2" font-size="7.6" text-anchor="start" font-weight="bold" font-style="normal" fill="#1a1a1a">***</text>
<polyline points="190.3,684.2 193.3,684.2 193.3,688.2 190.3,688.2" fill="none" stroke="#555" stroke-width="0.7"/>
<text x="194.8" y="690.6" font-size="7.6" text-anchor="start" font-weight="bold" font-style="normal" fill="#1a1a1a">**</text>
<polyline points="190.70000000000002,689.8 193.3,689.8 193.3,694.0 190.70000000000002,694.0" fill="none" stroke="#555" stroke-width="0.7"/>
<text x="194.6" y="695.0" font-size="6.3" text-anchor="start" font-weight="normal" font-style="normal" fill="#1a1a1a">NS</text>
</svg>
</body></html>
